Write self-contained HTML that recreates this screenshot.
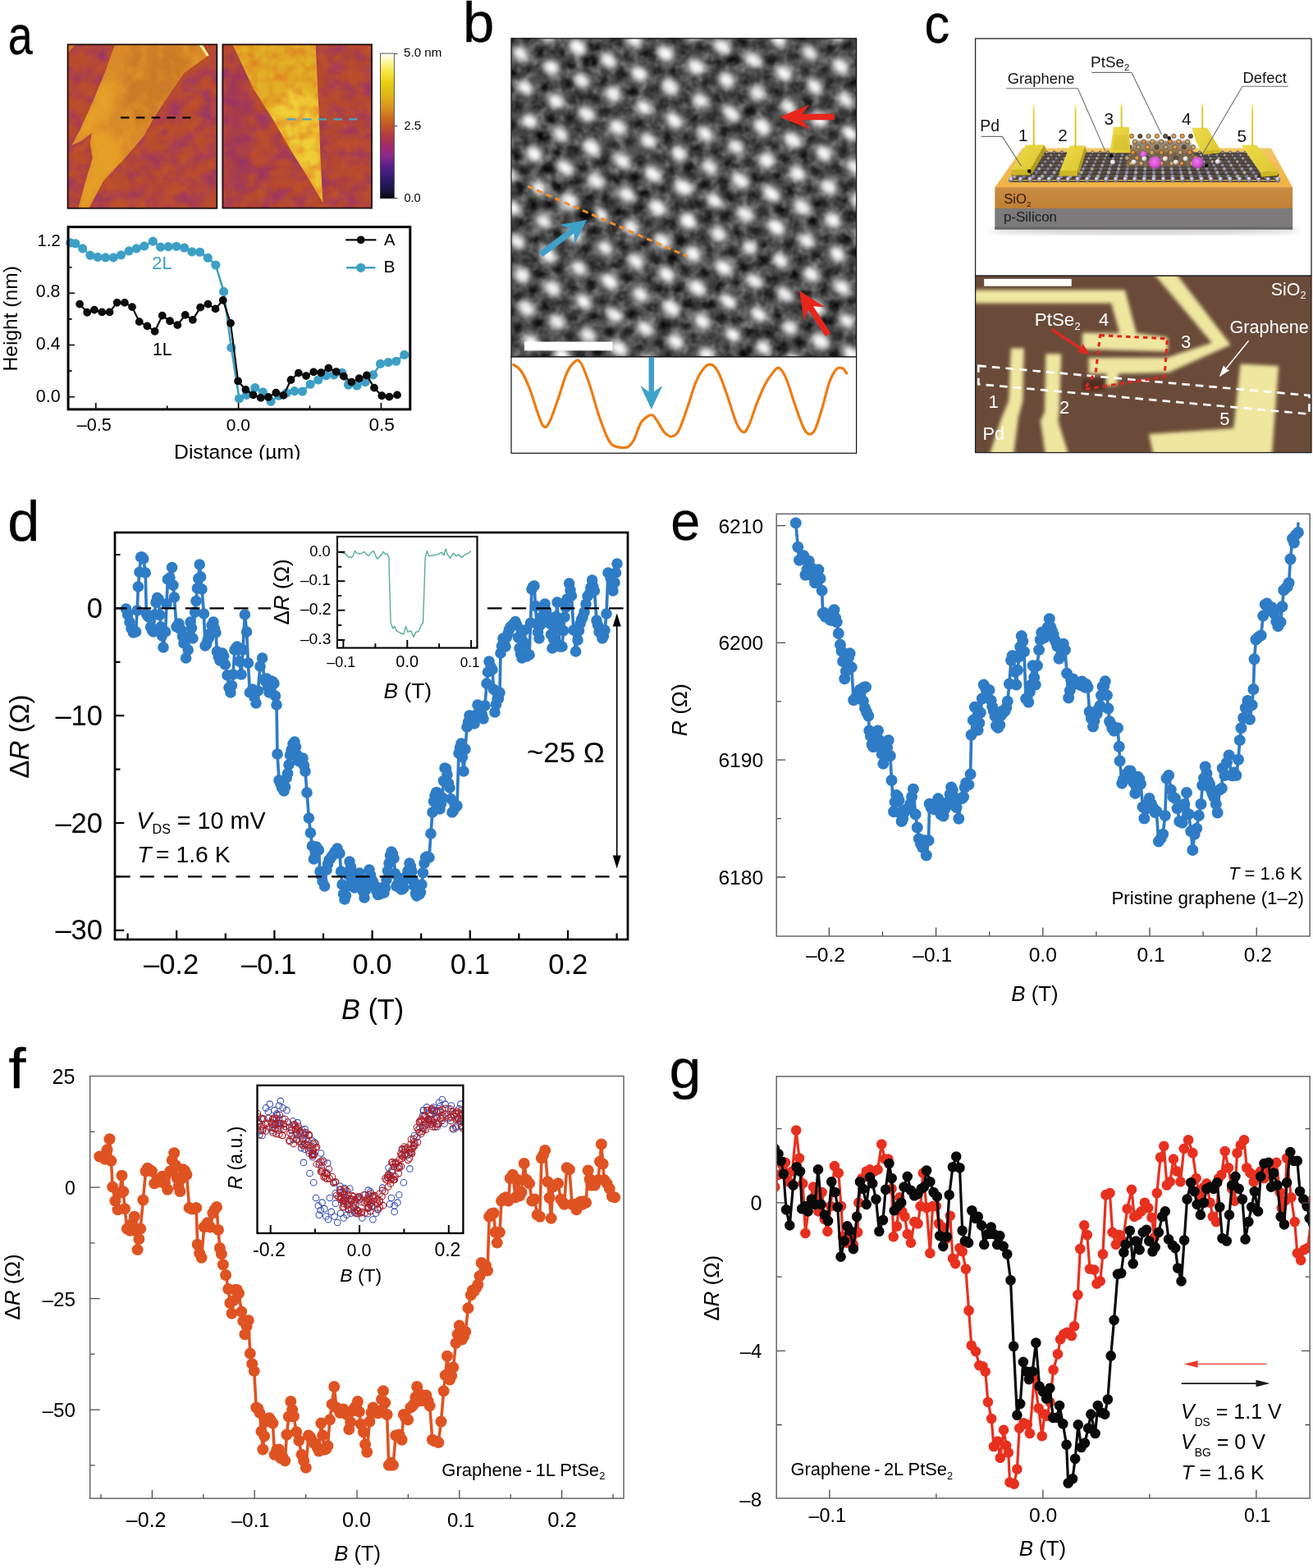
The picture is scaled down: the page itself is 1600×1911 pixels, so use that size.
<!DOCTYPE html>
<html lang="en"><head><meta charset="utf-8"><title>Figure</title>
<style>
html,body{margin:0;padding:0;background:#fff;}
body{width:1600px;height:1911px;overflow:hidden;}
svg{display:block;font-family:'Liberation Sans', Arial, Helvetica, sans-serif;}
</style></head><body>
<svg width="1600" height="1911" viewBox="0 0 1600 1911">
<defs>
<linearGradient id="cbar" x1="0" y1="0" x2="0" y2="1">
<stop offset="0" stop-color="#ffffff"/><stop offset="0.05" stop-color="#fff8b0"/>
<stop offset="0.12" stop-color="#f8e848"/><stop offset="0.20" stop-color="#e8d010"/>
<stop offset="0.28" stop-color="#e0b818"/><stop offset="0.38" stop-color="#d89020"/>
<stop offset="0.44" stop-color="#cc6e20"/><stop offset="0.51" stop-color="#c0502c"/>
<stop offset="0.575" stop-color="#b03848"/><stop offset="0.64" stop-color="#a02c6c"/>
<stop offset="0.705" stop-color="#8c2a8c"/><stop offset="0.77" stop-color="#5c2088"/>
<stop offset="0.835" stop-color="#3c1c7c"/><stop offset="0.90" stop-color="#241860"/>
<stop offset="0.966" stop-color="#181030"/><stop offset="1" stop-color="#050505"/>
</linearGradient>
<filter id="afmP" x="0" y="0" width="100%" height="100%" color-interpolation-filters="sRGB">
<feTurbulence type="fractalNoise" baseFrequency="0.045 0.06" numOctaves="3" seed="7" result="n"/>
<feColorMatrix in="n" type="matrix" values="0 0 0 0 0.60  0 0 0 0 0.20  0 0 0 0 0.42  2.2 0 0 0 -0.85"/>
<feComposite operator="in" in2="SourceGraphic"/>
</filter>
<filter id="afmY" x="0" y="0" width="100%" height="100%" color-interpolation-filters="sRGB">
<feTurbulence type="fractalNoise" baseFrequency="0.06 0.05" numOctaves="3" seed="21" result="n"/>
<feColorMatrix in="n" type="matrix" values="0 0 0 0 0.93  0 0 0 0 0.68  0 0 0 0 0.16  0 2.0 0 0 -0.85"/>
<feComposite operator="in" in2="SourceGraphic"/>
</filter>
<filter id="afmO" x="0" y="0" width="100%" height="100%" color-interpolation-filters="sRGB">
<feTurbulence type="fractalNoise" baseFrequency="0.07 0.07" numOctaves="2" seed="33" result="n"/>
<feColorMatrix in="n" type="matrix" values="0 0 0 0 0.86  0 0 0 0 0.40  0 0 0 0 0.12  0 0 2.4 0 -0.95"/>
<feComposite operator="in" in2="SourceGraphic"/>
</filter>
<filter id="b07"><feGaussianBlur stdDeviation="0.7"/></filter>
<clipPath id="afm1c"><rect x="82.6" y="54.3" width="181.7" height="199.5"/></clipPath>
<clipPath id="afm2c"><rect x="271.4" y="54.3" width="181.6" height="199.3"/></clipPath>
<filter id="b3"><feGaussianBlur stdDeviation="6"/></filter><filter id="b4" x="-30%" y="-30%" width="160%" height="160%"><feGaussianBlur stdDeviation="5"/></filter>

<filter id="stmB" x="-5%" y="-5%" width="110%" height="110%"><feGaussianBlur stdDeviation="3.6"/></filter>
<filter id="stmB2" x="-5%" y="-5%" width="110%" height="110%"><feGaussianBlur stdDeviation="3"/></filter>
<filter id="stmN" x="0" y="0" width="100%" height="100%" color-interpolation-filters="sRGB">
<feTurbulence type="fractalNoise" baseFrequency="0.09" numOctaves="2" seed="4"/>
<feColorMatrix type="matrix" values="0 0 0 0 1  0 0 0 0 1  0 0 0 0 1  3 0 0 0 -1.2"/>
<feComposite operator="in" in2="SourceGraphic"/>
</filter>
<filter id="stmN2" x="0" y="0" width="100%" height="100%" color-interpolation-filters="sRGB">
<feTurbulence type="fractalNoise" baseFrequency="0.09" numOctaves="2" seed="9"/>
<feColorMatrix type="matrix" values="0 0 0 0 0  0 0 0 0 0  0 0 0 0 0  0 3 0 0 -1.2"/>
<feComposite operator="in" in2="SourceGraphic"/>
</filter>
<clipPath id="stmc"><rect x="623" y="46.8" width="420.6" height="388.2"/></clipPath>


<linearGradient id="ctop" x1="0" y1="0" x2="0" y2="1"><stop offset="0" stop-color="#f3c766"/><stop offset="1" stop-color="#efb146"/></linearGradient>
<linearGradient id="csio" x1="0" y1="0" x2="0" y2="1"><stop offset="0" stop-color="#c98c44"/><stop offset="1" stop-color="#c08036"/></linearGradient>
<linearGradient id="cgold" x1="0" y1="0" x2="1" y2="1"><stop offset="0" stop-color="#efdc48"/><stop offset="1" stop-color="#dcc632"/></linearGradient>
<linearGradient id="cwire" x1="0" y1="0" x2="0" y2="1" gradientUnits="objectBoundingBox"><stop offset="0" stop-color="#e8d23c" stop-opacity="0"/><stop offset="0.2" stop-color="#e3cc30"/><stop offset="1" stop-color="#d6be22"/></linearGradient>
<radialGradient id="csph" cx="0.4" cy="0.35" r="0.7"><stop offset="0" stop-color="#ffffff"/><stop offset="0.6" stop-color="#d8d6d4"/><stop offset="1" stop-color="#8a8684"/></radialGradient>
<radialGradient id="csph2" cx="0.4" cy="0.35" r="0.7"><stop offset="0" stop-color="#f0f0f4"/><stop offset="0.55" stop-color="#a8a8b4"/><stop offset="1" stop-color="#5a5a68"/></radialGradient>
<radialGradient id="cpur" cx="0.45" cy="0.4" r="0.6"><stop offset="0" stop-color="#f07af0"/><stop offset="0.7" stop-color="#d24fd0"/><stop offset="1" stop-color="#b63cb6" stop-opacity="0.7"/></radialGradient>
<filter id="b07c"><feGaussianBlur stdDeviation="1.2"/></filter>
<filter id="cblur3"><feGaussianBlur stdDeviation="3"/></filter>
<filter id="phblur" x="-5%" y="-5%" width="110%" height="110%"><feGaussianBlur stdDeviation="2.2"/></filter>
<clipPath id="phc"><rect x="1188.6" y="336.2" width="409.4" height="215.4"/></clipPath>
</defs>
<rect width="1600" height="1911" fill="#fff"/>
<g id="pa"><text font-size="66" textLength="30.02" lengthAdjust="spacingAndGlyphs" x="9.84" y="65.6" stroke="#000" stroke-width="0.3" stroke-linejoin="round">a</text>
<rect x="82.6" y="54.3" width="181.7" height="199.5" fill="#b84a2e" />
<rect x="82.6" y="54.3" width="181.7" height="199.5" fill="#000" filter="url(#afmP)"/>
<rect x="82.6" y="54.3" width="181.7" height="199.5" fill="#000" filter="url(#afmO)" opacity="0.25"/>
<clipPath id="fl1c"><polygon points="140.01,54.6 129.51,84 113.76,122.51 98,157.51 87.5,177.11 98,172.38 112.01,161.88 109.91,175.01 112.88,192.51 105.01,218.76 95.38,253.41 108.51,253.41 126.01,220.51 152.26,192.51 175.01,166.26 185.51,147.01 201.26,122.51 224.01,89.25 253.76,67.38 244.14,54.6" fill="#000" /></clipPath><clipPath id="fl2c"><polygon points="283.63,54.6 384.61,54.6 388.63,140.01 390.38,192.51 393.36,247.11 373.76,213.51 358,189.01 333.5,147.01 309,108.51" fill="#000" /></clipPath>
<g clip-path="url(#afm1c)">
<polygon points="140.01,54.6 129.51,84 113.76,122.51 98,157.51 87.5,177.11 98,172.38 112.01,161.88 109.91,175.01 112.88,192.51 105.01,218.76 95.38,253.41 108.51,253.41 126.01,220.51 152.26,192.51 175.01,166.26 185.51,147.01 201.26,122.51 224.01,89.25 253.76,67.38 244.14,54.6" fill="#d98a2a" filter="url(#b07)"/>
<g clip-path="url(#fl1c)"><polygon points="112.01,161.88 133.01,157.51 152.26,192.51 126.01,220.51 108.51,253.41 95.38,253.41 105.01,218.76 112.88,192.51 109.91,175.01" fill="#e8a428" filter="url(#b4)" opacity="0.8"/><polygon points="87.5,177.11 98,157.51 113.76,122.51 133.01,87.5 140.01,133.01 112.01,161.88" fill="#e9a62a" filter="url(#b4)" opacity="0.7"/></g>
<g clip-path="url(#fl1c)"><polygon points="157.51,54.6 241.51,54.6 227.51,84 201.26,122.51 185.51,147.01 168.01,157.51 150.51,133.01 154.01,91" fill="#c67426" filter="url(#b4)" opacity="0.75"/></g>
<polygon points="82.6,54.6 91.88,54.6 82.6,64.75" fill="#dd8a22" opacity="0.8"/>
<polygon points="242.39,54.6 246.76,54.6 254.64,67.38 252.01,68.6" fill="#fff3a0" filter="url(#b07)"/>
</g>
<g clip-path="url(#afm1c)"><g filter="url(#afmY)" opacity="0.55"><polygon points="140.01,54.6 129.51,84 113.76,122.51 98,157.51 87.5,177.11 98,172.38 112.01,161.88 109.91,175.01 112.88,192.51 105.01,218.76 95.38,253.41 108.51,253.41 126.01,220.51 152.26,192.51 175.01,166.26 185.51,147.01 201.26,122.51 224.01,89.25 253.76,67.38 244.14,54.6" fill="#000" /></g></g>
<rect x="82.6" y="54.3" width="181.7" height="199.5" fill="none" stroke="#1c0c0a" stroke-width="1.8" />
<line x1="147" y1="143.4" x2="232.5" y2="143.4" stroke="#0a0a0a" stroke-width="2.2" stroke-dasharray="10.6 8.2"/>
<rect x="271.4" y="54.3" width="181.6" height="199.3" fill="#b6482f" />
<rect x="271.4" y="54.3" width="181.6" height="199.3" fill="#000" filter="url(#afmP)"/>
<rect x="271.4" y="54.3" width="181.6" height="199.3" fill="#000" filter="url(#afmO)" opacity="0.25"/>
<rect x="271.4" y="84.3" width="30" height="149.3" fill="#8e2c78" opacity="0.35" filter="url(#b3)"/>
<g clip-path="url(#afm2c)">
<polygon points="283.63,54.6 384.61,54.6 388.63,140.01 390.38,192.51 393.36,247.11 373.76,213.51 358,189.01 333.5,147.01 309,108.51" fill="#e2ae28" filter="url(#b07)"/>
<g clip-path="url(#fl2c)"><polygon points="326.5,136.51 358,189.01 373.76,213.51 393.36,247.11 390.38,192.51 388.63,122.51 358,105.01" fill="#f2d238" filter="url(#b4)" opacity="0.9"/></g>
</g>
<g clip-path="url(#afm2c)"><g filter="url(#afmO)" opacity="0.55"><polygon points="283.63,54.6 384.61,54.6 388.63,140.01 390.38,192.51 393.36,247.11 373.76,213.51 358,189.01 333.5,147.01 309,108.51" fill="#000" /></g></g>
<rect x="271.4" y="54.3" width="181.6" height="199.3" fill="none" stroke="#1c0c0a" stroke-width="1.8" />
<line x1="350" y1="145.3" x2="435" y2="145.3" stroke="#45a5c9" stroke-width="2.2" stroke-dasharray="10.6 8.2"/>
<rect x="463.4" y="65.1" width="16.9" height="176.7" fill="url(#cbar)" stroke="#333" stroke-width="0.8" />
<path d="M480.8 65.6h3.5M480.8 153.7h3.5M480.8 241.5h3.5" stroke="#222" stroke-width="0.9" fill="none"/>
<text font-size="15.09" x="492.1" y="69" >5.0 nm</text>
<text font-size="15.08" x="492.25" y="158.2" >2.5</text>
<text font-size="14.6" x="492.42" y="245.8" >0.0</text>
<path d="M83.1 483.7h8M83.1 420.5h8M83.1 357.3h8M83.1 294.1h8" stroke="#000" stroke-width="1.6" fill="none"/>
<path d="M83.1 452.1h4.5M83.1 388.9h4.5M83.1 325.7h4.5" stroke="#000" stroke-width="1.6" fill="none"/>
<path d="M116.8 498.9v-8M290.6 498.9v-8M464.4 498.9v-8" stroke="#000" stroke-width="1.6" fill="none"/>
<path d="M203.7 498.9v-4.5M377.5 498.9v-4.5" stroke="#000" stroke-width="1.6" fill="none"/>
<clipPath id="pac"><rect x="83.1" y="276.6" width="416.7" height="222.3"/></clipPath>
<g ><polyline points="85.75,295.88 91.88,296.75 100.63,302.88 109.91,311.1 119.01,313.38 128.63,313.9 138.26,313.9 147.53,310.75 157.16,305.85 166.26,302.88 175.88,299.9 186.38,294.13 195.66,301.13 205.11,300.6 214.91,300.25 224.54,302 233.99,306.9 243.61,307.25 253.24,314.25 262.86,323 272.6,355.38 281.88,423.63 291.5,485.76 300.6,481.39 310.75,472.64 320.38,477.89 330,489.26 339.63,482.26 349.25,478.76 358.88,476.66 368.51,477.01 378.13,468.26 387.76,463.01 397.38,457.76 407.01,456.88 416.63,454.26 424.51,469.14 435.01,470.01 445.16,465.64 454.61,456.88 463.54,443.41 473.16,441.66 482.79,440.26 492.76,432.38" fill="none" stroke="#3d9fc6" stroke-width="2.6" stroke-linejoin="round" /><path d="M80.15 295.88a5.6 5.6 0 1 0 11.2 0a5.6 5.6 0 1 0 -11.2 0zM86.28 296.75a5.6 5.6 0 1 0 11.2 0a5.6 5.6 0 1 0 -11.2 0zM95.03 302.88a5.6 5.6 0 1 0 11.2 0a5.6 5.6 0 1 0 -11.2 0zM104.31 311.1a5.6 5.6 0 1 0 11.2 0a5.6 5.6 0 1 0 -11.2 0zM113.41 313.38a5.6 5.6 0 1 0 11.2 0a5.6 5.6 0 1 0 -11.2 0zM123.03 313.9a5.6 5.6 0 1 0 11.2 0a5.6 5.6 0 1 0 -11.2 0zM132.66 313.9a5.6 5.6 0 1 0 11.2 0a5.6 5.6 0 1 0 -11.2 0zM141.93 310.75a5.6 5.6 0 1 0 11.2 0a5.6 5.6 0 1 0 -11.2 0zM151.56 305.85a5.6 5.6 0 1 0 11.2 0a5.6 5.6 0 1 0 -11.2 0zM160.66 302.88a5.6 5.6 0 1 0 11.2 0a5.6 5.6 0 1 0 -11.2 0zM170.28 299.9a5.6 5.6 0 1 0 11.2 0a5.6 5.6 0 1 0 -11.2 0zM180.78 294.13a5.6 5.6 0 1 0 11.2 0a5.6 5.6 0 1 0 -11.2 0zM190.06 301.13a5.6 5.6 0 1 0 11.2 0a5.6 5.6 0 1 0 -11.2 0zM199.51 300.6a5.6 5.6 0 1 0 11.2 0a5.6 5.6 0 1 0 -11.2 0zM209.31 300.25a5.6 5.6 0 1 0 11.2 0a5.6 5.6 0 1 0 -11.2 0zM218.94 302a5.6 5.6 0 1 0 11.2 0a5.6 5.6 0 1 0 -11.2 0zM228.39 306.9a5.6 5.6 0 1 0 11.2 0a5.6 5.6 0 1 0 -11.2 0zM238.01 307.25a5.6 5.6 0 1 0 11.2 0a5.6 5.6 0 1 0 -11.2 0zM247.64 314.25a5.6 5.6 0 1 0 11.2 0a5.6 5.6 0 1 0 -11.2 0zM257.26 323a5.6 5.6 0 1 0 11.2 0a5.6 5.6 0 1 0 -11.2 0zM267 355.38a5.6 5.6 0 1 0 11.2 0a5.6 5.6 0 1 0 -11.2 0zM276.28 423.63a5.6 5.6 0 1 0 11.2 0a5.6 5.6 0 1 0 -11.2 0zM285.9 485.76a5.6 5.6 0 1 0 11.2 0a5.6 5.6 0 1 0 -11.2 0zM295 481.39a5.6 5.6 0 1 0 11.2 0a5.6 5.6 0 1 0 -11.2 0zM305.15 472.64a5.6 5.6 0 1 0 11.2 0a5.6 5.6 0 1 0 -11.2 0zM314.78 477.89a5.6 5.6 0 1 0 11.2 0a5.6 5.6 0 1 0 -11.2 0zM324.4 489.26a5.6 5.6 0 1 0 11.2 0a5.6 5.6 0 1 0 -11.2 0zM334.03 482.26a5.6 5.6 0 1 0 11.2 0a5.6 5.6 0 1 0 -11.2 0zM343.65 478.76a5.6 5.6 0 1 0 11.2 0a5.6 5.6 0 1 0 -11.2 0zM353.28 476.66a5.6 5.6 0 1 0 11.2 0a5.6 5.6 0 1 0 -11.2 0zM362.91 477.01a5.6 5.6 0 1 0 11.2 0a5.6 5.6 0 1 0 -11.2 0zM372.53 468.26a5.6 5.6 0 1 0 11.2 0a5.6 5.6 0 1 0 -11.2 0zM382.16 463.01a5.6 5.6 0 1 0 11.2 0a5.6 5.6 0 1 0 -11.2 0zM391.78 457.76a5.6 5.6 0 1 0 11.2 0a5.6 5.6 0 1 0 -11.2 0zM401.41 456.88a5.6 5.6 0 1 0 11.2 0a5.6 5.6 0 1 0 -11.2 0zM411.03 454.26a5.6 5.6 0 1 0 11.2 0a5.6 5.6 0 1 0 -11.2 0zM418.91 469.14a5.6 5.6 0 1 0 11.2 0a5.6 5.6 0 1 0 -11.2 0zM429.41 470.01a5.6 5.6 0 1 0 11.2 0a5.6 5.6 0 1 0 -11.2 0zM439.56 465.64a5.6 5.6 0 1 0 11.2 0a5.6 5.6 0 1 0 -11.2 0zM449.01 456.88a5.6 5.6 0 1 0 11.2 0a5.6 5.6 0 1 0 -11.2 0zM457.94 443.41a5.6 5.6 0 1 0 11.2 0a5.6 5.6 0 1 0 -11.2 0zM467.56 441.66a5.6 5.6 0 1 0 11.2 0a5.6 5.6 0 1 0 -11.2 0zM477.19 440.26a5.6 5.6 0 1 0 11.2 0a5.6 5.6 0 1 0 -11.2 0zM487.16 432.38a5.6 5.6 0 1 0 11.2 0a5.6 5.6 0 1 0 -11.2 0z" fill="#3d9fc6" /></g>
<g ><polyline points="97.13,370.61 106.23,380.76 114.98,377.61 124.26,380.41 133.53,380.41 142.63,368.86 151.91,368.86 161.01,374.11 169.76,392.13 179.38,397.38 188.66,403.86 197.76,384.61 207.04,391.26 216.31,396.16 225.76,383.91 234.86,389.86 244.14,374.63 253.41,370.61 262.51,376.38 271.79,365.88 281,393.88 290.1,464.41 299.38,474.91 308.65,481.39 317.75,484.89 327.03,484.01 336.3,478.76 345.4,481.91 354.5,463.01 363.78,454.61 373.06,458.11 382.16,453.38 391.26,454.26 400.36,448.66 409.81,453.03 418.91,458.63 428.36,465.64 437.63,461.26 446.91,457.41 456.01,472.64 465.29,482.26 474.39,483.66 484.01,481.39" fill="none" stroke="#0c0c0c" stroke-width="2.2" stroke-linejoin="round" /><path d="M92.23 370.61a4.9 4.9 0 1 0 9.8 0a4.9 4.9 0 1 0 -9.8 0zM101.33 380.76a4.9 4.9 0 1 0 9.8 0a4.9 4.9 0 1 0 -9.8 0zM110.08 377.61a4.9 4.9 0 1 0 9.8 0a4.9 4.9 0 1 0 -9.8 0zM119.36 380.41a4.9 4.9 0 1 0 9.8 0a4.9 4.9 0 1 0 -9.8 0zM128.63 380.41a4.9 4.9 0 1 0 9.8 0a4.9 4.9 0 1 0 -9.8 0zM137.73 368.86a4.9 4.9 0 1 0 9.8 0a4.9 4.9 0 1 0 -9.8 0zM147.01 368.86a4.9 4.9 0 1 0 9.8 0a4.9 4.9 0 1 0 -9.8 0zM156.11 374.11a4.9 4.9 0 1 0 9.8 0a4.9 4.9 0 1 0 -9.8 0zM164.86 392.13a4.9 4.9 0 1 0 9.8 0a4.9 4.9 0 1 0 -9.8 0zM174.48 397.38a4.9 4.9 0 1 0 9.8 0a4.9 4.9 0 1 0 -9.8 0zM183.76 403.86a4.9 4.9 0 1 0 9.8 0a4.9 4.9 0 1 0 -9.8 0zM192.86 384.61a4.9 4.9 0 1 0 9.8 0a4.9 4.9 0 1 0 -9.8 0zM202.14 391.26a4.9 4.9 0 1 0 9.8 0a4.9 4.9 0 1 0 -9.8 0zM211.41 396.16a4.9 4.9 0 1 0 9.8 0a4.9 4.9 0 1 0 -9.8 0zM220.86 383.91a4.9 4.9 0 1 0 9.8 0a4.9 4.9 0 1 0 -9.8 0zM229.96 389.86a4.9 4.9 0 1 0 9.8 0a4.9 4.9 0 1 0 -9.8 0zM239.24 374.63a4.9 4.9 0 1 0 9.8 0a4.9 4.9 0 1 0 -9.8 0zM248.51 370.61a4.9 4.9 0 1 0 9.8 0a4.9 4.9 0 1 0 -9.8 0zM257.61 376.38a4.9 4.9 0 1 0 9.8 0a4.9 4.9 0 1 0 -9.8 0zM266.89 365.88a4.9 4.9 0 1 0 9.8 0a4.9 4.9 0 1 0 -9.8 0zM276.1 393.88a4.9 4.9 0 1 0 9.8 0a4.9 4.9 0 1 0 -9.8 0zM285.2 464.41a4.9 4.9 0 1 0 9.8 0a4.9 4.9 0 1 0 -9.8 0zM294.48 474.91a4.9 4.9 0 1 0 9.8 0a4.9 4.9 0 1 0 -9.8 0zM303.75 481.39a4.9 4.9 0 1 0 9.8 0a4.9 4.9 0 1 0 -9.8 0zM312.85 484.89a4.9 4.9 0 1 0 9.8 0a4.9 4.9 0 1 0 -9.8 0zM322.13 484.01a4.9 4.9 0 1 0 9.8 0a4.9 4.9 0 1 0 -9.8 0zM331.4 478.76a4.9 4.9 0 1 0 9.8 0a4.9 4.9 0 1 0 -9.8 0zM340.5 481.91a4.9 4.9 0 1 0 9.8 0a4.9 4.9 0 1 0 -9.8 0zM349.6 463.01a4.9 4.9 0 1 0 9.8 0a4.9 4.9 0 1 0 -9.8 0zM358.88 454.61a4.9 4.9 0 1 0 9.8 0a4.9 4.9 0 1 0 -9.8 0zM368.16 458.11a4.9 4.9 0 1 0 9.8 0a4.9 4.9 0 1 0 -9.8 0zM377.26 453.38a4.9 4.9 0 1 0 9.8 0a4.9 4.9 0 1 0 -9.8 0zM386.36 454.26a4.9 4.9 0 1 0 9.8 0a4.9 4.9 0 1 0 -9.8 0zM395.46 448.66a4.9 4.9 0 1 0 9.8 0a4.9 4.9 0 1 0 -9.8 0zM404.91 453.03a4.9 4.9 0 1 0 9.8 0a4.9 4.9 0 1 0 -9.8 0zM414.01 458.63a4.9 4.9 0 1 0 9.8 0a4.9 4.9 0 1 0 -9.8 0zM423.46 465.64a4.9 4.9 0 1 0 9.8 0a4.9 4.9 0 1 0 -9.8 0zM432.73 461.26a4.9 4.9 0 1 0 9.8 0a4.9 4.9 0 1 0 -9.8 0zM442.01 457.41a4.9 4.9 0 1 0 9.8 0a4.9 4.9 0 1 0 -9.8 0zM451.11 472.64a4.9 4.9 0 1 0 9.8 0a4.9 4.9 0 1 0 -9.8 0zM460.39 482.26a4.9 4.9 0 1 0 9.8 0a4.9 4.9 0 1 0 -9.8 0zM469.49 483.66a4.9 4.9 0 1 0 9.8 0a4.9 4.9 0 1 0 -9.8 0zM479.11 481.39a4.9 4.9 0 1 0 9.8 0a4.9 4.9 0 1 0 -9.8 0z" fill="#0c0c0c" /></g>
<rect x="83.1" y="276.6" width="416.7" height="222.3" fill="none" stroke="#000" stroke-width="3" />
<path d="M434.8 292.3a4.9 4.9 0 1 0 9.8 0a4.9 4.9 0 1 0 -9.8 0z" fill="#0c0c0c" />
<line x1="421.2" y1="292.3" x2="458.4" y2="292.3" stroke="#0c0c0c" stroke-width="2.2" />
<line x1="422.2" y1="326.3" x2="457.3" y2="326.3" stroke="#3d9fc6" stroke-width="2.6" />
<path d="M434.1 326.3a5.6 5.6 0 1 0 11.2 0a5.6 5.6 0 1 0 -11.2 0z" fill="#3d9fc6" />
<text font-size="20.15" x="467.9" y="298.5" >A</text>
<text font-size="21.12" x="467.51" y="331.8" >B</text>
<text font-size="21.84" fill="#3d9fc6" x="185.31" y="327.6" >2L</text>
<text font-size="21.19" x="186.01" y="432.8" >1L</text>
<text font-size="20.16" x="45.59" y="299.5" >1.2</text>
<text font-size="21.3" x="43.85" y="362.2" >0.8</text>
<text font-size="21.44" x="43.84" y="425.7" >0.4</text>
<text font-size="21.52" x="43.84" y="490" >0.0</text>
<text font-size="21.68" x="93.7" y="525.2" >–0.5</text>
<text font-size="20.99" x="275.86" y="524.6" >0.0</text>
<text font-size="22.67" x="449.39" y="524.6" >0.5</text>
<text font-size="24.57" transform="translate(20.6 450.5) rotate(-90)" x="-1.97" y="0" >Height (nm)</text>
<clipPath id="pacl"><rect x="0" y="500" width="600" height="60.3"/></clipPath>
<g clip-path="url(#pacl)"><text font-size="24.74" x="212.02" y="558.8" >Distance (µm)</text></g></g>
<g id="pb"><text font-size="69" x="564.02" y="51" stroke="#000" stroke-width="0.3" stroke-linejoin="round">b</text>
<g clip-path="url(#stmc)">
<rect x="623" y="46.8" width="420.6" height="388.2" fill="#555555" />
<g filter="url(#stmB2)"><ellipse cx="599.34" cy="487.31" rx="8.3" ry="6.14" fill="#000" opacity="0.9"/><ellipse cx="609.88" cy="503.93" rx="8.65" ry="6.4" fill="#000" opacity="0.97"/><ellipse cx="603.77" cy="254.57" rx="9.26" ry="6.84" fill="#000" opacity="0.86"/><ellipse cx="616.35" cy="275.87" rx="7.84" ry="5.8" fill="#000" opacity="0.7"/><ellipse cx="606.26" cy="299.38" rx="6.48" ry="4.79" fill="#000" opacity="0.69"/><ellipse cx="623.22" cy="314.49" rx="8.73" ry="6.45" fill="#000" opacity="0.66"/><ellipse cx="610.48" cy="339.96" rx="8.29" ry="6.12" fill="#000" opacity="0.65"/><ellipse cx="629.75" cy="358.96" rx="7.07" ry="5.22" fill="#000" opacity="0.69"/><ellipse cx="618.76" cy="379.79" rx="7.31" ry="5.4" fill="#000" opacity="0.98"/><ellipse cx="633.89" cy="400.23" rx="7.05" ry="5.21" fill="#000" opacity="0.98"/><ellipse cx="623.47" cy="418.03" rx="9.11" ry="6.74" fill="#000" opacity="0.72"/><ellipse cx="637.54" cy="439.22" rx="6.88" ry="5.08" fill="#000" opacity="0.63"/><ellipse cx="628.96" cy="459.55" rx="6.45" ry="4.77" fill="#000" opacity="0.87"/><ellipse cx="643.21" cy="479.41" rx="8.89" ry="6.57" fill="#000" opacity="0.79"/><ellipse cx="608.04" cy="25.51" rx="8.55" ry="6.32" fill="#000" opacity="0.62"/><ellipse cx="617.62" cy="48.34" rx="8.68" ry="6.42" fill="#000" opacity="0.94"/><ellipse cx="608.81" cy="66.43" rx="7.53" ry="5.57" fill="#000" opacity="0.83"/><ellipse cx="624.12" cy="88.98" rx="6.98" ry="5.16" fill="#000" opacity="0.98"/><ellipse cx="616.09" cy="108.77" rx="9.22" ry="6.81" fill="#000" opacity="0.98"/><ellipse cx="629.27" cy="129.74" rx="8.01" ry="5.92" fill="#000" opacity="0.91"/><ellipse cx="620.15" cy="152.53" rx="8.82" ry="6.52" fill="#000" opacity="0.94"/><ellipse cx="637.39" cy="171.39" rx="6.71" ry="4.96" fill="#000" opacity="0.74"/><ellipse cx="628.29" cy="190.16" rx="7.46" ry="5.51" fill="#000" opacity="0.97"/><ellipse cx="640.32" cy="208.34" rx="7.39" ry="5.46" fill="#000" opacity="0.67"/><ellipse cx="631.97" cy="229.64" rx="8.5" ry="6.28" fill="#000" opacity="1"/><ellipse cx="647.56" cy="249.59" rx="9.39" ry="6.94" fill="#000" opacity="0.81"/><ellipse cx="639.04" cy="272.31" rx="8.22" ry="6.07" fill="#000" opacity="0.93"/><ellipse cx="651.3" cy="291.67" rx="6.61" ry="4.88" fill="#000" opacity="0.97"/><ellipse cx="646.02" cy="315.75" rx="8.95" ry="6.61" fill="#000" opacity="0.65"/><ellipse cx="657.27" cy="332.17" rx="8.32" ry="6.15" fill="#000" opacity="0.92"/><ellipse cx="649.44" cy="354.07" rx="6.89" ry="5.09" fill="#000" opacity="0.94"/><ellipse cx="667.21" cy="373.07" rx="9.43" ry="6.97" fill="#000" opacity="0.94"/><ellipse cx="655.96" cy="394.06" rx="7.9" ry="5.84" fill="#000" opacity="0.89"/><ellipse cx="669.82" cy="416.54" rx="7.65" ry="5.65" fill="#000" opacity="0.66"/><ellipse cx="661.66" cy="435.09" rx="9.31" ry="6.88" fill="#000" opacity="0.85"/><ellipse cx="677.44" cy="456.74" rx="6.71" ry="4.96" fill="#000" opacity="0.71"/><ellipse cx="668.64" cy="477.67" rx="7.52" ry="5.56" fill="#000" opacity="0.91"/><ellipse cx="680.95" cy="496.72" rx="8.43" ry="6.23" fill="#000" opacity="0.9"/><ellipse cx="644.52" cy="45.05" rx="7.28" ry="5.38" fill="#000" opacity="0.79"/><ellipse cx="658.28" cy="63.5" rx="7.32" ry="5.41" fill="#000" opacity="0.98"/><ellipse cx="647.52" cy="85.76" rx="6.47" ry="4.79" fill="#000" opacity="0.82"/><ellipse cx="663.87" cy="105.39" rx="7.82" ry="5.78" fill="#000" opacity="0.93"/><ellipse cx="655.56" cy="127.34" rx="7.48" ry="5.53" fill="#000" opacity="0.86"/><ellipse cx="670.58" cy="145.64" rx="7.49" ry="5.53" fill="#000" opacity="0.94"/><ellipse cx="660.06" cy="166.65" rx="9.36" ry="6.92" fill="#000" opacity="0.98"/><ellipse cx="676.52" cy="185.39" rx="6.94" ry="5.13" fill="#000" opacity="0.93"/><ellipse cx="666.72" cy="205.66" rx="8.51" ry="6.29" fill="#000" opacity="0.89"/><ellipse cx="680.76" cy="225.9" rx="8.77" ry="6.48" fill="#000" opacity="0.83"/><ellipse cx="671.85" cy="249.2" rx="8.3" ry="6.14" fill="#000" opacity="0.91"/><ellipse cx="685.24" cy="267.85" rx="6.52" ry="4.82" fill="#000" opacity="0.66"/><ellipse cx="677.42" cy="286.61" rx="7.09" ry="5.24" fill="#000" opacity="0.87"/><ellipse cx="688.9" cy="306.07" rx="7.85" ry="5.8" fill="#000" opacity="0.69"/><ellipse cx="680.83" cy="327.38" rx="7.39" ry="5.46" fill="#000" opacity="0.67"/><ellipse cx="697.29" cy="349.15" rx="7.83" ry="5.79" fill="#000" opacity="0.75"/><ellipse cx="685.47" cy="370.03" rx="7.15" ry="5.29" fill="#000" opacity="0.96"/><ellipse cx="700.41" cy="391.16" rx="7.27" ry="5.38" fill="#000" opacity="0.76"/><ellipse cx="694.13" cy="409.27" rx="7.56" ry="5.59" fill="#000" opacity="0.61"/><ellipse cx="708.34" cy="432.59" rx="8.07" ry="5.96" fill="#000" opacity="0.74"/><ellipse cx="700.73" cy="452.81" rx="8.89" ry="6.57" fill="#000" opacity="0.77"/><ellipse cx="714.01" cy="471.42" rx="7.54" ry="5.58" fill="#000" opacity="0.66"/><ellipse cx="705.31" cy="492.16" rx="9.3" ry="6.88" fill="#000" opacity="0.99"/><ellipse cx="717.17" cy="512.23" rx="9.11" ry="6.73" fill="#000" opacity="0.6"/><ellipse cx="681.31" cy="62.26" rx="8.28" ry="6.12" fill="#000" opacity="0.66"/><ellipse cx="693.67" cy="78.26" rx="7.56" ry="5.59" fill="#000" opacity="0.77"/><ellipse cx="688.57" cy="103.17" rx="9.35" ry="6.91" fill="#000" opacity="0.75"/><ellipse cx="703.04" cy="120.08" rx="8.22" ry="6.08" fill="#000" opacity="0.7"/><ellipse cx="694.29" cy="141.86" rx="7.68" ry="5.68" fill="#000" opacity="0.73"/><ellipse cx="704.34" cy="161.51" rx="7.3" ry="5.39" fill="#000" opacity="0.79"/><ellipse cx="698.88" cy="184.33" rx="7.77" ry="5.74" fill="#000" opacity="0.72"/><ellipse cx="710.7" cy="203.88" rx="6.48" ry="4.79" fill="#000" opacity="0.81"/><ellipse cx="701.91" cy="221.77" rx="8.78" ry="6.49" fill="#000" opacity="0.7"/><ellipse cx="717.97" cy="242.37" rx="9.4" ry="6.95" fill="#000" opacity="0.72"/><ellipse cx="709.88" cy="262.39" rx="8.37" ry="6.19" fill="#000" opacity="0.84"/><ellipse cx="723.2" cy="282.48" rx="8.71" ry="6.44" fill="#000" opacity="0.72"/><ellipse cx="714.09" cy="304.41" rx="7.33" ry="5.42" fill="#000" opacity="0.81"/><ellipse cx="726.32" cy="322.86" rx="8.67" ry="6.41" fill="#000" opacity="0.84"/><ellipse cx="721.81" cy="346.13" rx="7.8" ry="5.77" fill="#000" opacity="0.97"/><ellipse cx="733.87" cy="365.28" rx="6.48" ry="4.79" fill="#000" opacity="0.91"/><ellipse cx="725.38" cy="388.76" rx="8.56" ry="6.33" fill="#000" opacity="0.85"/><ellipse cx="741.59" cy="404.18" rx="7.59" ry="5.61" fill="#000" opacity="0.76"/><ellipse cx="728.9" cy="429.18" rx="7.33" ry="5.42" fill="#000" opacity="0.93"/><ellipse cx="744.37" cy="447.9" rx="8.52" ry="6.3" fill="#000" opacity="0.77"/><ellipse cx="736.56" cy="468.55" rx="9.16" ry="6.77" fill="#000" opacity="0.66"/><ellipse cx="749.3" cy="487.73" rx="7.93" ry="5.86" fill="#000" opacity="0.73"/><ellipse cx="711.22" cy="37.3" rx="8.87" ry="6.55" fill="#000" opacity="0.63"/><ellipse cx="724.56" cy="55.81" rx="8.81" ry="6.51" fill="#000" opacity="0.87"/><ellipse cx="719.17" cy="74.24" rx="9.37" ry="6.92" fill="#000" opacity="1"/><ellipse cx="733.26" cy="97.76" rx="8.96" ry="6.62" fill="#000" opacity="0.69"/><ellipse cx="722.73" cy="119.39" rx="8.57" ry="6.33" fill="#000" opacity="0.65"/><ellipse cx="737.7" cy="134.61" rx="6.89" ry="5.09" fill="#000" opacity="0.84"/><ellipse cx="727.41" cy="157.5" rx="8.3" ry="6.14" fill="#000" opacity="0.62"/><ellipse cx="744.11" cy="178.31" rx="6.66" ry="4.92" fill="#000" opacity="0.62"/><ellipse cx="734.63" cy="197.97" rx="9.07" ry="6.7" fill="#000" opacity="0.65"/><ellipse cx="751.53" cy="217.27" rx="8.23" ry="6.09" fill="#000" opacity="0.8"/><ellipse cx="738.82" cy="240.36" rx="6.61" ry="4.88" fill="#000" opacity="0.88"/><ellipse cx="755.21" cy="259.3" rx="7.95" ry="5.88" fill="#000" opacity="0.96"/><ellipse cx="744.94" cy="281.75" rx="7.23" ry="5.34" fill="#000" opacity="0.82"/><ellipse cx="759.21" cy="298.86" rx="7.99" ry="5.9" fill="#000" opacity="0.65"/><ellipse cx="752.83" cy="322.08" rx="8.64" ry="6.39" fill="#000" opacity="0.67"/><ellipse cx="764.09" cy="338.42" rx="6.69" ry="4.95" fill="#000" opacity="0.87"/><ellipse cx="759.25" cy="362" rx="8.22" ry="6.07" fill="#000" opacity="0.7"/><ellipse cx="769.38" cy="382.23" rx="7.41" ry="5.47" fill="#000" opacity="0.92"/><ellipse cx="765.23" cy="403.81" rx="6.6" ry="4.88" fill="#000" opacity="0.66"/><ellipse cx="779.7" cy="422.73" rx="7.11" ry="5.25" fill="#000" opacity="0.65"/><ellipse cx="769.19" cy="442.97" rx="8.89" ry="6.57" fill="#000" opacity="0.66"/><ellipse cx="783.5" cy="461.94" rx="7.14" ry="5.28" fill="#000" opacity="0.73"/><ellipse cx="775.82" cy="485.24" rx="7.59" ry="5.61" fill="#000" opacity="0.65"/><ellipse cx="790.29" cy="503.59" rx="8.85" ry="6.54" fill="#000" opacity="0.77"/><ellipse cx="751.27" cy="51.38" rx="8.21" ry="6.07" fill="#000" opacity="0.83"/><ellipse cx="762.95" cy="68.6" rx="6.73" ry="4.97" fill="#000" opacity="0.61"/><ellipse cx="756.97" cy="90.2" rx="9.1" ry="6.73" fill="#000" opacity="0.79"/><ellipse cx="770.63" cy="111.34" rx="7.85" ry="5.8" fill="#000" opacity="0.96"/><ellipse cx="759.54" cy="131.8" rx="7.83" ry="5.79" fill="#000" opacity="0.64"/><ellipse cx="777.54" cy="150.76" rx="7.56" ry="5.59" fill="#000" opacity="0.75"/><ellipse cx="765.17" cy="173.24" rx="7.2" ry="5.32" fill="#000" opacity="0.71"/><ellipse cx="778.89" cy="195.42" rx="7.14" ry="5.28" fill="#000" opacity="0.79"/><ellipse cx="773.41" cy="215.97" rx="7.54" ry="5.58" fill="#000" opacity="0.98"/><ellipse cx="784.92" cy="234.94" rx="7.85" ry="5.8" fill="#000" opacity="0.98"/><ellipse cx="779.21" cy="254.22" rx="7.31" ry="5.4" fill="#000" opacity="0.87"/><ellipse cx="791.09" cy="272.79" rx="7.04" ry="5.2" fill="#000" opacity="0.61"/><ellipse cx="782.99" cy="295.76" rx="7.64" ry="5.65" fill="#000" opacity="0.99"/><ellipse cx="799.2" cy="316.79" rx="7.84" ry="5.79" fill="#000" opacity="0.71"/><ellipse cx="790.13" cy="339.7" rx="6.93" ry="5.12" fill="#000" opacity="0.7"/><ellipse cx="806.01" cy="354.03" rx="8.37" ry="6.19" fill="#000" opacity="0.77"/><ellipse cx="794.42" cy="376.02" rx="6.62" ry="4.89" fill="#000" opacity="0.91"/><ellipse cx="809.33" cy="396.55" rx="8.08" ry="5.97" fill="#000" opacity="1"/><ellipse cx="802.46" cy="419.06" rx="6.72" ry="4.97" fill="#000" opacity="0.63"/><ellipse cx="813.55" cy="435.85" rx="9.24" ry="6.83" fill="#000" opacity="0.62"/><ellipse cx="804.84" cy="459.44" rx="7.63" ry="5.64" fill="#000" opacity="0.62"/><ellipse cx="818.12" cy="481.26" rx="7.35" ry="5.44" fill="#000" opacity="0.62"/><ellipse cx="781.48" cy="27.46" rx="6.98" ry="5.16" fill="#000" opacity="0.8"/><ellipse cx="794.37" cy="46.51" rx="6.69" ry="4.95" fill="#000" opacity="0.73"/><ellipse cx="789.35" cy="66.67" rx="9.19" ry="6.8" fill="#000" opacity="0.84"/><ellipse cx="801.87" cy="87.46" rx="6.49" ry="4.8" fill="#000" opacity="0.82"/><ellipse cx="794.29" cy="110.96" rx="7.57" ry="5.59" fill="#000" opacity="0.85"/><ellipse cx="809.17" cy="126.52" rx="7.36" ry="5.44" fill="#000" opacity="0.78"/><ellipse cx="796.7" cy="151.06" rx="6.79" ry="5.02" fill="#000" opacity="0.72"/><ellipse cx="811.28" cy="166.61" rx="8.89" ry="6.57" fill="#000" opacity="0.73"/><ellipse cx="804.01" cy="190.88" rx="7.17" ry="5.3" fill="#000" opacity="0.63"/><ellipse cx="819.74" cy="207.24" rx="7.17" ry="5.3" fill="#000" opacity="0.62"/><ellipse cx="809.34" cy="229.29" rx="7.04" ry="5.2" fill="#000" opacity="0.71"/><ellipse cx="825.59" cy="250.58" rx="7.7" ry="5.69" fill="#000" opacity="0.73"/><ellipse cx="816.87" cy="272.47" rx="9.12" ry="6.74" fill="#000" opacity="0.86"/><ellipse cx="830.71" cy="293.37" rx="7.76" ry="5.74" fill="#000" opacity="0.93"/><ellipse cx="820.01" cy="314.46" rx="8.62" ry="6.37" fill="#000" opacity="0.88"/><ellipse cx="833.36" cy="330.25" rx="7.58" ry="5.61" fill="#000" opacity="0.65"/><ellipse cx="825.69" cy="351.52" rx="7.23" ry="5.34" fill="#000" opacity="0.87"/><ellipse cx="838.77" cy="370.45" rx="8.72" ry="6.45" fill="#000" opacity="0.82"/><ellipse cx="834.17" cy="396.75" rx="6.83" ry="5.05" fill="#000" opacity="0.74"/><ellipse cx="846.38" cy="412.81" rx="8.27" ry="6.11" fill="#000" opacity="0.69"/><ellipse cx="838.39" cy="436.93" rx="7.43" ry="5.49" fill="#000" opacity="0.6"/><ellipse cx="852.48" cy="452.66" rx="8.61" ry="6.37" fill="#000" opacity="0.64"/><ellipse cx="845.76" cy="477.57" rx="8.56" ry="6.33" fill="#000" opacity="0.78"/><ellipse cx="860.01" cy="494.9" rx="6.79" ry="5.02" fill="#000" opacity="0.73"/><ellipse cx="820.8" cy="45.68" rx="7.74" ry="5.72" fill="#000" opacity="0.78"/><ellipse cx="834.31" cy="60.52" rx="8.03" ry="5.94" fill="#000" opacity="0.99"/><ellipse cx="822.83" cy="86.69" rx="8.87" ry="6.56" fill="#000" opacity="0.77"/><ellipse cx="839.34" cy="105.21" rx="6.54" ry="4.83" fill="#000" opacity="0.83"/><ellipse cx="829.55" cy="123.61" rx="7.61" ry="5.63" fill="#000" opacity="0.69"/><ellipse cx="846.29" cy="142.81" rx="8.12" ry="6" fill="#000" opacity="0.74"/><ellipse cx="838.68" cy="167.6" rx="7.49" ry="5.54" fill="#000" opacity="0.7"/><ellipse cx="850.14" cy="183.12" rx="8.98" ry="6.64" fill="#000" opacity="0.85"/><ellipse cx="839.56" cy="205.05" rx="8.93" ry="6.6" fill="#000" opacity="0.8"/><ellipse cx="858.23" cy="224.2" rx="6.74" ry="4.98" fill="#000" opacity="0.89"/><ellipse cx="848.38" cy="249.32" rx="8.82" ry="6.52" fill="#000" opacity="0.73"/><ellipse cx="861.22" cy="264.05" rx="8.3" ry="6.14" fill="#000" opacity="0.92"/><ellipse cx="851.49" cy="287.75" rx="7.97" ry="5.89" fill="#000" opacity="0.83"/><ellipse cx="866.49" cy="306.71" rx="7.39" ry="5.46" fill="#000" opacity="0.61"/><ellipse cx="858.16" cy="331.51" rx="7.86" ry="5.81" fill="#000" opacity="0.88"/><ellipse cx="874" cy="348.95" rx="8.88" ry="6.56" fill="#000" opacity="0.97"/><ellipse cx="863.58" cy="370.37" rx="8.04" ry="5.95" fill="#000" opacity="0.92"/><ellipse cx="877.55" cy="386.79" rx="8.47" ry="6.26" fill="#000" opacity="0.81"/><ellipse cx="870.27" cy="412" rx="6.7" ry="4.95" fill="#000" opacity="0.74"/><ellipse cx="886.38" cy="428.57" rx="8.58" ry="6.34" fill="#000" opacity="0.72"/><ellipse cx="876.73" cy="452.35" rx="8.58" ry="6.34" fill="#000" opacity="0.63"/><ellipse cx="890.77" cy="472.19" rx="9.3" ry="6.87" fill="#000" opacity="0.96"/><ellipse cx="879.61" cy="492.38" rx="8.65" ry="6.39" fill="#000" opacity="0.84"/><ellipse cx="897.81" cy="511.52" rx="9.12" ry="6.74" fill="#000" opacity="0.7"/><ellipse cx="856.42" cy="58.09" rx="7.62" ry="5.63" fill="#000" opacity="0.6"/><ellipse cx="873.38" cy="79.27" rx="8.39" ry="6.2" fill="#000" opacity="0.96"/><ellipse cx="863.51" cy="100.77" rx="7.6" ry="5.61" fill="#000" opacity="0.64"/><ellipse cx="878.87" cy="118.06" rx="8.58" ry="6.34" fill="#000" opacity="0.75"/><ellipse cx="868.78" cy="143.29" rx="7.35" ry="5.44" fill="#000" opacity="0.71"/><ellipse cx="883.87" cy="158.92" rx="6.94" ry="5.13" fill="#000" opacity="0.85"/><ellipse cx="875.42" cy="183.99" rx="6.63" ry="4.9" fill="#000" opacity="0.83"/><ellipse cx="887.76" cy="201.24" rx="8.62" ry="6.37" fill="#000" opacity="0.77"/><ellipse cx="878.27" cy="223.43" rx="9.15" ry="6.76" fill="#000" opacity="0.72"/><ellipse cx="891.39" cy="239.98" rx="9.33" ry="6.9" fill="#000" opacity="0.67"/><ellipse cx="883.39" cy="262.15" rx="8.12" ry="6" fill="#000" opacity="0.84"/><ellipse cx="900.28" cy="283.84" rx="8.22" ry="6.07" fill="#000" opacity="0.86"/><ellipse cx="892.24" cy="306.79" rx="6.62" ry="4.9" fill="#000" opacity="0.79"/><ellipse cx="905.66" cy="325.63" rx="7.39" ry="5.46" fill="#000" opacity="0.94"/><ellipse cx="897.87" cy="345.18" rx="7.12" ry="5.27" fill="#000" opacity="0.88"/><ellipse cx="908.82" cy="362.26" rx="6.74" ry="4.98" fill="#000" opacity="0.68"/><ellipse cx="899.79" cy="387.39" rx="6.89" ry="5.1" fill="#000" opacity="0.85"/><ellipse cx="917.65" cy="406.17" rx="8.64" ry="6.39" fill="#000" opacity="0.93"/><ellipse cx="907.99" cy="429.23" rx="9.2" ry="6.8" fill="#000" opacity="0.98"/><ellipse cx="919.56" cy="444.43" rx="6.75" ry="4.99" fill="#000" opacity="0.64"/><ellipse cx="913.87" cy="468.91" rx="7.56" ry="5.59" fill="#000" opacity="0.78"/><ellipse cx="927.55" cy="486.08" rx="6.69" ry="4.95" fill="#000" opacity="0.76"/><ellipse cx="888.24" cy="36.02" rx="6.79" ry="5.02" fill="#000" opacity="0.84"/><ellipse cx="905.46" cy="51.96" rx="7.92" ry="5.86" fill="#000" opacity="0.99"/><ellipse cx="893.45" cy="73.98" rx="8.71" ry="6.44" fill="#000" opacity="0.89"/><ellipse cx="910.02" cy="96.99" rx="7.87" ry="5.82" fill="#000" opacity="0.74"/><ellipse cx="900.06" cy="117.68" rx="7.58" ry="5.6" fill="#000" opacity="0.72"/><ellipse cx="913.41" cy="134.88" rx="8.8" ry="6.5" fill="#000" opacity="0.83"/><ellipse cx="903.42" cy="157.1" rx="8.98" ry="6.63" fill="#000" opacity="0.81"/><ellipse cx="917.9" cy="175.36" rx="7.15" ry="5.29" fill="#000" opacity="0.87"/><ellipse cx="913.69" cy="198.51" rx="6.73" ry="4.97" fill="#000" opacity="0.79"/><ellipse cx="923.59" cy="216.58" rx="7.59" ry="5.61" fill="#000" opacity="0.97"/><ellipse cx="918.2" cy="238.41" rx="8.86" ry="6.55" fill="#000" opacity="0.6"/><ellipse cx="931.02" cy="257.51" rx="6.49" ry="4.8" fill="#000" opacity="0.7"/><ellipse cx="921.06" cy="282.27" rx="7.99" ry="5.9" fill="#000" opacity="0.62"/><ellipse cx="934.76" cy="297.8" rx="7.76" ry="5.74" fill="#000" opacity="0.79"/><ellipse cx="928.11" cy="318.46" rx="9.29" ry="6.87" fill="#000" opacity="0.87"/><ellipse cx="942.11" cy="340.17" rx="7.61" ry="5.63" fill="#000" opacity="0.91"/><ellipse cx="934.35" cy="359.18" rx="9.14" ry="6.75" fill="#000" opacity="0.86"/><ellipse cx="947.6" cy="382.37" rx="6.51" ry="4.81" fill="#000" opacity="0.91"/><ellipse cx="938.66" cy="404.8" rx="8.91" ry="6.58" fill="#000" opacity="0.97"/><ellipse cx="951.87" cy="422.7" rx="8.7" ry="6.43" fill="#000" opacity="0.96"/><ellipse cx="947.34" cy="441.68" rx="7.7" ry="5.69" fill="#000" opacity="0.99"/><ellipse cx="959.08" cy="461.03" rx="7.7" ry="5.69" fill="#000" opacity="0.71"/><ellipse cx="948.81" cy="483.69" rx="8.43" ry="6.23" fill="#000" opacity="0.65"/><ellipse cx="966.82" cy="504.83" rx="6.66" ry="4.92" fill="#000" opacity="0.75"/><ellipse cx="928.01" cy="53.6" rx="7.03" ry="5.19" fill="#000" opacity="0.61"/><ellipse cx="939.42" cy="72.4" rx="8.23" ry="6.08" fill="#000" opacity="0.65"/><ellipse cx="930.39" cy="91.75" rx="9.24" ry="6.83" fill="#000" opacity="0.61"/><ellipse cx="945.7" cy="112.48" rx="7.24" ry="5.35" fill="#000" opacity="0.9"/><ellipse cx="939.94" cy="133.91" rx="6.89" ry="5.1" fill="#000" opacity="0.81"/><ellipse cx="952.65" cy="151.27" rx="6.71" ry="4.96" fill="#000" opacity="0.64"/><ellipse cx="943.58" cy="176.03" rx="7.54" ry="5.57" fill="#000" opacity="0.79"/><ellipse cx="956.35" cy="192.93" rx="7.16" ry="5.29" fill="#000" opacity="0.83"/><ellipse cx="948.67" cy="215.53" rx="8.63" ry="6.38" fill="#000" opacity="0.65"/><ellipse cx="962.73" cy="233.52" rx="6.46" ry="4.78" fill="#000" opacity="0.91"/><ellipse cx="952.15" cy="255.3" rx="8.27" ry="6.11" fill="#000" opacity="0.92"/><ellipse cx="967.96" cy="271.91" rx="6.55" ry="4.84" fill="#000" opacity="0.75"/><ellipse cx="960.74" cy="298.22" rx="7.33" ry="5.42" fill="#000" opacity="0.78"/><ellipse cx="975.4" cy="317.29" rx="7.55" ry="5.58" fill="#000" opacity="0.81"/><ellipse cx="964.58" cy="335.23" rx="9.28" ry="6.86" fill="#000" opacity="1"/><ellipse cx="979.68" cy="357.08" rx="9.23" ry="6.82" fill="#000" opacity="0.63"/><ellipse cx="973.29" cy="376.7" rx="8.02" ry="5.93" fill="#000" opacity="0.76"/><ellipse cx="983.72" cy="395.95" rx="8.09" ry="5.98" fill="#000" opacity="0.93"/><ellipse cx="975.3" cy="418.27" rx="7.92" ry="5.85" fill="#000" opacity="0.83"/><ellipse cx="990.34" cy="435.72" rx="6.62" ry="4.89" fill="#000" opacity="0.64"/><ellipse cx="981.25" cy="460.72" rx="9.33" ry="6.9" fill="#000" opacity="0.71"/><ellipse cx="998.38" cy="478.93" rx="8.66" ry="6.4" fill="#000" opacity="0.7"/><ellipse cx="957" cy="25.52" rx="7.6" ry="5.62" fill="#000" opacity="0.85"/><ellipse cx="974.62" cy="44.08" rx="9.06" ry="6.7" fill="#000" opacity="0.78"/><ellipse cx="965.07" cy="67.81" rx="6.85" ry="5.06" fill="#000" opacity="0.62"/><ellipse cx="979.85" cy="86.47" rx="6.47" ry="4.78" fill="#000" opacity="0.62"/><ellipse cx="969.91" cy="106.39" rx="9.05" ry="6.69" fill="#000" opacity="0.62"/><ellipse cx="984.39" cy="125.91" rx="8.6" ry="6.35" fill="#000" opacity="0.84"/><ellipse cx="972.89" cy="150.02" rx="9.28" ry="6.86" fill="#000" opacity="0.64"/><ellipse cx="989.23" cy="168.84" rx="6.72" ry="4.97" fill="#000" opacity="0.63"/><ellipse cx="978.51" cy="190.62" rx="9.11" ry="6.73" fill="#000" opacity="0.89"/><ellipse cx="996.31" cy="207.69" rx="8.96" ry="6.62" fill="#000" opacity="0.65"/><ellipse cx="987.56" cy="230.78" rx="7.33" ry="5.42" fill="#000" opacity="0.6"/><ellipse cx="998.91" cy="248.28" rx="9.14" ry="6.75" fill="#000" opacity="0.79"/><ellipse cx="990.39" cy="269.44" rx="7.23" ry="5.34" fill="#000" opacity="0.98"/><ellipse cx="1005.86" cy="291.11" rx="7.49" ry="5.54" fill="#000" opacity="0.63"/><ellipse cx="995.66" cy="312.26" rx="8.39" ry="6.2" fill="#000" opacity="0.67"/><ellipse cx="1012.2" cy="333.36" rx="8.49" ry="6.28" fill="#000" opacity="0.78"/><ellipse cx="1003.04" cy="353.28" rx="6.87" ry="5.08" fill="#000" opacity="0.71"/><ellipse cx="1018.25" cy="371.7" rx="9.13" ry="6.75" fill="#000" opacity="0.82"/><ellipse cx="1007.63" cy="391.94" rx="8.78" ry="6.49" fill="#000" opacity="0.93"/><ellipse cx="1024.98" cy="411.72" rx="7.22" ry="5.33" fill="#000" opacity="0.74"/><ellipse cx="1016.55" cy="432.78" rx="8.32" ry="6.15" fill="#000" opacity="0.86"/><ellipse cx="1026.65" cy="454.36" rx="8.74" ry="6.46" fill="#000" opacity="0.73"/><ellipse cx="1017.62" cy="477.86" rx="8.96" ry="6.63" fill="#000" opacity="0.83"/><ellipse cx="1035.35" cy="493.3" rx="7.59" ry="5.61" fill="#000" opacity="0.85"/><ellipse cx="993.75" cy="40.72" rx="7.66" ry="5.66" fill="#000" opacity="0.73"/><ellipse cx="1011.98" cy="59.71" rx="8.58" ry="6.34" fill="#000" opacity="0.76"/><ellipse cx="1003.58" cy="85.15" rx="7.34" ry="5.43" fill="#000" opacity="0.67"/><ellipse cx="1013.75" cy="102.28" rx="9.12" ry="6.74" fill="#000" opacity="0.8"/><ellipse cx="1007.29" cy="123.45" rx="7.12" ry="5.26" fill="#000" opacity="0.61"/><ellipse cx="1023.5" cy="145.73" rx="6.76" ry="5" fill="#000" opacity="0.8"/><ellipse cx="1013.91" cy="163.37" rx="7.83" ry="5.79" fill="#000" opacity="0.64"/><ellipse cx="1029.37" cy="184.51" rx="8.05" ry="5.95" fill="#000" opacity="0.63"/><ellipse cx="1018.42" cy="208.46" rx="7.75" ry="5.73" fill="#000" opacity="0.71"/><ellipse cx="1032.61" cy="227.19" rx="7.72" ry="5.71" fill="#000" opacity="0.68"/><ellipse cx="1025.86" cy="246.03" rx="7.58" ry="5.6" fill="#000" opacity="0.85"/><ellipse cx="1036.33" cy="263.67" rx="8.86" ry="6.55" fill="#000" opacity="0.81"/><ellipse cx="1029.08" cy="289.79" rx="9.25" ry="6.84" fill="#000" opacity="0.79"/><ellipse cx="1042.65" cy="307.92" rx="8.16" ry="6.03" fill="#000" opacity="0.8"/><ellipse cx="1036.26" cy="329.02" rx="7.21" ry="5.33" fill="#000" opacity="0.79"/><ellipse cx="1050.31" cy="348.65" rx="6.84" ry="5.06" fill="#000" opacity="0.68"/><ellipse cx="1038.73" cy="367.64" rx="6.75" ry="4.99" fill="#000" opacity="1"/><ellipse cx="1055.53" cy="390.09" rx="6.71" ry="4.96" fill="#000" opacity="0.78"/><ellipse cx="1044.19" cy="410.5" rx="6.93" ry="5.12" fill="#000" opacity="0.88"/><ellipse cx="1058.3" cy="430.2" rx="7.19" ry="5.32" fill="#000" opacity="0.74"/><ellipse cx="1050.95" cy="451.36" rx="6.81" ry="5.03" fill="#000" opacity="0.91"/><ellipse cx="1068" cy="472" rx="8.35" ry="6.17" fill="#000" opacity="0.8"/><ellipse cx="1059.25" cy="489.86" rx="7.28" ry="5.38" fill="#000" opacity="0.73"/><ellipse cx="1074.12" cy="508.84" rx="7.7" ry="5.69" fill="#000" opacity="0.77"/><ellipse cx="1034.41" cy="56.61" rx="8.4" ry="6.21" fill="#000" opacity="0.9"/><ellipse cx="1049.4" cy="78.91" rx="9.26" ry="6.85" fill="#000" opacity="0.72"/><ellipse cx="1039.75" cy="99.1" rx="7.7" ry="5.69" fill="#000" opacity="0.94"/><ellipse cx="1054.29" cy="119.47" rx="8.63" ry="6.38" fill="#000" opacity="0.8"/><ellipse cx="1044.44" cy="138.21" rx="8.82" ry="6.52" fill="#000" opacity="0.66"/><ellipse cx="1060.52" cy="157.42" rx="8.8" ry="6.51" fill="#000" opacity="0.91"/><ellipse cx="1048.16" cy="180.01" rx="8.04" ry="5.94" fill="#000" opacity="0.79"/><ellipse cx="1063.12" cy="202.15" rx="9.35" ry="6.91" fill="#000" opacity="0.94"/><ellipse cx="1056.39" cy="220.95" rx="8.39" ry="6.2" fill="#000" opacity="0.75"/><ellipse cx="1070.82" cy="241.71" rx="7.26" ry="5.37" fill="#000" opacity="0.6"/><ellipse cx="1060.94" cy="262.13" rx="8.66" ry="6.4" fill="#000" opacity="0.8"/><ellipse cx="1076.12" cy="283.39" rx="8.64" ry="6.39" fill="#000" opacity="0.75"/><ellipse cx="1064.67" cy="302.7" rx="7.77" ry="5.74" fill="#000" opacity="0.87"/><ellipse cx="1079.02" cy="320.47" rx="8.95" ry="6.62" fill="#000" opacity="0.66"/><ellipse cx="1072.26" cy="344.39" rx="8.73" ry="6.45" fill="#000" opacity="0.64"/><ellipse cx="1086.94" cy="361.32" rx="8.84" ry="6.53" fill="#000" opacity="0.79"/><ellipse cx="1078.68" cy="387.17" rx="8.82" ry="6.52" fill="#000" opacity="0.91"/><ellipse cx="1094.19" cy="405.09" rx="8.28" ry="6.12" fill="#000" opacity="0.89"/><ellipse cx="1086.11" cy="424.81" rx="6.5" ry="4.8" fill="#000" opacity="0.95"/><ellipse cx="1096.03" cy="444.65" rx="6.64" ry="4.91" fill="#000" opacity="0.74"/><ellipse cx="1086.78" cy="466.74" rx="6.71" ry="4.96" fill="#000" opacity="0.69"/><ellipse cx="1103.08" cy="484.43" rx="7.34" ry="5.42" fill="#000" opacity="0.89"/><ellipse cx="1066.11" cy="33.09" rx="9.29" ry="6.87" fill="#000" opacity="0.96"/><ellipse cx="1079.08" cy="51.13" rx="7.64" ry="5.65" fill="#000" opacity="0.78"/><ellipse cx="1071.73" cy="77.1" rx="7.8" ry="5.77" fill="#000" opacity="0.91"/><ellipse cx="1086.99" cy="96.39" rx="8.48" ry="6.27" fill="#000" opacity="0.91"/><ellipse cx="1077.17" cy="116.89" rx="8.81" ry="6.51" fill="#000" opacity="0.77"/><ellipse cx="1090.45" cy="133.55" rx="9.08" ry="6.71" fill="#000" opacity="0.89"/><ellipse cx="1082.88" cy="158.25" rx="7.42" ry="5.48" fill="#000" opacity="0.7"/><ellipse cx="1098.03" cy="175.23" rx="7.01" ry="5.18" fill="#000" opacity="0.81"/><ellipse cx="1086.88" cy="195.92" rx="6.72" ry="4.97" fill="#000" opacity="0.84"/><ellipse cx="1100.18" cy="216.33" rx="7.3" ry="5.4" fill="#000" opacity="0.6"/><ellipse cx="1093.42" cy="240.79" rx="6.75" ry="4.99" fill="#000" opacity="0.6"/><ellipse cx="1109.66" cy="255.4" rx="8.93" ry="6.6" fill="#000" opacity="0.73"/></g>
<rect x="623" y="46.8" width="420.6" height="388.2" fill="#fff" filter="url(#stmN)" opacity="0.22"/>
<rect x="623" y="46.8" width="420.6" height="388.2" fill="#000" filter="url(#stmN2)" opacity="0.3"/>
<g filter="url(#stmB)"><ellipse cx="583.5" cy="466.1" rx="9.93" ry="7.01" fill="#fff" opacity="0.92" transform="rotate(39.63 583.5 466.1)"/><ellipse cx="587.4" cy="237.5" rx="11.27" ry="7.76" fill="#fff" opacity="0.98" transform="rotate(37.22 587.4 237.5)"/><ellipse cx="593" cy="278.3" rx="11.62" ry="7.97" fill="#fff" opacity="0.96" transform="rotate(32.73 593 278.3)"/><ellipse cx="598.6" cy="319.1" rx="10.54" ry="7.7" fill="#fff" opacity="0.99" transform="rotate(33.67 598.6 319.1)"/><ellipse cx="604.2" cy="359.9" rx="10.25" ry="8.31" fill="#fff" opacity="0.93" transform="rotate(38.59 604.2 359.9)"/><ellipse cx="609.8" cy="400.7" rx="10.08" ry="8.06" fill="#fff" opacity="0.97" transform="rotate(31.51 609.8 400.7)"/><ellipse cx="615.4" cy="441.5" rx="11.21" ry="7.65" fill="#fff" opacity="0.95" transform="rotate(43.7 615.4 441.5)"/><ellipse cx="591.3" cy="8.9" rx="11.31" ry="7.5" fill="#fff" opacity="0.97" transform="rotate(31.98 591.3 8.9)"/><ellipse cx="596.9" cy="49.7" rx="10.74" ry="7.13" fill="#fff" opacity="0.97" transform="rotate(44.66 596.9 49.7)"/><ellipse cx="602.5" cy="90.5" rx="11" ry="7.07" fill="#fff" opacity="0.96" transform="rotate(37.51 602.5 90.5)"/><ellipse cx="608.1" cy="131.3" rx="10.57" ry="7.24" fill="#fff" opacity="0.94" transform="rotate(37.19 608.1 131.3)"/><ellipse cx="613.7" cy="172.1" rx="9.76" ry="8.08" fill="#fff" opacity="0.94" transform="rotate(34.64 613.7 172.1)"/><ellipse cx="619.3" cy="212.9" rx="9.8" ry="7.48" fill="#fff" opacity="0.99" transform="rotate(34.67 619.3 212.9)"/><ellipse cx="624.9" cy="253.7" rx="9.81" ry="7.55" fill="#fff" opacity="1" transform="rotate(31.41 624.9 253.7)"/><ellipse cx="630.5" cy="294.5" rx="10.35" ry="7.33" fill="#fff" opacity="0.97" transform="rotate(37.39 630.5 294.5)"/><ellipse cx="636.1" cy="335.3" rx="9.82" ry="8.38" fill="#fff" opacity="0.95" transform="rotate(40.98 636.1 335.3)"/><ellipse cx="641.7" cy="376.1" rx="10.6" ry="8.39" fill="#fff" opacity="0.92" transform="rotate(33.65 641.7 376.1)"/><ellipse cx="647.3" cy="416.9" rx="10.23" ry="7.42" fill="#fff" opacity="0.99" transform="rotate(38.04 647.3 416.9)"/><ellipse cx="652.9" cy="457.7" rx="10.36" ry="7.81" fill="#fff" opacity="0.99" transform="rotate(39.12 652.9 457.7)"/><ellipse cx="628.8" cy="25.1" rx="10.59" ry="8.05" fill="#fff" opacity="0.97" transform="rotate(36.49 628.8 25.1)"/><ellipse cx="634.4" cy="65.9" rx="10.54" ry="7.21" fill="#fff" opacity="0.96" transform="rotate(44.06 634.4 65.9)"/><ellipse cx="640" cy="106.7" rx="10.27" ry="7.58" fill="#fff" opacity="0.97" transform="rotate(39.45 640 106.7)"/><ellipse cx="645.6" cy="147.5" rx="9.99" ry="7.71" fill="#fff" opacity="0.98" transform="rotate(30.66 645.6 147.5)"/><ellipse cx="651.2" cy="188.3" rx="9.84" ry="8.21" fill="#fff" opacity="0.99" transform="rotate(31.08 651.2 188.3)"/><ellipse cx="656.8" cy="229.1" rx="9.78" ry="8" fill="#fff" opacity="0.94" transform="rotate(40.5 656.8 229.1)"/><ellipse cx="662.4" cy="269.9" rx="9.68" ry="7.73" fill="#fff" opacity="0.93" transform="rotate(35.31 662.4 269.9)"/><ellipse cx="668" cy="310.7" rx="11.13" ry="7.82" fill="#fff" opacity="0.99" transform="rotate(43.47 668 310.7)"/><ellipse cx="673.6" cy="351.5" rx="10.96" ry="8.36" fill="#fff" opacity="0.93" transform="rotate(37.59 673.6 351.5)"/><ellipse cx="679.2" cy="392.3" rx="10.3" ry="8" fill="#fff" opacity="0.93" transform="rotate(44.16 679.2 392.3)"/><ellipse cx="684.8" cy="433.1" rx="10.42" ry="8.25" fill="#fff" opacity="1" transform="rotate(45.04 684.8 433.1)"/><ellipse cx="690.4" cy="473.9" rx="10.46" ry="8.37" fill="#fff" opacity="1" transform="rotate(32.08 690.4 473.9)"/><ellipse cx="666.3" cy="41.3" rx="11.24" ry="8.16" fill="#fff" opacity="0.96" transform="rotate(34.45 666.3 41.3)"/><ellipse cx="671.9" cy="82.1" rx="9.98" ry="7.66" fill="#fff" opacity="0.99" transform="rotate(36.43 671.9 82.1)"/><ellipse cx="677.5" cy="122.9" rx="10.16" ry="7.99" fill="#fff" opacity="0.95" transform="rotate(39.82 677.5 122.9)"/><ellipse cx="683.1" cy="163.7" rx="10.6" ry="7.46" fill="#fff" opacity="0.92" transform="rotate(43.09 683.1 163.7)"/><ellipse cx="688.7" cy="204.5" rx="11.05" ry="7.39" fill="#fff" opacity="0.96" transform="rotate(39.29 688.7 204.5)"/><ellipse cx="694.3" cy="245.3" rx="10.71" ry="8.44" fill="#fff" opacity="0.98" transform="rotate(34.9 694.3 245.3)"/><ellipse cx="699.9" cy="286.1" rx="10.35" ry="7.98" fill="#fff" opacity="0.93" transform="rotate(44.95 699.9 286.1)"/><ellipse cx="705.5" cy="326.9" rx="9.7" ry="7.8" fill="#fff" opacity="0.94" transform="rotate(38.42 705.5 326.9)"/><ellipse cx="711.1" cy="367.7" rx="9.7" ry="7.36" fill="#fff" opacity="1" transform="rotate(42.61 711.1 367.7)"/><ellipse cx="716.7" cy="408.5" rx="10.09" ry="7.73" fill="#fff" opacity="0.92" transform="rotate(31.95 716.7 408.5)"/><ellipse cx="722.3" cy="449.3" rx="10.02" ry="8.57" fill="#fff" opacity="0.94" transform="rotate(33.96 722.3 449.3)"/><ellipse cx="698.2" cy="16.7" rx="9.74" ry="7.18" fill="#fff" opacity="1" transform="rotate(41.84 698.2 16.7)"/><ellipse cx="703.8" cy="57.5" rx="11.62" ry="8.34" fill="#fff" opacity="0.98" transform="rotate(34.08 703.8 57.5)"/><ellipse cx="709.4" cy="98.3" rx="9.97" ry="7.43" fill="#fff" opacity="0.93" transform="rotate(32.81 709.4 98.3)"/><ellipse cx="715" cy="139.1" rx="11.18" ry="7.79" fill="#fff" opacity="0.92" transform="rotate(34.88 715 139.1)"/><ellipse cx="720.6" cy="179.9" rx="11.47" ry="8.36" fill="#fff" opacity="0.98" transform="rotate(41.7 720.6 179.9)"/><ellipse cx="726.2" cy="220.7" rx="11.61" ry="7.89" fill="#fff" opacity="0.95" transform="rotate(39.17 726.2 220.7)"/><ellipse cx="731.8" cy="261.5" rx="10.22" ry="7.06" fill="#fff" opacity="0.94" transform="rotate(37.32 731.8 261.5)"/><ellipse cx="737.4" cy="302.3" rx="9.86" ry="7.13" fill="#fff" opacity="0.94" transform="rotate(35.89 737.4 302.3)"/><ellipse cx="743" cy="343.1" rx="11.71" ry="7.78" fill="#fff" opacity="0.99" transform="rotate(41.91 743 343.1)"/><ellipse cx="748.6" cy="383.9" rx="10.9" ry="7.52" fill="#fff" opacity="0.95" transform="rotate(35.07 748.6 383.9)"/><ellipse cx="754.2" cy="424.7" rx="11" ry="8.37" fill="#fff" opacity="0.98" transform="rotate(34.72 754.2 424.7)"/><ellipse cx="759.8" cy="465.5" rx="9.93" ry="7.01" fill="#fff" opacity="0.97" transform="rotate(33.65 759.8 465.5)"/><ellipse cx="735.7" cy="32.9" rx="9.61" ry="7.48" fill="#fff" opacity="0.94" transform="rotate(33.28 735.7 32.9)"/><ellipse cx="741.3" cy="73.7" rx="11.06" ry="7.93" fill="#fff" opacity="0.94" transform="rotate(41.69 741.3 73.7)"/><ellipse cx="746.9" cy="114.5" rx="10.05" ry="8.47" fill="#fff" opacity="0.93" transform="rotate(39.47 746.9 114.5)"/><ellipse cx="752.5" cy="155.3" rx="11.15" ry="8.17" fill="#fff" opacity="0.96" transform="rotate(43.94 752.5 155.3)"/><ellipse cx="758.1" cy="196.1" rx="10.98" ry="8.11" fill="#fff" opacity="0.93" transform="rotate(32.99 758.1 196.1)"/><ellipse cx="763.7" cy="236.9" rx="10.62" ry="7.87" fill="#fff" opacity="0.93" transform="rotate(41.87 763.7 236.9)"/><ellipse cx="769.3" cy="277.7" rx="10.36" ry="7.76" fill="#fff" opacity="0.96" transform="rotate(43.42 769.3 277.7)"/><ellipse cx="774.9" cy="318.5" rx="10.26" ry="7.9" fill="#fff" opacity="0.97" transform="rotate(40.49 774.9 318.5)"/><ellipse cx="780.5" cy="359.3" rx="10.29" ry="7.45" fill="#fff" opacity="0.96" transform="rotate(39.62 780.5 359.3)"/><ellipse cx="786.1" cy="400.1" rx="11.02" ry="7.21" fill="#fff" opacity="0.96" transform="rotate(38.96 786.1 400.1)"/><ellipse cx="791.7" cy="440.9" rx="10.03" ry="7.16" fill="#fff" opacity="0.99" transform="rotate(30.33 791.7 440.9)"/><ellipse cx="767.6" cy="8.3" rx="10.7" ry="7.47" fill="#fff" opacity="0.92" transform="rotate(34.32 767.6 8.3)"/><ellipse cx="773.2" cy="49.1" rx="9.96" ry="7.64" fill="#fff" opacity="0.99" transform="rotate(31.27 773.2 49.1)"/><ellipse cx="778.8" cy="89.9" rx="10.37" ry="8.11" fill="#fff" opacity="0.97" transform="rotate(30.33 778.8 89.9)"/><ellipse cx="784.4" cy="130.7" rx="10.1" ry="7.45" fill="#fff" opacity="0.99" transform="rotate(37.07 784.4 130.7)"/><ellipse cx="790" cy="171.5" rx="10.17" ry="7.77" fill="#fff" opacity="0.96" transform="rotate(32.39 790 171.5)"/><ellipse cx="795.6" cy="212.3" rx="11.07" ry="8.15" fill="#fff" opacity="0.96" transform="rotate(38.6 795.6 212.3)"/><ellipse cx="801.2" cy="253.1" rx="11.3" ry="8.53" fill="#fff" opacity="0.97" transform="rotate(30.71 801.2 253.1)"/><ellipse cx="806.8" cy="293.9" rx="10.71" ry="8.06" fill="#fff" opacity="0.95" transform="rotate(40.95 806.8 293.9)"/><ellipse cx="812.4" cy="334.7" rx="10.41" ry="7.99" fill="#fff" opacity="0.97" transform="rotate(40.72 812.4 334.7)"/><ellipse cx="818" cy="375.5" rx="11.64" ry="8.13" fill="#fff" opacity="0.98" transform="rotate(41.27 818 375.5)"/><ellipse cx="823.6" cy="416.3" rx="10.11" ry="7.98" fill="#fff" opacity="0.97" transform="rotate(30.98 823.6 416.3)"/><ellipse cx="829.2" cy="457.1" rx="11.26" ry="7.36" fill="#fff" opacity="0.96" transform="rotate(38.38 829.2 457.1)"/><ellipse cx="805.1" cy="24.5" rx="11.19" ry="8.22" fill="#fff" opacity="0.96" transform="rotate(45.03 805.1 24.5)"/><ellipse cx="810.7" cy="65.3" rx="10.57" ry="7.91" fill="#fff" opacity="1" transform="rotate(35.18 810.7 65.3)"/><ellipse cx="816.3" cy="106.1" rx="11.17" ry="8.53" fill="#fff" opacity="0.93" transform="rotate(42.43 816.3 106.1)"/><ellipse cx="821.9" cy="146.9" rx="11.03" ry="7.86" fill="#fff" opacity="0.98" transform="rotate(43.76 821.9 146.9)"/><ellipse cx="827.5" cy="187.7" rx="9.92" ry="7.78" fill="#fff" opacity="0.97" transform="rotate(41.18 827.5 187.7)"/><ellipse cx="833.1" cy="228.5" rx="11.71" ry="8.28" fill="#fff" opacity="0.99" transform="rotate(31.03 833.1 228.5)"/><ellipse cx="838.7" cy="269.3" rx="10.54" ry="8.46" fill="#fff" opacity="1" transform="rotate(42.1 838.7 269.3)"/><ellipse cx="844.3" cy="310.1" rx="10.33" ry="8.23" fill="#fff" opacity="0.96" transform="rotate(40.68 844.3 310.1)"/><ellipse cx="849.9" cy="350.9" rx="11" ry="8.38" fill="#fff" opacity="0.98" transform="rotate(45.53 849.9 350.9)"/><ellipse cx="855.5" cy="391.7" rx="10.69" ry="7.79" fill="#fff" opacity="0.97" transform="rotate(38.99 855.5 391.7)"/><ellipse cx="861.1" cy="432.5" rx="9.71" ry="8.53" fill="#fff" opacity="0.95" transform="rotate(37.99 861.1 432.5)"/><ellipse cx="866.7" cy="473.3" rx="9.69" ry="7.3" fill="#fff" opacity="0.99" transform="rotate(34.44 866.7 473.3)"/><ellipse cx="842.6" cy="40.7" rx="10.26" ry="8.3" fill="#fff" opacity="0.94" transform="rotate(40.68 842.6 40.7)"/><ellipse cx="848.2" cy="81.5" rx="10.85" ry="8.43" fill="#fff" opacity="0.96" transform="rotate(35.26 848.2 81.5)"/><ellipse cx="853.8" cy="122.3" rx="10.17" ry="7.58" fill="#fff" opacity="0.92" transform="rotate(31.91 853.8 122.3)"/><ellipse cx="859.4" cy="163.1" rx="9.93" ry="7.5" fill="#fff" opacity="0.98" transform="rotate(45.07 859.4 163.1)"/><ellipse cx="865" cy="203.9" rx="10.38" ry="7.4" fill="#fff" opacity="0.94" transform="rotate(40.06 865 203.9)"/><ellipse cx="870.6" cy="244.7" rx="10.65" ry="7.19" fill="#fff" opacity="0.96" transform="rotate(34.3 870.6 244.7)"/><ellipse cx="876.2" cy="285.5" rx="9.92" ry="8.26" fill="#fff" opacity="0.93" transform="rotate(37.03 876.2 285.5)"/><ellipse cx="881.8" cy="326.3" rx="11.29" ry="7.87" fill="#fff" opacity="0.99" transform="rotate(35.08 881.8 326.3)"/><ellipse cx="887.4" cy="367.1" rx="11.68" ry="7.07" fill="#fff" opacity="0.99" transform="rotate(36.79 887.4 367.1)"/><ellipse cx="893" cy="407.9" rx="9.61" ry="7.42" fill="#fff" opacity="1" transform="rotate(41.46 893 407.9)"/><ellipse cx="898.6" cy="448.7" rx="11.22" ry="8.3" fill="#fff" opacity="0.92" transform="rotate(34.91 898.6 448.7)"/><ellipse cx="874.5" cy="16.1" rx="10.62" ry="8.45" fill="#fff" opacity="0.99" transform="rotate(32.39 874.5 16.1)"/><ellipse cx="880.1" cy="56.9" rx="11.77" ry="7.89" fill="#fff" opacity="0.94" transform="rotate(31.32 880.1 56.9)"/><ellipse cx="885.7" cy="97.7" rx="10.54" ry="7.83" fill="#fff" opacity="0.96" transform="rotate(34.97 885.7 97.7)"/><ellipse cx="891.3" cy="138.5" rx="11.69" ry="7.76" fill="#fff" opacity="0.94" transform="rotate(42.44 891.3 138.5)"/><ellipse cx="896.9" cy="179.3" rx="10.14" ry="7.68" fill="#fff" opacity="0.93" transform="rotate(33.81 896.9 179.3)"/><ellipse cx="902.5" cy="220.1" rx="11.79" ry="7.99" fill="#fff" opacity="0.96" transform="rotate(40.77 902.5 220.1)"/><ellipse cx="908.1" cy="260.9" rx="11.08" ry="7.83" fill="#fff" opacity="0.95" transform="rotate(32.36 908.1 260.9)"/><ellipse cx="913.7" cy="301.7" rx="9.66" ry="7.19" fill="#fff" opacity="0.95" transform="rotate(30.16 913.7 301.7)"/><ellipse cx="919.3" cy="342.5" rx="11.08" ry="7.54" fill="#fff" opacity="0.94" transform="rotate(35.02 919.3 342.5)"/><ellipse cx="924.9" cy="383.3" rx="10.68" ry="7.34" fill="#fff" opacity="0.99" transform="rotate(37.73 924.9 383.3)"/><ellipse cx="930.5" cy="424.1" rx="9.75" ry="7.14" fill="#fff" opacity="0.99" transform="rotate(39.25 930.5 424.1)"/><ellipse cx="936.1" cy="464.9" rx="10.24" ry="8.14" fill="#fff" opacity="0.92" transform="rotate(44.22 936.1 464.9)"/><ellipse cx="912" cy="32.3" rx="11.66" ry="8.06" fill="#fff" opacity="0.92" transform="rotate(36.81 912 32.3)"/><ellipse cx="917.6" cy="73.1" rx="11.44" ry="7.95" fill="#fff" opacity="0.94" transform="rotate(33.75 917.6 73.1)"/><ellipse cx="923.2" cy="113.9" rx="9.74" ry="7.83" fill="#fff" opacity="0.93" transform="rotate(37.13 923.2 113.9)"/><ellipse cx="928.8" cy="154.7" rx="11.57" ry="8.44" fill="#fff" opacity="0.96" transform="rotate(42.54 928.8 154.7)"/><ellipse cx="934.4" cy="195.5" rx="9.89" ry="8.52" fill="#fff" opacity="0.99" transform="rotate(37.72 934.4 195.5)"/><ellipse cx="940" cy="236.3" rx="11.55" ry="7.48" fill="#fff" opacity="1" transform="rotate(35.17 940 236.3)"/><ellipse cx="945.6" cy="277.1" rx="11.63" ry="8.34" fill="#fff" opacity="0.99" transform="rotate(41.63 945.6 277.1)"/><ellipse cx="951.2" cy="317.9" rx="9.76" ry="7.45" fill="#fff" opacity="0.97" transform="rotate(44.54 951.2 317.9)"/><ellipse cx="956.8" cy="358.7" rx="11.1" ry="7.06" fill="#fff" opacity="0.95" transform="rotate(35.52 956.8 358.7)"/><ellipse cx="962.4" cy="399.5" rx="9.98" ry="7.36" fill="#fff" opacity="0.96" transform="rotate(35.96 962.4 399.5)"/><ellipse cx="968" cy="440.3" rx="10.19" ry="7.66" fill="#fff" opacity="1" transform="rotate(39.55 968 440.3)"/><ellipse cx="943.9" cy="7.7" rx="11.25" ry="8.49" fill="#fff" opacity="0.92" transform="rotate(44.09 943.9 7.7)"/><ellipse cx="949.5" cy="48.5" rx="9.81" ry="7.31" fill="#fff" opacity="0.98" transform="rotate(42.05 949.5 48.5)"/><ellipse cx="955.1" cy="89.3" rx="10.95" ry="7.76" fill="#fff" opacity="0.98" transform="rotate(36.85 955.1 89.3)"/><ellipse cx="960.7" cy="130.1" rx="10.03" ry="7.35" fill="#fff" opacity="0.93" transform="rotate(30.59 960.7 130.1)"/><ellipse cx="966.3" cy="170.9" rx="11.69" ry="8.52" fill="#fff" opacity="0.95" transform="rotate(36.6 966.3 170.9)"/><ellipse cx="971.9" cy="211.7" rx="10.21" ry="8.25" fill="#fff" opacity="0.96" transform="rotate(32.73 971.9 211.7)"/><ellipse cx="977.5" cy="252.5" rx="11.55" ry="8.49" fill="#fff" opacity="0.92" transform="rotate(37.35 977.5 252.5)"/><ellipse cx="983.1" cy="293.3" rx="10.09" ry="8.02" fill="#fff" opacity="0.95" transform="rotate(34.77 983.1 293.3)"/><ellipse cx="988.7" cy="334.1" rx="10.27" ry="7.97" fill="#fff" opacity="0.96" transform="rotate(37.8 988.7 334.1)"/><ellipse cx="994.3" cy="374.9" rx="11.1" ry="7.76" fill="#fff" opacity="1" transform="rotate(37.02 994.3 374.9)"/><ellipse cx="999.9" cy="415.7" rx="11.34" ry="8.49" fill="#fff" opacity="0.97" transform="rotate(39.43 999.9 415.7)"/><ellipse cx="1005.5" cy="456.5" rx="11.34" ry="8.14" fill="#fff" opacity="0.94" transform="rotate(36.67 1005.5 456.5)"/><ellipse cx="981.4" cy="23.9" rx="9.95" ry="7.03" fill="#fff" opacity="0.97" transform="rotate(35.26 981.4 23.9)"/><ellipse cx="987" cy="64.7" rx="10.16" ry="7.04" fill="#fff" opacity="0.92" transform="rotate(40.75 987 64.7)"/><ellipse cx="992.6" cy="105.5" rx="10.39" ry="7.7" fill="#fff" opacity="0.97" transform="rotate(44.52 992.6 105.5)"/><ellipse cx="998.2" cy="146.3" rx="11.14" ry="7.35" fill="#fff" opacity="1" transform="rotate(32.94 998.2 146.3)"/><ellipse cx="1003.8" cy="187.1" rx="10.88" ry="8.03" fill="#fff" opacity="0.94" transform="rotate(44.22 1003.8 187.1)"/><ellipse cx="1009.4" cy="227.9" rx="10.94" ry="8.14" fill="#fff" opacity="0.93" transform="rotate(43.32 1009.4 227.9)"/><ellipse cx="1015" cy="268.7" rx="10.23" ry="7.99" fill="#fff" opacity="0.98" transform="rotate(35.16 1015 268.7)"/><ellipse cx="1020.6" cy="309.5" rx="10.18" ry="7.53" fill="#fff" opacity="1" transform="rotate(40.52 1020.6 309.5)"/><ellipse cx="1026.2" cy="350.3" rx="10.64" ry="7.9" fill="#fff" opacity="0.97" transform="rotate(34.19 1026.2 350.3)"/><ellipse cx="1031.8" cy="391.1" rx="9.77" ry="7.17" fill="#fff" opacity="0.97" transform="rotate(39.58 1031.8 391.1)"/><ellipse cx="1037.4" cy="431.9" rx="11.75" ry="7.99" fill="#fff" opacity="0.99" transform="rotate(45.79 1037.4 431.9)"/><ellipse cx="1043" cy="472.7" rx="10.69" ry="7.67" fill="#fff" opacity="0.96" transform="rotate(35.95 1043 472.7)"/><ellipse cx="1018.9" cy="40.1" rx="11.27" ry="7.92" fill="#fff" opacity="0.93" transform="rotate(45.29 1018.9 40.1)"/><ellipse cx="1024.5" cy="80.9" rx="10.76" ry="8.2" fill="#fff" opacity="0.96" transform="rotate(39.42 1024.5 80.9)"/><ellipse cx="1030.1" cy="121.7" rx="10.87" ry="7.18" fill="#fff" opacity="0.93" transform="rotate(41.69 1030.1 121.7)"/><ellipse cx="1035.7" cy="162.5" rx="10.37" ry="7.21" fill="#fff" opacity="0.99" transform="rotate(41.97 1035.7 162.5)"/><ellipse cx="1041.3" cy="203.3" rx="11.28" ry="7.62" fill="#fff" opacity="0.93" transform="rotate(42.15 1041.3 203.3)"/><ellipse cx="1046.9" cy="244.1" rx="10.07" ry="8.07" fill="#fff" opacity="0.98" transform="rotate(34.37 1046.9 244.1)"/><ellipse cx="1052.5" cy="284.9" rx="9.6" ry="7.94" fill="#fff" opacity="0.98" transform="rotate(39.41 1052.5 284.9)"/><ellipse cx="1058.1" cy="325.7" rx="11.77" ry="7.37" fill="#fff" opacity="0.98" transform="rotate(36.97 1058.1 325.7)"/><ellipse cx="1063.7" cy="366.5" rx="10.88" ry="7.48" fill="#fff" opacity="0.94" transform="rotate(38.77 1063.7 366.5)"/><ellipse cx="1069.3" cy="407.3" rx="10.94" ry="8.46" fill="#fff" opacity="0.97" transform="rotate(38 1069.3 407.3)"/><ellipse cx="1074.9" cy="448.1" rx="11.03" ry="8" fill="#fff" opacity="0.95" transform="rotate(34.27 1074.9 448.1)"/><ellipse cx="1050.8" cy="15.5" rx="11.1" ry="7.62" fill="#fff" opacity="0.92" transform="rotate(32.72 1050.8 15.5)"/><ellipse cx="1056.4" cy="56.3" rx="10.39" ry="8.1" fill="#fff" opacity="0.97" transform="rotate(37.84 1056.4 56.3)"/><ellipse cx="1062" cy="97.1" rx="11.4" ry="7.52" fill="#fff" opacity="0.95" transform="rotate(42.02 1062 97.1)"/><ellipse cx="1067.6" cy="137.9" rx="11.09" ry="7.68" fill="#fff" opacity="0.99" transform="rotate(30.42 1067.6 137.9)"/><ellipse cx="1073.2" cy="178.7" rx="10.78" ry="8.37" fill="#fff" opacity="0.99" transform="rotate(33.09 1073.2 178.7)"/><ellipse cx="1078.8" cy="219.5" rx="11.38" ry="7.85" fill="#fff" opacity="0.99" transform="rotate(35.25 1078.8 219.5)"/></g>
<g filter="url(#stmB)"><ellipse cx="716" cy="262" rx="10" ry="8" fill="#000" opacity="0.85"/><ellipse cx="745" cy="250" rx="9" ry="6" fill="#222" opacity="0.6"/><ellipse cx="688" cy="250" rx="13" ry="7" fill="#ddd" opacity="0.55" transform="rotate(24 688 250)"/></g>
</g>
<rect x="623" y="46.8" width="420.6" height="388.2" fill="none" stroke="#111" stroke-width="1.2" />
<rect x="623" y="435" width="420.6" height="117.3" fill="#fff" stroke="#111" stroke-width="1.2" />
<rect x="639" y="416.5" width="107.5" height="10.8" fill="#fff" />
<line x1="643" y1="227" x2="837.5" y2="312.5" stroke="#f28c28" stroke-width="3" stroke-dasharray="7.2 5"/>
<polygon points="661.25,313 699.25,284.5 700,298 715,268 682,274 694.75,278.5 656.75,307" fill="#3fa0c8" />
<polygon points="1016.5,138.75 977.5,138.75 986.5,127.5 950.5,142.5 986.5,157.5 977.5,146.25 1016.5,146.25" fill="#e8261c" />
<polygon points="1012.15,405.96 991.02,373.36 1005.08,374.37 974,354 979.91,390.69 984.72,377.44 1005.85,410.04" fill="#e8261c" />
<polygon points="790.55,436 790.55,477.25 780.3,470 793.8,499 807.3,470 797.05,477.25 797.05,436" fill="#3fa0c8" />
<path d="M625.75 444.52C627.21 445.69 631.3 446.86 634.5 451.52C637.71 456.19 641.51 463.77 645.01 472.52C648.51 481.27 652.59 496.15 655.51 504.03C658.42 511.9 660.17 518.03 662.51 519.78C664.84 521.53 666.59 520.07 669.51 514.53C672.42 508.98 676.51 496.44 680.01 486.52C683.51 476.61 687.01 462.72 690.51 455.02C694.01 447.32 698.09 442.36 701.01 440.32C703.92 438.28 705.09 437.99 708.01 442.77C710.93 447.56 715.01 458.81 718.51 469.02C722.01 479.23 725.51 493.52 729.01 504.03C732.51 514.53 736.59 525.61 739.51 532.03C742.43 538.44 743.59 540.31 746.51 542.53C749.43 544.74 753.8 545.04 757.01 545.33C760.22 545.62 763.14 545.91 765.76 544.28C768.39 542.64 770.14 540.49 772.76 535.53C775.39 530.57 778.01 519.48 781.51 514.53C785.01 509.57 790.55 506.07 793.76 505.78C796.97 505.48 798.14 509.28 800.76 512.78C803.39 516.28 806.6 523.57 809.51 526.78C812.43 529.98 815.35 532.32 818.26 532.03C821.18 531.73 823.81 530.86 827.01 525.03C830.22 519.19 834.01 506.94 837.51 497.02C841.02 487.11 844.52 473.69 848.02 465.52C851.52 457.36 855.31 451.52 858.52 448.02C861.72 444.52 864.35 443.36 867.27 444.52C870.18 445.69 872.81 448.61 876.02 455.02C879.23 461.44 883.02 473.11 886.52 483.02C890.02 492.94 893.81 507.23 897.02 514.53C900.23 521.82 903.14 526.19 905.77 526.78C908.39 527.36 910.14 523.57 912.77 518.03C915.39 512.48 918.31 501.69 921.52 493.52C924.73 485.36 928.52 475.73 932.02 469.02C935.52 462.31 939.6 456.66 942.52 453.27C945.44 449.89 946.9 447.26 949.52 448.72C952.15 450.18 955.06 454.56 958.27 462.02C961.48 469.49 965.27 483.61 968.77 493.52C972.27 503.44 976.36 515.58 979.27 521.53C982.19 527.48 983.94 528.93 986.27 529.23C988.61 529.52 990.65 528.64 993.27 523.28C995.9 517.91 999.11 506.65 1002.02 497.02C1004.94 487.4 1007.86 473.4 1010.77 465.52C1013.69 457.65 1016.9 452.57 1019.52 449.77C1022.15 446.97 1024.48 447.85 1026.52 448.72C1028.57 449.6 1030.9 453.97 1031.77 455.02" fill="none" stroke="#ee7b12" stroke-width="3.2" stroke-linecap="round" stroke-linejoin="round"/></g>
<g id="pc"><text font-size="66" textLength="30.69" lengthAdjust="spacingAndGlyphs" x="1126.44" y="51.5" stroke="#000" stroke-width="0.3" stroke-linejoin="round">c</text>
<rect x="1188.6" y="47" width="409.4" height="289.2" fill="#fff" stroke="#222" stroke-width="1.3" />
<ellipse cx="1394" cy="281" rx="190" ry="5" fill="#000" opacity="0.18" filter="url(#cblur3)"/>
<polygon points="1212.3,228.6 1575.2,228.6 1549,180.6 1246,180.6" fill="url(#ctop)" />
<rect x="1212.3" y="228.2" width="362.9" height="26" fill="url(#csio)" />
<rect x="1212.3" y="254" width="362.9" height="25.6" fill="#7c7a7b" />
<rect x="1212.3" y="276.5" width="362.9" height="3.2" fill="#6a6869" />
<polygon points="1232,219.5 1557,219.5 1527,185.5 1266,185.5" fill="#5d5148" />
<line x1="1268" y1="187.4" x2="1525" y2="187.4" stroke="#362d28" stroke-width="0.8"/><line x1="1263.75" y1="190.85" x2="1528.75" y2="190.85" stroke="#362d28" stroke-width="0.86"/><line x1="1259.5" y1="194.8" x2="1532.5" y2="194.8" stroke="#362d28" stroke-width="0.93"/><line x1="1255.25" y1="198.96" x2="1536.25" y2="198.96" stroke="#362d28" stroke-width="0.99"/><line x1="1251" y1="203.26" x2="1540" y2="203.26" stroke="#362d28" stroke-width="1.05"/><line x1="1246.75" y1="207.67" x2="1543.75" y2="207.67" stroke="#362d28" stroke-width="1.11"/><line x1="1242.5" y1="212.18" x2="1547.5" y2="212.18" stroke="#362d28" stroke-width="1.18"/><line x1="1238.25" y1="216.76" x2="1551.25" y2="216.76" stroke="#362d28" stroke-width="1.24"/><line x1="1234" y1="221.4" x2="1555" y2="221.4" stroke="#362d28" stroke-width="1.3"/>
<g stroke="#3f3631" stroke-width="0.5"><circle cx="1266" cy="185.5" r="1.7" fill="#8d93aa"/><circle cx="1261.75" cy="188.95" r="1.82" fill="#a9a6a6"/><circle cx="1257.5" cy="192.9" r="1.95" fill="#7d8298"/><circle cx="1253.25" cy="197.06" r="2.08" fill="#8d93aa"/><circle cx="1249" cy="201.36" r="2.2" fill="#a9a6a6"/><circle cx="1244.75" cy="205.77" r="2.33" fill="#7d8298"/><circle cx="1240.5" cy="210.28" r="2.45" fill="#8d93aa"/><circle cx="1236.25" cy="214.86" r="2.58" fill="#a9a6a6"/><circle cx="1232" cy="219.5" r="2.7" fill="#7d8298"/><circle cx="1275.32" cy="185.5" r="1.7" fill="#a9a6a6"/><circle cx="1271.36" cy="188.95" r="1.82" fill="#7d8298"/><circle cx="1267.39" cy="192.9" r="1.95" fill="#8d93aa"/><circle cx="1263.43" cy="197.06" r="2.08" fill="#a9a6a6"/><circle cx="1259.46" cy="201.36" r="2.2" fill="#7d8298"/><circle cx="1255.5" cy="205.77" r="2.33" fill="#8d93aa"/><circle cx="1251.54" cy="210.28" r="2.45" fill="#a9a6a6"/><circle cx="1247.57" cy="214.86" r="2.58" fill="#7d8298"/><circle cx="1243.61" cy="219.5" r="2.7" fill="#8d93aa"/><circle cx="1284.64" cy="185.5" r="1.7" fill="#7d8298"/><circle cx="1280.96" cy="188.95" r="1.82" fill="#8d93aa"/><circle cx="1277.29" cy="192.9" r="1.95" fill="#a9a6a6"/><circle cx="1273.61" cy="197.06" r="2.08" fill="#7d8298"/><circle cx="1269.93" cy="201.36" r="2.2" fill="#8d93aa"/><circle cx="1266.25" cy="205.77" r="2.33" fill="#a9a6a6"/><circle cx="1262.57" cy="210.28" r="2.45" fill="#7d8298"/><circle cx="1258.89" cy="214.86" r="2.58" fill="#8d93aa"/><circle cx="1255.21" cy="219.5" r="2.7" fill="#a9a6a6"/><circle cx="1293.96" cy="185.5" r="1.7" fill="#8d93aa"/><circle cx="1290.57" cy="188.95" r="1.82" fill="#a9a6a6"/><circle cx="1287.18" cy="192.9" r="1.95" fill="#7d8298"/><circle cx="1283.79" cy="197.06" r="2.08" fill="#8d93aa"/><circle cx="1280.39" cy="201.36" r="2.2" fill="#a9a6a6"/><circle cx="1277" cy="205.77" r="2.33" fill="#7d8298"/><circle cx="1273.61" cy="210.28" r="2.45" fill="#8d93aa"/><circle cx="1270.21" cy="214.86" r="2.58" fill="#a9a6a6"/><circle cx="1266.82" cy="219.5" r="2.7" fill="#7d8298"/><circle cx="1303.29" cy="185.5" r="1.7" fill="#a9a6a6"/><circle cx="1300.18" cy="188.95" r="1.82" fill="#7d8298"/><circle cx="1297.07" cy="192.9" r="1.95" fill="#8d93aa"/><circle cx="1293.96" cy="197.06" r="2.08" fill="#a9a6a6"/><circle cx="1290.86" cy="201.36" r="2.2" fill="#7d8298"/><circle cx="1287.75" cy="205.77" r="2.33" fill="#8d93aa"/><circle cx="1284.64" cy="210.28" r="2.45" fill="#a9a6a6"/><circle cx="1281.54" cy="214.86" r="2.58" fill="#7d8298"/><circle cx="1278.43" cy="219.5" r="2.7" fill="#8d93aa"/><circle cx="1312.61" cy="185.5" r="1.7" fill="#7d8298"/><circle cx="1309.79" cy="188.95" r="1.82" fill="#8d93aa"/><circle cx="1306.96" cy="192.9" r="1.95" fill="#a9a6a6"/><circle cx="1304.14" cy="197.06" r="2.08" fill="#7d8298"/><circle cx="1301.32" cy="201.36" r="2.2" fill="#8d93aa"/><circle cx="1298.5" cy="205.77" r="2.33" fill="#a9a6a6"/><circle cx="1295.68" cy="210.28" r="2.45" fill="#7d8298"/><circle cx="1292.86" cy="214.86" r="2.58" fill="#8d93aa"/><circle cx="1290.04" cy="219.5" r="2.7" fill="#a9a6a6"/><circle cx="1321.93" cy="185.5" r="1.7" fill="#8d93aa"/><circle cx="1319.39" cy="188.95" r="1.82" fill="#a9a6a6"/><circle cx="1316.86" cy="192.9" r="1.95" fill="#7d8298"/><circle cx="1314.32" cy="197.06" r="2.08" fill="#8d93aa"/><circle cx="1311.79" cy="201.36" r="2.2" fill="#a9a6a6"/><circle cx="1309.25" cy="205.77" r="2.33" fill="#7d8298"/><circle cx="1306.71" cy="210.28" r="2.45" fill="#8d93aa"/><circle cx="1304.18" cy="214.86" r="2.58" fill="#a9a6a6"/><circle cx="1301.64" cy="219.5" r="2.7" fill="#7d8298"/><circle cx="1331.25" cy="185.5" r="1.7" fill="#a9a6a6"/><circle cx="1329" cy="188.95" r="1.82" fill="#7d8298"/><circle cx="1326.75" cy="192.9" r="1.95" fill="#8d93aa"/><circle cx="1324.5" cy="197.06" r="2.08" fill="#a9a6a6"/><circle cx="1322.25" cy="201.36" r="2.2" fill="#7d8298"/><circle cx="1320" cy="205.77" r="2.33" fill="#8d93aa"/><circle cx="1317.75" cy="210.28" r="2.45" fill="#a9a6a6"/><circle cx="1315.5" cy="214.86" r="2.58" fill="#7d8298"/><circle cx="1313.25" cy="219.5" r="2.7" fill="#8d93aa"/><circle cx="1340.57" cy="185.5" r="1.7" fill="#7d8298"/><circle cx="1338.61" cy="188.95" r="1.82" fill="#8d93aa"/><circle cx="1336.64" cy="192.9" r="1.95" fill="#a9a6a6"/><circle cx="1334.68" cy="197.06" r="2.08" fill="#7d8298"/><circle cx="1332.71" cy="201.36" r="2.2" fill="#8d93aa"/><circle cx="1330.75" cy="205.77" r="2.33" fill="#a9a6a6"/><circle cx="1328.79" cy="210.28" r="2.45" fill="#7d8298"/><circle cx="1326.82" cy="214.86" r="2.58" fill="#8d93aa"/><circle cx="1324.86" cy="219.5" r="2.7" fill="#a9a6a6"/><circle cx="1349.89" cy="185.5" r="1.7" fill="#8d93aa"/><circle cx="1348.21" cy="188.95" r="1.82" fill="#a9a6a6"/><circle cx="1346.54" cy="192.9" r="1.95" fill="#7d8298"/><circle cx="1344.86" cy="197.06" r="2.08" fill="#8d93aa"/><circle cx="1343.18" cy="201.36" r="2.2" fill="#a9a6a6"/><circle cx="1341.5" cy="205.77" r="2.33" fill="#7d8298"/><circle cx="1339.82" cy="210.28" r="2.45" fill="#8d93aa"/><circle cx="1338.14" cy="214.86" r="2.58" fill="#a9a6a6"/><circle cx="1336.46" cy="219.5" r="2.7" fill="#7d8298"/><circle cx="1359.21" cy="185.5" r="1.7" fill="#a9a6a6"/><circle cx="1357.82" cy="188.95" r="1.82" fill="#7d8298"/><circle cx="1356.43" cy="192.9" r="1.95" fill="#8d93aa"/><circle cx="1355.04" cy="197.06" r="2.08" fill="#a9a6a6"/><circle cx="1353.64" cy="201.36" r="2.2" fill="#7d8298"/><circle cx="1352.25" cy="205.77" r="2.33" fill="#8d93aa"/><circle cx="1350.86" cy="210.28" r="2.45" fill="#a9a6a6"/><circle cx="1349.46" cy="214.86" r="2.58" fill="#7d8298"/><circle cx="1348.07" cy="219.5" r="2.7" fill="#8d93aa"/><circle cx="1368.54" cy="185.5" r="1.7" fill="#7d8298"/><circle cx="1367.43" cy="188.95" r="1.82" fill="#8d93aa"/><circle cx="1366.32" cy="192.9" r="1.95" fill="#a9a6a6"/><circle cx="1365.21" cy="197.06" r="2.08" fill="#7d8298"/><circle cx="1364.11" cy="201.36" r="2.2" fill="#8d93aa"/><circle cx="1363" cy="205.77" r="2.33" fill="#a9a6a6"/><circle cx="1361.89" cy="210.28" r="2.45" fill="#7d8298"/><circle cx="1360.79" cy="214.86" r="2.58" fill="#8d93aa"/><circle cx="1359.68" cy="219.5" r="2.7" fill="#a9a6a6"/><circle cx="1377.86" cy="185.5" r="1.7" fill="#8d93aa"/><circle cx="1377.04" cy="188.95" r="1.82" fill="#a9a6a6"/><circle cx="1376.21" cy="192.9" r="1.95" fill="#7d8298"/><circle cx="1375.39" cy="197.06" r="2.08" fill="#8d93aa"/><circle cx="1374.57" cy="201.36" r="2.2" fill="#a9a6a6"/><circle cx="1373.75" cy="205.77" r="2.33" fill="#7d8298"/><circle cx="1372.93" cy="210.28" r="2.45" fill="#8d93aa"/><circle cx="1372.11" cy="214.86" r="2.58" fill="#a9a6a6"/><circle cx="1371.29" cy="219.5" r="2.7" fill="#7d8298"/><circle cx="1387.18" cy="185.5" r="1.7" fill="#a9a6a6"/><circle cx="1386.64" cy="188.95" r="1.82" fill="#7d8298"/><circle cx="1386.11" cy="192.9" r="1.95" fill="#8d93aa"/><circle cx="1385.57" cy="197.06" r="2.08" fill="#a9a6a6"/><circle cx="1385.04" cy="201.36" r="2.2" fill="#7d8298"/><circle cx="1384.5" cy="205.77" r="2.33" fill="#8d93aa"/><circle cx="1383.96" cy="210.28" r="2.45" fill="#a9a6a6"/><circle cx="1383.43" cy="214.86" r="2.58" fill="#7d8298"/><circle cx="1382.89" cy="219.5" r="2.7" fill="#8d93aa"/><circle cx="1396.5" cy="185.5" r="1.7" fill="#7d8298"/><circle cx="1396.25" cy="188.95" r="1.82" fill="#8d93aa"/><circle cx="1396" cy="192.9" r="1.95" fill="#a9a6a6"/><circle cx="1395.75" cy="197.06" r="2.08" fill="#7d8298"/><circle cx="1395.5" cy="201.36" r="2.2" fill="#8d93aa"/><circle cx="1395.25" cy="205.77" r="2.33" fill="#a9a6a6"/><circle cx="1395" cy="210.28" r="2.45" fill="#7d8298"/><circle cx="1394.75" cy="214.86" r="2.58" fill="#8d93aa"/><circle cx="1394.5" cy="219.5" r="2.7" fill="#a9a6a6"/><circle cx="1405.82" cy="185.5" r="1.7" fill="#8d93aa"/><circle cx="1405.86" cy="188.95" r="1.82" fill="#a9a6a6"/><circle cx="1405.89" cy="192.9" r="1.95" fill="#7d8298"/><circle cx="1405.93" cy="197.06" r="2.08" fill="#8d93aa"/><circle cx="1405.96" cy="201.36" r="2.2" fill="#a9a6a6"/><circle cx="1406" cy="205.77" r="2.33" fill="#7d8298"/><circle cx="1406.04" cy="210.28" r="2.45" fill="#8d93aa"/><circle cx="1406.07" cy="214.86" r="2.58" fill="#a9a6a6"/><circle cx="1406.11" cy="219.5" r="2.7" fill="#7d8298"/><circle cx="1415.14" cy="185.5" r="1.7" fill="#a9a6a6"/><circle cx="1415.46" cy="188.95" r="1.82" fill="#7d8298"/><circle cx="1415.79" cy="192.9" r="1.95" fill="#8d93aa"/><circle cx="1416.11" cy="197.06" r="2.08" fill="#a9a6a6"/><circle cx="1416.43" cy="201.36" r="2.2" fill="#7d8298"/><circle cx="1416.75" cy="205.77" r="2.33" fill="#8d93aa"/><circle cx="1417.07" cy="210.28" r="2.45" fill="#a9a6a6"/><circle cx="1417.39" cy="214.86" r="2.58" fill="#7d8298"/><circle cx="1417.71" cy="219.5" r="2.7" fill="#8d93aa"/><circle cx="1424.46" cy="185.5" r="1.7" fill="#7d8298"/><circle cx="1425.07" cy="188.95" r="1.82" fill="#8d93aa"/><circle cx="1425.68" cy="192.9" r="1.95" fill="#a9a6a6"/><circle cx="1426.29" cy="197.06" r="2.08" fill="#7d8298"/><circle cx="1426.89" cy="201.36" r="2.2" fill="#8d93aa"/><circle cx="1427.5" cy="205.77" r="2.33" fill="#a9a6a6"/><circle cx="1428.11" cy="210.28" r="2.45" fill="#7d8298"/><circle cx="1428.71" cy="214.86" r="2.58" fill="#8d93aa"/><circle cx="1429.32" cy="219.5" r="2.7" fill="#a9a6a6"/><circle cx="1433.79" cy="185.5" r="1.7" fill="#8d93aa"/><circle cx="1434.68" cy="188.95" r="1.82" fill="#a9a6a6"/><circle cx="1435.57" cy="192.9" r="1.95" fill="#7d8298"/><circle cx="1436.46" cy="197.06" r="2.08" fill="#8d93aa"/><circle cx="1437.36" cy="201.36" r="2.2" fill="#a9a6a6"/><circle cx="1438.25" cy="205.77" r="2.33" fill="#7d8298"/><circle cx="1439.14" cy="210.28" r="2.45" fill="#8d93aa"/><circle cx="1440.04" cy="214.86" r="2.58" fill="#a9a6a6"/><circle cx="1440.93" cy="219.5" r="2.7" fill="#7d8298"/><circle cx="1443.11" cy="185.5" r="1.7" fill="#a9a6a6"/><circle cx="1444.29" cy="188.95" r="1.82" fill="#7d8298"/><circle cx="1445.46" cy="192.9" r="1.95" fill="#8d93aa"/><circle cx="1446.64" cy="197.06" r="2.08" fill="#a9a6a6"/><circle cx="1447.82" cy="201.36" r="2.2" fill="#7d8298"/><circle cx="1449" cy="205.77" r="2.33" fill="#8d93aa"/><circle cx="1450.18" cy="210.28" r="2.45" fill="#a9a6a6"/><circle cx="1451.36" cy="214.86" r="2.58" fill="#7d8298"/><circle cx="1452.54" cy="219.5" r="2.7" fill="#8d93aa"/><circle cx="1452.43" cy="185.5" r="1.7" fill="#7d8298"/><circle cx="1453.89" cy="188.95" r="1.82" fill="#8d93aa"/><circle cx="1455.36" cy="192.9" r="1.95" fill="#a9a6a6"/><circle cx="1456.82" cy="197.06" r="2.08" fill="#7d8298"/><circle cx="1458.29" cy="201.36" r="2.2" fill="#8d93aa"/><circle cx="1459.75" cy="205.77" r="2.33" fill="#a9a6a6"/><circle cx="1461.21" cy="210.28" r="2.45" fill="#7d8298"/><circle cx="1462.68" cy="214.86" r="2.58" fill="#8d93aa"/><circle cx="1464.14" cy="219.5" r="2.7" fill="#a9a6a6"/><circle cx="1461.75" cy="185.5" r="1.7" fill="#8d93aa"/><circle cx="1463.5" cy="188.95" r="1.82" fill="#a9a6a6"/><circle cx="1465.25" cy="192.9" r="1.95" fill="#7d8298"/><circle cx="1467" cy="197.06" r="2.08" fill="#8d93aa"/><circle cx="1468.75" cy="201.36" r="2.2" fill="#a9a6a6"/><circle cx="1470.5" cy="205.77" r="2.33" fill="#7d8298"/><circle cx="1472.25" cy="210.28" r="2.45" fill="#8d93aa"/><circle cx="1474" cy="214.86" r="2.58" fill="#a9a6a6"/><circle cx="1475.75" cy="219.5" r="2.7" fill="#7d8298"/><circle cx="1471.07" cy="185.5" r="1.7" fill="#a9a6a6"/><circle cx="1473.11" cy="188.95" r="1.82" fill="#7d8298"/><circle cx="1475.14" cy="192.9" r="1.95" fill="#8d93aa"/><circle cx="1477.18" cy="197.06" r="2.08" fill="#a9a6a6"/><circle cx="1479.21" cy="201.36" r="2.2" fill="#7d8298"/><circle cx="1481.25" cy="205.77" r="2.33" fill="#8d93aa"/><circle cx="1483.29" cy="210.28" r="2.45" fill="#a9a6a6"/><circle cx="1485.32" cy="214.86" r="2.58" fill="#7d8298"/><circle cx="1487.36" cy="219.5" r="2.7" fill="#8d93aa"/><circle cx="1480.39" cy="185.5" r="1.7" fill="#7d8298"/><circle cx="1482.71" cy="188.95" r="1.82" fill="#8d93aa"/><circle cx="1485.04" cy="192.9" r="1.95" fill="#a9a6a6"/><circle cx="1487.36" cy="197.06" r="2.08" fill="#7d8298"/><circle cx="1489.68" cy="201.36" r="2.2" fill="#8d93aa"/><circle cx="1492" cy="205.77" r="2.33" fill="#a9a6a6"/><circle cx="1494.32" cy="210.28" r="2.45" fill="#7d8298"/><circle cx="1496.64" cy="214.86" r="2.58" fill="#8d93aa"/><circle cx="1498.96" cy="219.5" r="2.7" fill="#a9a6a6"/><circle cx="1489.71" cy="185.5" r="1.7" fill="#8d93aa"/><circle cx="1492.32" cy="188.95" r="1.82" fill="#a9a6a6"/><circle cx="1494.93" cy="192.9" r="1.95" fill="#7d8298"/><circle cx="1497.54" cy="197.06" r="2.08" fill="#8d93aa"/><circle cx="1500.14" cy="201.36" r="2.2" fill="#a9a6a6"/><circle cx="1502.75" cy="205.77" r="2.33" fill="#7d8298"/><circle cx="1505.36" cy="210.28" r="2.45" fill="#8d93aa"/><circle cx="1507.96" cy="214.86" r="2.58" fill="#a9a6a6"/><circle cx="1510.57" cy="219.5" r="2.7" fill="#7d8298"/><circle cx="1499.04" cy="185.5" r="1.7" fill="#a9a6a6"/><circle cx="1501.93" cy="188.95" r="1.82" fill="#7d8298"/><circle cx="1504.82" cy="192.9" r="1.95" fill="#8d93aa"/><circle cx="1507.71" cy="197.06" r="2.08" fill="#a9a6a6"/><circle cx="1510.61" cy="201.36" r="2.2" fill="#7d8298"/><circle cx="1513.5" cy="205.77" r="2.33" fill="#8d93aa"/><circle cx="1516.39" cy="210.28" r="2.45" fill="#a9a6a6"/><circle cx="1519.29" cy="214.86" r="2.58" fill="#7d8298"/><circle cx="1522.18" cy="219.5" r="2.7" fill="#8d93aa"/><circle cx="1508.36" cy="185.5" r="1.7" fill="#7d8298"/><circle cx="1511.54" cy="188.95" r="1.82" fill="#8d93aa"/><circle cx="1514.71" cy="192.9" r="1.95" fill="#a9a6a6"/><circle cx="1517.89" cy="197.06" r="2.08" fill="#7d8298"/><circle cx="1521.07" cy="201.36" r="2.2" fill="#8d93aa"/><circle cx="1524.25" cy="205.77" r="2.33" fill="#a9a6a6"/><circle cx="1527.43" cy="210.28" r="2.45" fill="#7d8298"/><circle cx="1530.61" cy="214.86" r="2.58" fill="#8d93aa"/><circle cx="1533.79" cy="219.5" r="2.7" fill="#a9a6a6"/><circle cx="1517.68" cy="185.5" r="1.7" fill="#8d93aa"/><circle cx="1521.14" cy="188.95" r="1.82" fill="#a9a6a6"/><circle cx="1524.61" cy="192.9" r="1.95" fill="#7d8298"/><circle cx="1528.07" cy="197.06" r="2.08" fill="#8d93aa"/><circle cx="1531.54" cy="201.36" r="2.2" fill="#a9a6a6"/><circle cx="1535" cy="205.77" r="2.33" fill="#7d8298"/><circle cx="1538.46" cy="210.28" r="2.45" fill="#8d93aa"/><circle cx="1541.93" cy="214.86" r="2.58" fill="#a9a6a6"/><circle cx="1545.39" cy="219.5" r="2.7" fill="#7d8298"/><circle cx="1527" cy="185.5" r="1.7" fill="#a9a6a6"/><circle cx="1530.75" cy="188.95" r="1.82" fill="#7d8298"/><circle cx="1534.5" cy="192.9" r="1.95" fill="#8d93aa"/><circle cx="1538.25" cy="197.06" r="2.08" fill="#a9a6a6"/><circle cx="1542" cy="201.36" r="2.2" fill="#7d8298"/><circle cx="1545.75" cy="205.77" r="2.33" fill="#8d93aa"/><circle cx="1549.5" cy="210.28" r="2.45" fill="#a9a6a6"/><circle cx="1553.25" cy="214.86" r="2.58" fill="#7d8298"/><circle cx="1557" cy="219.5" r="2.7" fill="#8d93aa"/></g>
<circle cx="1232" cy="218.3" r="2.7" fill="url(#csph2)"/><circle cx="1243.61" cy="218.3" r="2.7" fill="url(#csph2)"/><circle cx="1255.21" cy="218.3" r="2.7" fill="url(#csph2)"/><circle cx="1266.82" cy="218.3" r="2.7" fill="url(#csph2)"/><circle cx="1278.43" cy="218.3" r="2.7" fill="url(#csph2)"/><circle cx="1290.04" cy="218.3" r="2.7" fill="url(#csph2)"/><circle cx="1301.64" cy="218.3" r="2.7" fill="url(#csph2)"/><circle cx="1313.25" cy="218.3" r="2.7" fill="url(#csph2)"/><circle cx="1324.86" cy="218.3" r="2.7" fill="url(#csph2)"/><circle cx="1336.46" cy="218.3" r="2.7" fill="url(#csph2)"/><circle cx="1348.07" cy="218.3" r="2.7" fill="url(#csph2)"/><circle cx="1359.68" cy="218.3" r="2.7" fill="url(#csph2)"/><circle cx="1371.29" cy="218.3" r="2.7" fill="url(#csph2)"/><circle cx="1382.89" cy="218.3" r="2.7" fill="url(#csph2)"/><circle cx="1394.5" cy="218.3" r="2.7" fill="url(#csph2)"/><circle cx="1406.11" cy="218.3" r="2.7" fill="url(#csph2)"/><circle cx="1417.71" cy="218.3" r="2.7" fill="url(#csph2)"/><circle cx="1429.32" cy="218.3" r="2.7" fill="url(#csph2)"/><circle cx="1440.93" cy="218.3" r="2.7" fill="url(#csph2)"/><circle cx="1452.54" cy="218.3" r="2.7" fill="url(#csph2)"/><circle cx="1464.14" cy="218.3" r="2.7" fill="url(#csph2)"/><circle cx="1475.75" cy="218.3" r="2.7" fill="url(#csph2)"/><circle cx="1487.36" cy="218.3" r="2.7" fill="url(#csph2)"/><circle cx="1498.96" cy="218.3" r="2.7" fill="url(#csph2)"/><circle cx="1510.57" cy="218.3" r="2.7" fill="url(#csph2)"/><circle cx="1522.18" cy="218.3" r="2.7" fill="url(#csph2)"/><circle cx="1533.79" cy="218.3" r="2.7" fill="url(#csph2)"/><circle cx="1545.39" cy="218.3" r="2.7" fill="url(#csph2)"/><circle cx="1557" cy="218.3" r="2.7" fill="url(#csph2)"/>
<polygon points="1381,171.5 1450,171.5 1459,203 1371,203" fill="#7f6c55" opacity="0.8" filter="url(#b07c)"/>
<g stroke="#3a3028" stroke-width="0.6"><circle cx="1379" cy="166" r="2.7" fill="#e8963c"/><circle cx="1389.29" cy="166" r="2.7" fill="#5e5140"/><circle cx="1399.57" cy="166" r="2.7" fill="#bfa070"/><circle cx="1409.86" cy="166" r="2.7" fill="#e8963c"/><circle cx="1420.14" cy="166" r="2.7" fill="#5e5140"/><circle cx="1430.43" cy="166" r="2.7" fill="#bfa070"/><circle cx="1440.71" cy="166" r="2.7" fill="#e8963c"/><circle cx="1451" cy="166" r="2.7" fill="#5e5140"/><circle cx="1382.95" cy="172.6" r="2.7" fill="#c9a66a"/><circle cx="1393.65" cy="172.6" r="2.7" fill="#e08a38"/><circle cx="1404.35" cy="172.6" r="2.7" fill="#d9a050"/><circle cx="1415.05" cy="172.6" r="2.7" fill="#c9a66a"/><circle cx="1425.75" cy="172.6" r="2.7" fill="#e08a38"/><circle cx="1436.45" cy="172.6" r="2.7" fill="#d9a050"/><circle cx="1447.15" cy="172.6" r="2.7" fill="#c9a66a"/><circle cx="1376.2" cy="179.2" r="2.7" fill="#5e5140"/><circle cx="1387.31" cy="179.2" r="2.7" fill="#bfa070"/><circle cx="1398.43" cy="179.2" r="2.7" fill="#e8963c"/><circle cx="1409.54" cy="179.2" r="2.7" fill="#5e5140"/><circle cx="1420.66" cy="179.2" r="2.7" fill="#bfa070"/><circle cx="1431.77" cy="179.2" r="2.7" fill="#e8963c"/><circle cx="1442.89" cy="179.2" r="2.7" fill="#5e5140"/><circle cx="1454" cy="179.2" r="2.7" fill="#bfa070"/><circle cx="1380.56" cy="185.8" r="2.7" fill="#e08a38"/><circle cx="1392.09" cy="185.8" r="2.7" fill="#d9a050"/><circle cx="1403.62" cy="185.8" r="2.7" fill="#c9a66a"/><circle cx="1415.15" cy="185.8" r="2.7" fill="#e08a38"/><circle cx="1426.68" cy="185.8" r="2.7" fill="#d9a050"/><circle cx="1438.21" cy="185.8" r="2.7" fill="#c9a66a"/><circle cx="1449.74" cy="185.8" r="2.7" fill="#e08a38"/><circle cx="1373.4" cy="192.4" r="2.7" fill="#bfa070"/><circle cx="1385.34" cy="192.4" r="2.7" fill="#e8963c"/><circle cx="1397.29" cy="192.4" r="2.7" fill="#5e5140"/><circle cx="1409.23" cy="192.4" r="2.7" fill="#bfa070"/><circle cx="1421.17" cy="192.4" r="2.7" fill="#e8963c"/><circle cx="1433.11" cy="192.4" r="2.7" fill="#5e5140"/><circle cx="1445.06" cy="192.4" r="2.7" fill="#bfa070"/><circle cx="1457" cy="192.4" r="2.7" fill="#e8963c"/><circle cx="1378.18" cy="199" r="2.7" fill="#d9a050"/><circle cx="1390.54" cy="199" r="2.7" fill="#c9a66a"/><circle cx="1402.89" cy="199" r="2.7" fill="#e08a38"/><circle cx="1415.25" cy="199" r="2.7" fill="#d9a050"/><circle cx="1427.61" cy="199" r="2.7" fill="#c9a66a"/><circle cx="1439.96" cy="199" r="2.7" fill="#e08a38"/><circle cx="1452.32" cy="199" r="2.7" fill="#d9a050"/></g>
<circle cx="1407.5" cy="198.3" r="7.6" fill="url(#cpur)"/>
<circle cx="1459.2" cy="198.3" r="7.2" fill="url(#cpur)"/>
<circle cx="1393.2" cy="188.2" r="4.2" fill="url(#cpur)"/>
<circle cx="1356" cy="197.6" r="3" fill="url(#csph)"/>
<circle cx="1381.6" cy="197.6" r="3" fill="url(#csph)"/>
<circle cx="1394.4" cy="193.5" r="3" fill="url(#csph)"/>
<circle cx="1419.9" cy="193.5" r="3" fill="url(#csph)"/>
<circle cx="1432.9" cy="197.6" r="3" fill="url(#csph)"/>
<circle cx="1444.6" cy="193.5" r="3" fill="url(#csph)"/>
<circle cx="1483.8" cy="196.9" r="3" fill="url(#csph)"/>
<polygon points="1232.25,214.12 1257,214.12 1262.5,210 1232.94,210.68" fill="#3c342c" />
<polygon points="1272.4,176.45 1274.87,182.22 1257.27,213.02 1255.35,206.97" fill="#b29c1c" /><polygon points="1232.52,206.97 1255.35,206.97 1255.62,213.57 1232.52,213.85" fill="#cdb626" /><polygon points="1250.12,176.45 1272.4,176.45 1255.35,206.97 1232.52,206.97" fill="url(#cgold)" />
<polygon points="1322.31,177.41 1323.96,183.6 1314.47,213.57 1313.1,208.07" fill="#b29c1c" /><polygon points="1291.65,208.07 1313.1,208.07 1313.1,214.4 1290,214.4" fill="#cdb626" /><polygon points="1303.75,177.41 1322.31,177.41 1313.1,208.07 1291.65,208.07" fill="url(#cgold)" />
<polygon points="1356.96,154.72 1375.93,154.72 1377.44,186.35 1352.56,186.35" fill="url(#cgold)" />
<polygon points="1358.74,164.62 1373.87,164.62 1374.97,182.5 1355.99,182.5" fill="#d3bd2a" opacity="0.55"/>
<polygon points="1452.6,155.82 1471.02,155.82 1487.25,182.5 1486.15,186.35 1466.35,188.27 1457,171.5" fill="url(#cgold)" />
<polygon points="1466.35,188.27 1486.15,186.35 1487.25,182.5 1468,183.87" fill="#cdb626" />
<polygon points="1531.24,216.87 1557.37,215.5 1558.74,212.06 1533.99,212.06" fill="#3c342c" />
<polygon points="1535.64,210.27 1557.64,208.62 1557.09,214.12 1537.02,215.77" fill="#cdb626" /><polygon points="1512.68,176.72 1530.83,176.72 1557.64,208.62 1535.64,210.27" fill="url(#cgold)" />
<line x1="1259.7" y1="124.5" x2="1259.71" y2="178" stroke="url(#cwire)" stroke-width="1.9"/>
<line x1="1310.6" y1="124.5" x2="1310.61" y2="180" stroke="url(#cwire)" stroke-width="1.9"/>
<line x1="1366.6" y1="124.5" x2="1366.61" y2="156" stroke="url(#cwire)" stroke-width="1.9"/>
<line x1="1465.2" y1="124.5" x2="1465.21" y2="157" stroke="url(#cwire)" stroke-width="1.9"/>
<line x1="1526.2" y1="124.5" x2="1526.21" y2="178" stroke="url(#cwire)" stroke-width="1.9"/>
<polyline points="1195.8,166.4 1221.2,166.4 1244.6,202.4" fill="none" stroke="#6e6e6e" stroke-width="1.1" stroke-linejoin="round" />
<polyline points="1226,107.8 1313.4,107.8 1346.9,184.4" fill="none" stroke="#6e6e6e" stroke-width="1.1" stroke-linejoin="round" />
<polyline points="1330.3,88.4 1379,88.4 1415.6,164" fill="none" stroke="#6e6e6e" stroke-width="1.1" stroke-linejoin="round" />
<polyline points="1569.7,105.3 1514,105.3 1465.6,187.5" fill="none" stroke="#6e6e6e" stroke-width="1.1" stroke-linejoin="round" />
<circle cx="1254.2" cy="208.6" r="2.3" fill="#0a0a0a"/>
<circle cx="1354.3" cy="190" r="2.3" fill="#0a0a0a"/>
<circle cx="1424.7" cy="168.3" r="2.3" fill="#0a0a0a"/>
<circle cx="1470" cy="201.7" r="2.3" fill="#0a0a0a"/>
<text font-size="19.35" fill="#141414" x="1194.25" y="160.4" >Pd</text>
<text font-size="18.39" fill="#141414" x="1227.68" y="101.9" >Graphene</text>
<text font-size="18.9" textLength="47.29" lengthAdjust="spacingAndGlyphs" fill="#141414" x="1329.09" y="82" >PtSe<tspan font-size="11.34" dy="3.78">2</tspan></text>
<text font-size="18.43" fill="#141414" x="1514.53" y="101" >Defect</text>
<text font-size="20.8" fill="#141414" x="1241.04" y="172.3" >1</text>
<text font-size="20.8" fill="#141414" x="1289.36" y="172.3" >2</text>
<text font-size="20.8" fill="#141414" x="1345.57" y="151.6" >3</text>
<text font-size="20.8" fill="#141414" x="1439.88" y="151.6" >4</text>
<text font-size="20.8" fill="#141414" x="1507.57" y="172.6" >5</text>
<text font-size="16.62" textLength="33.26" lengthAdjust="spacingAndGlyphs" fill="#2e1a08" x="1223.25" y="248" >SiO<tspan font-size="9.97" dy="3.66">2</tspan></text>
<text font-size="17" fill="#1c1c1c" x="1222.89" y="269.5" >p-Silicon</text>
<g clip-path="url(#phc)">
<rect x="1188.6" y="336.2" width="409.4" height="215.4" fill="#6a4b39" />
<g filter="url(#phblur)" stroke="#efe6a0" stroke-width="1.0" stroke-linejoin="round"><polygon points="1180,354 1370.5,354 1384.5,406.5 1422.5,411.5 1422.5,428 1319.5,425 1319.5,406 1365,406.5 1354.5,369 1180,369" fill="#efe6a0" /><polygon points="1327,436.5 1421.3,436.5 1477.5,418 1403.5,330 1430,330 1499,420 1424,453.5 1362.5,455 1360,469.5 1348,469.5 1349,455 1327,455" fill="#efe6a0" /><polygon points="1232.25,424.87 1247.37,424.87 1246,488.12 1240.5,508.74 1234.31,556.87 1205.44,556.87 1221.25,508.74 1229.77,488.12" fill="#efe6a0" /><polygon points="1274.87,431.75 1292.75,431.75 1290.27,501.87 1288.9,512.87 1302.37,556.87 1274.87,556.87 1268.27,512.87 1273.5,501.87" fill="#efe6a0" /><polygon points="1512,444.1 1557.6,446.5 1549,560 1407,560 1400.6,529.4 1503.7,522.5" fill="#efe6a0" /></g>
<polygon points="1318.87,462.68 1344.99,461.31 1344.99,475.74 1318.87,476.43" fill="#48291f" filter="url(#phblur)" opacity="0.85"/>
</g>
<rect x="1188.6" y="336.2" width="409.4" height="215.4" fill="none" stroke="#222" stroke-width="1.3" />
<rect x="1199.2" y="339.9" width="106.6" height="8.8" fill="#fff" />
<polygon points="1192.3,445.8 1595.5,482.0 1595.5,504.6 1192.3,468.2" fill="none" stroke="#fff" stroke-width="2.7" stroke-dasharray="9.6 7"/>
<polygon points="1340.5,408.6 1422.5,412.8 1419.0,459.4 1321.6,474.4 1335.5,452" fill="none" stroke="#e3241c" stroke-width="3.1" stroke-dasharray="5.5 5" stroke-linejoin="round"/>
<polygon points="1280.81,402.92 1316.05,426.24 1312.54,429.37 1328.49,432.43 1319.43,418.94 1317.92,423.4 1282.68,400.08" fill="#e0281e" />
<polygon points="1521.02,414.73 1493.43,448.73 1491.03,445.34 1485.9,459.2 1498.41,451.32 1494.6,449.67 1522.18,415.67" fill="#fff" />
<text font-size="21.4" textLength="42.82" lengthAdjust="spacingAndGlyphs" fill="#fff" x="1548.84" y="359.6" >SiO<tspan font-size="12.84" dy="4.71">2</tspan></text>
<text font-size="22.42" textLength="56.08" lengthAdjust="spacingAndGlyphs" fill="#fff" x="1260.71" y="396.7" >PtSe<tspan font-size="13.45" dy="4.93">2</tspan></text>
<text font-size="21.66" fill="#fff" x="1498.52" y="406.3" >Graphene</text>
<text font-size="22" fill="#fff" x="1339.06" y="396.7" >4</text>
<text font-size="22" fill="#fff" x="1438.92" y="424.2" >3</text>
<text font-size="22" fill="#fff" x="1204.45" y="497" >1</text>
<text font-size="22" fill="#fff" x="1290.9" y="503.9" >2</text>
<text font-size="22" fill="#fff" x="1486.32" y="517.7" >5</text>
<text font-size="21.77" fill="#fff" x="1197.46" y="536.2" >Pd</text></g>
<g id="pd"><text font-size="68" textLength="39.18" lengthAdjust="spacingAndGlyphs" x="9.18" y="658.6" stroke="#000" stroke-width="0.3" stroke-linejoin="round">d</text>
<g ><polyline points="153.6,742 155.6,749 158,758 160,766 162.4,771 164,768.67 165.6,770 167.2,744 168.4,715 170,697.31 171.6,679 173.2,679.09 174.8,681 177.2,698 178.4,748 179.8,750.73 181.2,752 183.6,764 185.3,767.88 187,770 188.5,748.96 190,734 191.6,728.59 193.2,730 194.6,749.36 196,764 197.5,774.82 199,789 201.6,770 203,736.14 204.4,706 207,704 209.6,691.6 211,713.27 212.4,728 215,764 216.5,761.79 218,760 219.5,766.36 221,768 222.5,775.83 224,784 226.6,802 229.2,792 230.6,775.97 232,758 233.5,765.55 235,778 237.6,746 239,732.44 240.4,717 241.8,705.08 243.2,688 244.6,703.16 246,718 248.4,748 250,787 251.5,785.19 253,780 254.5,777.2 256,772 258,761.95 260,758 261.5,766.31 263,771 264.4,794 266.2,800.14 268,805 269.5,799.11 271,796 272.7,799.72 274.4,810 277,823 279,838 281,844 282.5,835.56 284,822 286,792 287.5,789.81 289,788 291.6,806 294,822 296,792 298.4,749 300.6,770 302.4,808 304.4,844 306,843.53 307.6,840 310,850 312,857 314.4,842 317,812 319.6,802 322,828 323.5,830.15 325,827 326.5,837 328,844 329.5,839.95 331,830 332.5,830.76 334,833 335.5,848.11 337,859 338,919 340,951 341.8,955.11 343.6,960 346,964 347.6,959.05 349.2,948 350.6,942.65 352,932 353.5,920.18 355,914 357,906.45 359,904 360.5,910.02 362,920 363.5,927.26 365,928 367,925.55 369,924 370.5,932.89 372,940 374,966 376.4,997 378.4,1015 380.4,1031 382.4,1047 384,1038.11 385.6,1032 387,1034.05 388.4,1036 390,1062 391.5,1067.2 393,1074 395.6,1080 398,1060 399.5,1052.96 401,1048 402.5,1046.6 404,1044 406,1041.59 408,1038 409.5,1038.83 411,1034 412.5,1038.27 414,1040 415.5,1062 417,1078 418.5,1089.49 420,1096 421.5,1091.44 423,1080 424.5,1066.2 426,1050 427.5,1056.64 429,1068 430.5,1077.52 432,1082 433.5,1080.25 435,1072 436.5,1070.83 438,1064 439.5,1070.48 441,1076 442.5,1086.5 444,1094 445.5,1084.98 447,1080 448.5,1072.32 450,1060 451.5,1066.51 453,1072 454.5,1074.49 456,1080 457.5,1079.94 459,1086 460.5,1090.48 462,1090 463.5,1089.43 465,1082 466.5,1082.12 468,1088 469.5,1082.1 471,1072 472.5,1061.37 474,1052 475.5,1042.56 477,1038 478.5,1040.56 480,1046 481.5,1064.88 483,1080 484.5,1077.61 486,1070 487.5,1073.81 489,1084 490.5,1083.8 492,1082 493.5,1071.81 495,1068 497,1061.53 499,1052 500.5,1055.82 502,1062 503.5,1073.67 505,1080 506.5,1089.36 508,1092 509.5,1091.04 511,1090 512.5,1087.49 514,1078 515.5,1063.67 517,1052 518.5,1045.04 520,1044 521.5,1045.2 523,1045 525,1016 527,990 528.5,976.72 530,970 531.5,965.88 533,966 534.5,975.36 536,986 537.5,979.77 539,972 540.5,951.59 542,936 543.5,936.8 545,944 546.5,954.57 548,960 549.5,973.7 551,990 552.5,988.21 554,980 555.5,983.78 557,982 559,918 560.5,911.14 562,906 563.5,922.72 565,940 567,913.14 569,886 570.5,880.01 572,872 573.5,876.67 575,880 576.5,881.41 578,882 580,871.34 582,859 584,865.58 586,866 587.5,871.05 589,876 591,860 593,833 594.5,819.02 596,806 598,812.54 600,816 601.5,840.16 603,868 604.5,858.61 606,852 607.5,851.34 609,844 610,796 611.5,787.15 613,778 614.5,783.34 616,788 617.5,776.58 619,772 620.5,767.41 622,764 624,762.56 626,760 628,757.64 630,762 631.5,776.81 633,790 634.5,796.93 636,802 637.5,781.92 639,768 640.5,784.89 642,800 643.5,798.76 645,798 646.5,759.25 648,718 649.5,714.97 651,714 652.5,738.45 654,760 655.5,770.67 657,778 658.5,761.66 660,752 662,740.92 664,736 665.5,744.23 667,750 668.5,758.24 670,760 671.5,773.26 673,790 674.5,778.69 676,768 677.5,751.65 679,734 680.5,759.74 682,788 683.5,787.05 685,788 686.5,768.69 688,752 689.5,740.08 691,730 693.6,711 695,719.17 696.4,726 699,768 701.6,794 704,780 705.5,768.6 707,760 708.5,755.14 710,752 712,745.91 714,736 716,726.69 718,724 719.8,715.98 721.6,707 723,715.15 724.4,720 727,756 728.5,761.67 730,770 732,772.06 734,778 735.5,775.13 737,768 739,748 741,698 742.5,699.17 744,704 745.5,709.81 747,720 749,710 750.5,698.05 752,687" fill="none" stroke="#2f7cc6" stroke-width="3.7" stroke-linejoin="round" /><path d="M146.8 742a6.8 6.8 0 1 0 13.6 0a6.8 6.8 0 1 0 -13.6 0zM148.8 749a6.8 6.8 0 1 0 13.6 0a6.8 6.8 0 1 0 -13.6 0zM151.2 758a6.8 6.8 0 1 0 13.6 0a6.8 6.8 0 1 0 -13.6 0zM153.2 766a6.8 6.8 0 1 0 13.6 0a6.8 6.8 0 1 0 -13.6 0zM155.6 771a6.8 6.8 0 1 0 13.6 0a6.8 6.8 0 1 0 -13.6 0zM157.2 768.67a6.8 6.8 0 1 0 13.6 0a6.8 6.8 0 1 0 -13.6 0zM158.8 770a6.8 6.8 0 1 0 13.6 0a6.8 6.8 0 1 0 -13.6 0zM160.4 744a6.8 6.8 0 1 0 13.6 0a6.8 6.8 0 1 0 -13.6 0zM161.6 715a6.8 6.8 0 1 0 13.6 0a6.8 6.8 0 1 0 -13.6 0zM163.2 697.31a6.8 6.8 0 1 0 13.6 0a6.8 6.8 0 1 0 -13.6 0zM164.8 679a6.8 6.8 0 1 0 13.6 0a6.8 6.8 0 1 0 -13.6 0zM166.4 679.09a6.8 6.8 0 1 0 13.6 0a6.8 6.8 0 1 0 -13.6 0zM168 681a6.8 6.8 0 1 0 13.6 0a6.8 6.8 0 1 0 -13.6 0zM170.4 698a6.8 6.8 0 1 0 13.6 0a6.8 6.8 0 1 0 -13.6 0zM171.6 748a6.8 6.8 0 1 0 13.6 0a6.8 6.8 0 1 0 -13.6 0zM173 750.73a6.8 6.8 0 1 0 13.6 0a6.8 6.8 0 1 0 -13.6 0zM174.4 752a6.8 6.8 0 1 0 13.6 0a6.8 6.8 0 1 0 -13.6 0zM176.8 764a6.8 6.8 0 1 0 13.6 0a6.8 6.8 0 1 0 -13.6 0zM178.5 767.88a6.8 6.8 0 1 0 13.6 0a6.8 6.8 0 1 0 -13.6 0zM180.2 770a6.8 6.8 0 1 0 13.6 0a6.8 6.8 0 1 0 -13.6 0zM181.7 748.96a6.8 6.8 0 1 0 13.6 0a6.8 6.8 0 1 0 -13.6 0zM183.2 734a6.8 6.8 0 1 0 13.6 0a6.8 6.8 0 1 0 -13.6 0zM184.8 728.59a6.8 6.8 0 1 0 13.6 0a6.8 6.8 0 1 0 -13.6 0zM186.4 730a6.8 6.8 0 1 0 13.6 0a6.8 6.8 0 1 0 -13.6 0zM187.8 749.36a6.8 6.8 0 1 0 13.6 0a6.8 6.8 0 1 0 -13.6 0zM189.2 764a6.8 6.8 0 1 0 13.6 0a6.8 6.8 0 1 0 -13.6 0zM190.7 774.82a6.8 6.8 0 1 0 13.6 0a6.8 6.8 0 1 0 -13.6 0zM192.2 789a6.8 6.8 0 1 0 13.6 0a6.8 6.8 0 1 0 -13.6 0zM194.8 770a6.8 6.8 0 1 0 13.6 0a6.8 6.8 0 1 0 -13.6 0zM196.2 736.14a6.8 6.8 0 1 0 13.6 0a6.8 6.8 0 1 0 -13.6 0zM197.6 706a6.8 6.8 0 1 0 13.6 0a6.8 6.8 0 1 0 -13.6 0zM200.2 704a6.8 6.8 0 1 0 13.6 0a6.8 6.8 0 1 0 -13.6 0zM202.8 691.6a6.8 6.8 0 1 0 13.6 0a6.8 6.8 0 1 0 -13.6 0zM204.2 713.27a6.8 6.8 0 1 0 13.6 0a6.8 6.8 0 1 0 -13.6 0zM205.6 728a6.8 6.8 0 1 0 13.6 0a6.8 6.8 0 1 0 -13.6 0zM208.2 764a6.8 6.8 0 1 0 13.6 0a6.8 6.8 0 1 0 -13.6 0zM209.7 761.79a6.8 6.8 0 1 0 13.6 0a6.8 6.8 0 1 0 -13.6 0zM211.2 760a6.8 6.8 0 1 0 13.6 0a6.8 6.8 0 1 0 -13.6 0zM212.7 766.36a6.8 6.8 0 1 0 13.6 0a6.8 6.8 0 1 0 -13.6 0zM214.2 768a6.8 6.8 0 1 0 13.6 0a6.8 6.8 0 1 0 -13.6 0zM215.7 775.83a6.8 6.8 0 1 0 13.6 0a6.8 6.8 0 1 0 -13.6 0zM217.2 784a6.8 6.8 0 1 0 13.6 0a6.8 6.8 0 1 0 -13.6 0zM219.8 802a6.8 6.8 0 1 0 13.6 0a6.8 6.8 0 1 0 -13.6 0zM222.4 792a6.8 6.8 0 1 0 13.6 0a6.8 6.8 0 1 0 -13.6 0zM223.8 775.97a6.8 6.8 0 1 0 13.6 0a6.8 6.8 0 1 0 -13.6 0zM225.2 758a6.8 6.8 0 1 0 13.6 0a6.8 6.8 0 1 0 -13.6 0zM226.7 765.55a6.8 6.8 0 1 0 13.6 0a6.8 6.8 0 1 0 -13.6 0zM228.2 778a6.8 6.8 0 1 0 13.6 0a6.8 6.8 0 1 0 -13.6 0zM230.8 746a6.8 6.8 0 1 0 13.6 0a6.8 6.8 0 1 0 -13.6 0zM232.2 732.44a6.8 6.8 0 1 0 13.6 0a6.8 6.8 0 1 0 -13.6 0zM233.6 717a6.8 6.8 0 1 0 13.6 0a6.8 6.8 0 1 0 -13.6 0zM235 705.08a6.8 6.8 0 1 0 13.6 0a6.8 6.8 0 1 0 -13.6 0zM236.4 688a6.8 6.8 0 1 0 13.6 0a6.8 6.8 0 1 0 -13.6 0zM237.8 703.16a6.8 6.8 0 1 0 13.6 0a6.8 6.8 0 1 0 -13.6 0zM239.2 718a6.8 6.8 0 1 0 13.6 0a6.8 6.8 0 1 0 -13.6 0zM241.6 748a6.8 6.8 0 1 0 13.6 0a6.8 6.8 0 1 0 -13.6 0zM243.2 787a6.8 6.8 0 1 0 13.6 0a6.8 6.8 0 1 0 -13.6 0zM244.7 785.19a6.8 6.8 0 1 0 13.6 0a6.8 6.8 0 1 0 -13.6 0zM246.2 780a6.8 6.8 0 1 0 13.6 0a6.8 6.8 0 1 0 -13.6 0zM247.7 777.2a6.8 6.8 0 1 0 13.6 0a6.8 6.8 0 1 0 -13.6 0zM249.2 772a6.8 6.8 0 1 0 13.6 0a6.8 6.8 0 1 0 -13.6 0zM251.2 761.95a6.8 6.8 0 1 0 13.6 0a6.8 6.8 0 1 0 -13.6 0zM253.2 758a6.8 6.8 0 1 0 13.6 0a6.8 6.8 0 1 0 -13.6 0zM254.7 766.31a6.8 6.8 0 1 0 13.6 0a6.8 6.8 0 1 0 -13.6 0zM256.2 771a6.8 6.8 0 1 0 13.6 0a6.8 6.8 0 1 0 -13.6 0zM257.6 794a6.8 6.8 0 1 0 13.6 0a6.8 6.8 0 1 0 -13.6 0zM259.4 800.14a6.8 6.8 0 1 0 13.6 0a6.8 6.8 0 1 0 -13.6 0zM261.2 805a6.8 6.8 0 1 0 13.6 0a6.8 6.8 0 1 0 -13.6 0zM262.7 799.11a6.8 6.8 0 1 0 13.6 0a6.8 6.8 0 1 0 -13.6 0zM264.2 796a6.8 6.8 0 1 0 13.6 0a6.8 6.8 0 1 0 -13.6 0zM265.9 799.72a6.8 6.8 0 1 0 13.6 0a6.8 6.8 0 1 0 -13.6 0zM267.6 810a6.8 6.8 0 1 0 13.6 0a6.8 6.8 0 1 0 -13.6 0zM270.2 823a6.8 6.8 0 1 0 13.6 0a6.8 6.8 0 1 0 -13.6 0zM272.2 838a6.8 6.8 0 1 0 13.6 0a6.8 6.8 0 1 0 -13.6 0zM274.2 844a6.8 6.8 0 1 0 13.6 0a6.8 6.8 0 1 0 -13.6 0zM275.7 835.56a6.8 6.8 0 1 0 13.6 0a6.8 6.8 0 1 0 -13.6 0zM277.2 822a6.8 6.8 0 1 0 13.6 0a6.8 6.8 0 1 0 -13.6 0zM279.2 792a6.8 6.8 0 1 0 13.6 0a6.8 6.8 0 1 0 -13.6 0zM280.7 789.81a6.8 6.8 0 1 0 13.6 0a6.8 6.8 0 1 0 -13.6 0zM282.2 788a6.8 6.8 0 1 0 13.6 0a6.8 6.8 0 1 0 -13.6 0zM284.8 806a6.8 6.8 0 1 0 13.6 0a6.8 6.8 0 1 0 -13.6 0zM287.2 822a6.8 6.8 0 1 0 13.6 0a6.8 6.8 0 1 0 -13.6 0zM289.2 792a6.8 6.8 0 1 0 13.6 0a6.8 6.8 0 1 0 -13.6 0zM291.6 749a6.8 6.8 0 1 0 13.6 0a6.8 6.8 0 1 0 -13.6 0zM293.8 770a6.8 6.8 0 1 0 13.6 0a6.8 6.8 0 1 0 -13.6 0zM295.6 808a6.8 6.8 0 1 0 13.6 0a6.8 6.8 0 1 0 -13.6 0zM297.6 844a6.8 6.8 0 1 0 13.6 0a6.8 6.8 0 1 0 -13.6 0zM299.2 843.53a6.8 6.8 0 1 0 13.6 0a6.8 6.8 0 1 0 -13.6 0zM300.8 840a6.8 6.8 0 1 0 13.6 0a6.8 6.8 0 1 0 -13.6 0zM303.2 850a6.8 6.8 0 1 0 13.6 0a6.8 6.8 0 1 0 -13.6 0zM305.2 857a6.8 6.8 0 1 0 13.6 0a6.8 6.8 0 1 0 -13.6 0zM307.6 842a6.8 6.8 0 1 0 13.6 0a6.8 6.8 0 1 0 -13.6 0zM310.2 812a6.8 6.8 0 1 0 13.6 0a6.8 6.8 0 1 0 -13.6 0zM312.8 802a6.8 6.8 0 1 0 13.6 0a6.8 6.8 0 1 0 -13.6 0zM315.2 828a6.8 6.8 0 1 0 13.6 0a6.8 6.8 0 1 0 -13.6 0zM316.7 830.15a6.8 6.8 0 1 0 13.6 0a6.8 6.8 0 1 0 -13.6 0zM318.2 827a6.8 6.8 0 1 0 13.6 0a6.8 6.8 0 1 0 -13.6 0zM319.7 837a6.8 6.8 0 1 0 13.6 0a6.8 6.8 0 1 0 -13.6 0zM321.2 844a6.8 6.8 0 1 0 13.6 0a6.8 6.8 0 1 0 -13.6 0zM322.7 839.95a6.8 6.8 0 1 0 13.6 0a6.8 6.8 0 1 0 -13.6 0zM324.2 830a6.8 6.8 0 1 0 13.6 0a6.8 6.8 0 1 0 -13.6 0zM325.7 830.76a6.8 6.8 0 1 0 13.6 0a6.8 6.8 0 1 0 -13.6 0zM327.2 833a6.8 6.8 0 1 0 13.6 0a6.8 6.8 0 1 0 -13.6 0zM328.7 848.11a6.8 6.8 0 1 0 13.6 0a6.8 6.8 0 1 0 -13.6 0zM330.2 859a6.8 6.8 0 1 0 13.6 0a6.8 6.8 0 1 0 -13.6 0zM331.2 919a6.8 6.8 0 1 0 13.6 0a6.8 6.8 0 1 0 -13.6 0zM333.2 951a6.8 6.8 0 1 0 13.6 0a6.8 6.8 0 1 0 -13.6 0zM335 955.11a6.8 6.8 0 1 0 13.6 0a6.8 6.8 0 1 0 -13.6 0zM336.8 960a6.8 6.8 0 1 0 13.6 0a6.8 6.8 0 1 0 -13.6 0zM339.2 964a6.8 6.8 0 1 0 13.6 0a6.8 6.8 0 1 0 -13.6 0zM340.8 959.05a6.8 6.8 0 1 0 13.6 0a6.8 6.8 0 1 0 -13.6 0zM342.4 948a6.8 6.8 0 1 0 13.6 0a6.8 6.8 0 1 0 -13.6 0zM343.8 942.65a6.8 6.8 0 1 0 13.6 0a6.8 6.8 0 1 0 -13.6 0zM345.2 932a6.8 6.8 0 1 0 13.6 0a6.8 6.8 0 1 0 -13.6 0zM346.7 920.18a6.8 6.8 0 1 0 13.6 0a6.8 6.8 0 1 0 -13.6 0zM348.2 914a6.8 6.8 0 1 0 13.6 0a6.8 6.8 0 1 0 -13.6 0zM350.2 906.45a6.8 6.8 0 1 0 13.6 0a6.8 6.8 0 1 0 -13.6 0zM352.2 904a6.8 6.8 0 1 0 13.6 0a6.8 6.8 0 1 0 -13.6 0zM353.7 910.02a6.8 6.8 0 1 0 13.6 0a6.8 6.8 0 1 0 -13.6 0zM355.2 920a6.8 6.8 0 1 0 13.6 0a6.8 6.8 0 1 0 -13.6 0zM356.7 927.26a6.8 6.8 0 1 0 13.6 0a6.8 6.8 0 1 0 -13.6 0zM358.2 928a6.8 6.8 0 1 0 13.6 0a6.8 6.8 0 1 0 -13.6 0zM360.2 925.55a6.8 6.8 0 1 0 13.6 0a6.8 6.8 0 1 0 -13.6 0zM362.2 924a6.8 6.8 0 1 0 13.6 0a6.8 6.8 0 1 0 -13.6 0zM363.7 932.89a6.8 6.8 0 1 0 13.6 0a6.8 6.8 0 1 0 -13.6 0zM365.2 940a6.8 6.8 0 1 0 13.6 0a6.8 6.8 0 1 0 -13.6 0zM367.2 966a6.8 6.8 0 1 0 13.6 0a6.8 6.8 0 1 0 -13.6 0zM369.6 997a6.8 6.8 0 1 0 13.6 0a6.8 6.8 0 1 0 -13.6 0zM371.6 1015a6.8 6.8 0 1 0 13.6 0a6.8 6.8 0 1 0 -13.6 0zM373.6 1031a6.8 6.8 0 1 0 13.6 0a6.8 6.8 0 1 0 -13.6 0zM375.6 1047a6.8 6.8 0 1 0 13.6 0a6.8 6.8 0 1 0 -13.6 0zM377.2 1038.11a6.8 6.8 0 1 0 13.6 0a6.8 6.8 0 1 0 -13.6 0zM378.8 1032a6.8 6.8 0 1 0 13.6 0a6.8 6.8 0 1 0 -13.6 0zM380.2 1034.05a6.8 6.8 0 1 0 13.6 0a6.8 6.8 0 1 0 -13.6 0zM381.6 1036a6.8 6.8 0 1 0 13.6 0a6.8 6.8 0 1 0 -13.6 0zM383.2 1062a6.8 6.8 0 1 0 13.6 0a6.8 6.8 0 1 0 -13.6 0zM384.7 1067.2a6.8 6.8 0 1 0 13.6 0a6.8 6.8 0 1 0 -13.6 0zM386.2 1074a6.8 6.8 0 1 0 13.6 0a6.8 6.8 0 1 0 -13.6 0zM388.8 1080a6.8 6.8 0 1 0 13.6 0a6.8 6.8 0 1 0 -13.6 0zM391.2 1060a6.8 6.8 0 1 0 13.6 0a6.8 6.8 0 1 0 -13.6 0zM392.7 1052.96a6.8 6.8 0 1 0 13.6 0a6.8 6.8 0 1 0 -13.6 0zM394.2 1048a6.8 6.8 0 1 0 13.6 0a6.8 6.8 0 1 0 -13.6 0zM395.7 1046.6a6.8 6.8 0 1 0 13.6 0a6.8 6.8 0 1 0 -13.6 0zM397.2 1044a6.8 6.8 0 1 0 13.6 0a6.8 6.8 0 1 0 -13.6 0zM399.2 1041.59a6.8 6.8 0 1 0 13.6 0a6.8 6.8 0 1 0 -13.6 0zM401.2 1038a6.8 6.8 0 1 0 13.6 0a6.8 6.8 0 1 0 -13.6 0zM402.7 1038.83a6.8 6.8 0 1 0 13.6 0a6.8 6.8 0 1 0 -13.6 0zM404.2 1034a6.8 6.8 0 1 0 13.6 0a6.8 6.8 0 1 0 -13.6 0zM405.7 1038.27a6.8 6.8 0 1 0 13.6 0a6.8 6.8 0 1 0 -13.6 0zM407.2 1040a6.8 6.8 0 1 0 13.6 0a6.8 6.8 0 1 0 -13.6 0zM408.7 1062a6.8 6.8 0 1 0 13.6 0a6.8 6.8 0 1 0 -13.6 0zM410.2 1078a6.8 6.8 0 1 0 13.6 0a6.8 6.8 0 1 0 -13.6 0zM411.7 1089.49a6.8 6.8 0 1 0 13.6 0a6.8 6.8 0 1 0 -13.6 0zM413.2 1096a6.8 6.8 0 1 0 13.6 0a6.8 6.8 0 1 0 -13.6 0zM414.7 1091.44a6.8 6.8 0 1 0 13.6 0a6.8 6.8 0 1 0 -13.6 0zM416.2 1080a6.8 6.8 0 1 0 13.6 0a6.8 6.8 0 1 0 -13.6 0zM417.7 1066.2a6.8 6.8 0 1 0 13.6 0a6.8 6.8 0 1 0 -13.6 0zM419.2 1050a6.8 6.8 0 1 0 13.6 0a6.8 6.8 0 1 0 -13.6 0zM420.7 1056.64a6.8 6.8 0 1 0 13.6 0a6.8 6.8 0 1 0 -13.6 0zM422.2 1068a6.8 6.8 0 1 0 13.6 0a6.8 6.8 0 1 0 -13.6 0zM423.7 1077.52a6.8 6.8 0 1 0 13.6 0a6.8 6.8 0 1 0 -13.6 0zM425.2 1082a6.8 6.8 0 1 0 13.6 0a6.8 6.8 0 1 0 -13.6 0zM426.7 1080.25a6.8 6.8 0 1 0 13.6 0a6.8 6.8 0 1 0 -13.6 0zM428.2 1072a6.8 6.8 0 1 0 13.6 0a6.8 6.8 0 1 0 -13.6 0zM429.7 1070.83a6.8 6.8 0 1 0 13.6 0a6.8 6.8 0 1 0 -13.6 0zM431.2 1064a6.8 6.8 0 1 0 13.6 0a6.8 6.8 0 1 0 -13.6 0zM432.7 1070.48a6.8 6.8 0 1 0 13.6 0a6.8 6.8 0 1 0 -13.6 0zM434.2 1076a6.8 6.8 0 1 0 13.6 0a6.8 6.8 0 1 0 -13.6 0zM435.7 1086.5a6.8 6.8 0 1 0 13.6 0a6.8 6.8 0 1 0 -13.6 0zM437.2 1094a6.8 6.8 0 1 0 13.6 0a6.8 6.8 0 1 0 -13.6 0zM438.7 1084.98a6.8 6.8 0 1 0 13.6 0a6.8 6.8 0 1 0 -13.6 0zM440.2 1080a6.8 6.8 0 1 0 13.6 0a6.8 6.8 0 1 0 -13.6 0zM441.7 1072.32a6.8 6.8 0 1 0 13.6 0a6.8 6.8 0 1 0 -13.6 0zM443.2 1060a6.8 6.8 0 1 0 13.6 0a6.8 6.8 0 1 0 -13.6 0zM444.7 1066.51a6.8 6.8 0 1 0 13.6 0a6.8 6.8 0 1 0 -13.6 0zM446.2 1072a6.8 6.8 0 1 0 13.6 0a6.8 6.8 0 1 0 -13.6 0zM447.7 1074.49a6.8 6.8 0 1 0 13.6 0a6.8 6.8 0 1 0 -13.6 0zM449.2 1080a6.8 6.8 0 1 0 13.6 0a6.8 6.8 0 1 0 -13.6 0zM450.7 1079.94a6.8 6.8 0 1 0 13.6 0a6.8 6.8 0 1 0 -13.6 0zM452.2 1086a6.8 6.8 0 1 0 13.6 0a6.8 6.8 0 1 0 -13.6 0zM453.7 1090.48a6.8 6.8 0 1 0 13.6 0a6.8 6.8 0 1 0 -13.6 0zM455.2 1090a6.8 6.8 0 1 0 13.6 0a6.8 6.8 0 1 0 -13.6 0zM456.7 1089.43a6.8 6.8 0 1 0 13.6 0a6.8 6.8 0 1 0 -13.6 0zM458.2 1082a6.8 6.8 0 1 0 13.6 0a6.8 6.8 0 1 0 -13.6 0zM459.7 1082.12a6.8 6.8 0 1 0 13.6 0a6.8 6.8 0 1 0 -13.6 0zM461.2 1088a6.8 6.8 0 1 0 13.6 0a6.8 6.8 0 1 0 -13.6 0zM462.7 1082.1a6.8 6.8 0 1 0 13.6 0a6.8 6.8 0 1 0 -13.6 0zM464.2 1072a6.8 6.8 0 1 0 13.6 0a6.8 6.8 0 1 0 -13.6 0zM465.7 1061.37a6.8 6.8 0 1 0 13.6 0a6.8 6.8 0 1 0 -13.6 0zM467.2 1052a6.8 6.8 0 1 0 13.6 0a6.8 6.8 0 1 0 -13.6 0zM468.7 1042.56a6.8 6.8 0 1 0 13.6 0a6.8 6.8 0 1 0 -13.6 0zM470.2 1038a6.8 6.8 0 1 0 13.6 0a6.8 6.8 0 1 0 -13.6 0zM471.7 1040.56a6.8 6.8 0 1 0 13.6 0a6.8 6.8 0 1 0 -13.6 0zM473.2 1046a6.8 6.8 0 1 0 13.6 0a6.8 6.8 0 1 0 -13.6 0zM474.7 1064.88a6.8 6.8 0 1 0 13.6 0a6.8 6.8 0 1 0 -13.6 0zM476.2 1080a6.8 6.8 0 1 0 13.6 0a6.8 6.8 0 1 0 -13.6 0zM477.7 1077.61a6.8 6.8 0 1 0 13.6 0a6.8 6.8 0 1 0 -13.6 0zM479.2 1070a6.8 6.8 0 1 0 13.6 0a6.8 6.8 0 1 0 -13.6 0zM480.7 1073.81a6.8 6.8 0 1 0 13.6 0a6.8 6.8 0 1 0 -13.6 0zM482.2 1084a6.8 6.8 0 1 0 13.6 0a6.8 6.8 0 1 0 -13.6 0zM483.7 1083.8a6.8 6.8 0 1 0 13.6 0a6.8 6.8 0 1 0 -13.6 0zM485.2 1082a6.8 6.8 0 1 0 13.6 0a6.8 6.8 0 1 0 -13.6 0zM486.7 1071.81a6.8 6.8 0 1 0 13.6 0a6.8 6.8 0 1 0 -13.6 0zM488.2 1068a6.8 6.8 0 1 0 13.6 0a6.8 6.8 0 1 0 -13.6 0zM490.2 1061.53a6.8 6.8 0 1 0 13.6 0a6.8 6.8 0 1 0 -13.6 0zM492.2 1052a6.8 6.8 0 1 0 13.6 0a6.8 6.8 0 1 0 -13.6 0zM493.7 1055.82a6.8 6.8 0 1 0 13.6 0a6.8 6.8 0 1 0 -13.6 0zM495.2 1062a6.8 6.8 0 1 0 13.6 0a6.8 6.8 0 1 0 -13.6 0zM496.7 1073.67a6.8 6.8 0 1 0 13.6 0a6.8 6.8 0 1 0 -13.6 0zM498.2 1080a6.8 6.8 0 1 0 13.6 0a6.8 6.8 0 1 0 -13.6 0zM499.7 1089.36a6.8 6.8 0 1 0 13.6 0a6.8 6.8 0 1 0 -13.6 0zM501.2 1092a6.8 6.8 0 1 0 13.6 0a6.8 6.8 0 1 0 -13.6 0zM502.7 1091.04a6.8 6.8 0 1 0 13.6 0a6.8 6.8 0 1 0 -13.6 0zM504.2 1090a6.8 6.8 0 1 0 13.6 0a6.8 6.8 0 1 0 -13.6 0zM505.7 1087.49a6.8 6.8 0 1 0 13.6 0a6.8 6.8 0 1 0 -13.6 0zM507.2 1078a6.8 6.8 0 1 0 13.6 0a6.8 6.8 0 1 0 -13.6 0zM508.7 1063.67a6.8 6.8 0 1 0 13.6 0a6.8 6.8 0 1 0 -13.6 0zM510.2 1052a6.8 6.8 0 1 0 13.6 0a6.8 6.8 0 1 0 -13.6 0zM511.7 1045.04a6.8 6.8 0 1 0 13.6 0a6.8 6.8 0 1 0 -13.6 0zM513.2 1044a6.8 6.8 0 1 0 13.6 0a6.8 6.8 0 1 0 -13.6 0zM514.7 1045.2a6.8 6.8 0 1 0 13.6 0a6.8 6.8 0 1 0 -13.6 0zM516.2 1045a6.8 6.8 0 1 0 13.6 0a6.8 6.8 0 1 0 -13.6 0zM518.2 1016a6.8 6.8 0 1 0 13.6 0a6.8 6.8 0 1 0 -13.6 0zM520.2 990a6.8 6.8 0 1 0 13.6 0a6.8 6.8 0 1 0 -13.6 0zM521.7 976.72a6.8 6.8 0 1 0 13.6 0a6.8 6.8 0 1 0 -13.6 0zM523.2 970a6.8 6.8 0 1 0 13.6 0a6.8 6.8 0 1 0 -13.6 0zM524.7 965.88a6.8 6.8 0 1 0 13.6 0a6.8 6.8 0 1 0 -13.6 0zM526.2 966a6.8 6.8 0 1 0 13.6 0a6.8 6.8 0 1 0 -13.6 0zM527.7 975.36a6.8 6.8 0 1 0 13.6 0a6.8 6.8 0 1 0 -13.6 0zM529.2 986a6.8 6.8 0 1 0 13.6 0a6.8 6.8 0 1 0 -13.6 0zM530.7 979.77a6.8 6.8 0 1 0 13.6 0a6.8 6.8 0 1 0 -13.6 0zM532.2 972a6.8 6.8 0 1 0 13.6 0a6.8 6.8 0 1 0 -13.6 0zM533.7 951.59a6.8 6.8 0 1 0 13.6 0a6.8 6.8 0 1 0 -13.6 0zM535.2 936a6.8 6.8 0 1 0 13.6 0a6.8 6.8 0 1 0 -13.6 0zM536.7 936.8a6.8 6.8 0 1 0 13.6 0a6.8 6.8 0 1 0 -13.6 0zM538.2 944a6.8 6.8 0 1 0 13.6 0a6.8 6.8 0 1 0 -13.6 0zM539.7 954.57a6.8 6.8 0 1 0 13.6 0a6.8 6.8 0 1 0 -13.6 0zM541.2 960a6.8 6.8 0 1 0 13.6 0a6.8 6.8 0 1 0 -13.6 0zM542.7 973.7a6.8 6.8 0 1 0 13.6 0a6.8 6.8 0 1 0 -13.6 0zM544.2 990a6.8 6.8 0 1 0 13.6 0a6.8 6.8 0 1 0 -13.6 0zM545.7 988.21a6.8 6.8 0 1 0 13.6 0a6.8 6.8 0 1 0 -13.6 0zM547.2 980a6.8 6.8 0 1 0 13.6 0a6.8 6.8 0 1 0 -13.6 0zM548.7 983.78a6.8 6.8 0 1 0 13.6 0a6.8 6.8 0 1 0 -13.6 0zM550.2 982a6.8 6.8 0 1 0 13.6 0a6.8 6.8 0 1 0 -13.6 0zM552.2 918a6.8 6.8 0 1 0 13.6 0a6.8 6.8 0 1 0 -13.6 0zM553.7 911.14a6.8 6.8 0 1 0 13.6 0a6.8 6.8 0 1 0 -13.6 0zM555.2 906a6.8 6.8 0 1 0 13.6 0a6.8 6.8 0 1 0 -13.6 0zM556.7 922.72a6.8 6.8 0 1 0 13.6 0a6.8 6.8 0 1 0 -13.6 0zM558.2 940a6.8 6.8 0 1 0 13.6 0a6.8 6.8 0 1 0 -13.6 0zM560.2 913.14a6.8 6.8 0 1 0 13.6 0a6.8 6.8 0 1 0 -13.6 0zM562.2 886a6.8 6.8 0 1 0 13.6 0a6.8 6.8 0 1 0 -13.6 0zM563.7 880.01a6.8 6.8 0 1 0 13.6 0a6.8 6.8 0 1 0 -13.6 0zM565.2 872a6.8 6.8 0 1 0 13.6 0a6.8 6.8 0 1 0 -13.6 0zM566.7 876.67a6.8 6.8 0 1 0 13.6 0a6.8 6.8 0 1 0 -13.6 0zM568.2 880a6.8 6.8 0 1 0 13.6 0a6.8 6.8 0 1 0 -13.6 0zM569.7 881.41a6.8 6.8 0 1 0 13.6 0a6.8 6.8 0 1 0 -13.6 0zM571.2 882a6.8 6.8 0 1 0 13.6 0a6.8 6.8 0 1 0 -13.6 0zM573.2 871.34a6.8 6.8 0 1 0 13.6 0a6.8 6.8 0 1 0 -13.6 0zM575.2 859a6.8 6.8 0 1 0 13.6 0a6.8 6.8 0 1 0 -13.6 0zM577.2 865.58a6.8 6.8 0 1 0 13.6 0a6.8 6.8 0 1 0 -13.6 0zM579.2 866a6.8 6.8 0 1 0 13.6 0a6.8 6.8 0 1 0 -13.6 0zM580.7 871.05a6.8 6.8 0 1 0 13.6 0a6.8 6.8 0 1 0 -13.6 0zM582.2 876a6.8 6.8 0 1 0 13.6 0a6.8 6.8 0 1 0 -13.6 0zM584.2 860a6.8 6.8 0 1 0 13.6 0a6.8 6.8 0 1 0 -13.6 0zM586.2 833a6.8 6.8 0 1 0 13.6 0a6.8 6.8 0 1 0 -13.6 0zM587.7 819.02a6.8 6.8 0 1 0 13.6 0a6.8 6.8 0 1 0 -13.6 0zM589.2 806a6.8 6.8 0 1 0 13.6 0a6.8 6.8 0 1 0 -13.6 0zM591.2 812.54a6.8 6.8 0 1 0 13.6 0a6.8 6.8 0 1 0 -13.6 0zM593.2 816a6.8 6.8 0 1 0 13.6 0a6.8 6.8 0 1 0 -13.6 0zM594.7 840.16a6.8 6.8 0 1 0 13.6 0a6.8 6.8 0 1 0 -13.6 0zM596.2 868a6.8 6.8 0 1 0 13.6 0a6.8 6.8 0 1 0 -13.6 0zM597.7 858.61a6.8 6.8 0 1 0 13.6 0a6.8 6.8 0 1 0 -13.6 0zM599.2 852a6.8 6.8 0 1 0 13.6 0a6.8 6.8 0 1 0 -13.6 0zM600.7 851.34a6.8 6.8 0 1 0 13.6 0a6.8 6.8 0 1 0 -13.6 0zM602.2 844a6.8 6.8 0 1 0 13.6 0a6.8 6.8 0 1 0 -13.6 0zM603.2 796a6.8 6.8 0 1 0 13.6 0a6.8 6.8 0 1 0 -13.6 0zM604.7 787.15a6.8 6.8 0 1 0 13.6 0a6.8 6.8 0 1 0 -13.6 0zM606.2 778a6.8 6.8 0 1 0 13.6 0a6.8 6.8 0 1 0 -13.6 0zM607.7 783.34a6.8 6.8 0 1 0 13.6 0a6.8 6.8 0 1 0 -13.6 0zM609.2 788a6.8 6.8 0 1 0 13.6 0a6.8 6.8 0 1 0 -13.6 0zM610.7 776.58a6.8 6.8 0 1 0 13.6 0a6.8 6.8 0 1 0 -13.6 0zM612.2 772a6.8 6.8 0 1 0 13.6 0a6.8 6.8 0 1 0 -13.6 0zM613.7 767.41a6.8 6.8 0 1 0 13.6 0a6.8 6.8 0 1 0 -13.6 0zM615.2 764a6.8 6.8 0 1 0 13.6 0a6.8 6.8 0 1 0 -13.6 0zM617.2 762.56a6.8 6.8 0 1 0 13.6 0a6.8 6.8 0 1 0 -13.6 0zM619.2 760a6.8 6.8 0 1 0 13.6 0a6.8 6.8 0 1 0 -13.6 0zM621.2 757.64a6.8 6.8 0 1 0 13.6 0a6.8 6.8 0 1 0 -13.6 0zM623.2 762a6.8 6.8 0 1 0 13.6 0a6.8 6.8 0 1 0 -13.6 0zM624.7 776.81a6.8 6.8 0 1 0 13.6 0a6.8 6.8 0 1 0 -13.6 0zM626.2 790a6.8 6.8 0 1 0 13.6 0a6.8 6.8 0 1 0 -13.6 0zM627.7 796.93a6.8 6.8 0 1 0 13.6 0a6.8 6.8 0 1 0 -13.6 0zM629.2 802a6.8 6.8 0 1 0 13.6 0a6.8 6.8 0 1 0 -13.6 0zM630.7 781.92a6.8 6.8 0 1 0 13.6 0a6.8 6.8 0 1 0 -13.6 0zM632.2 768a6.8 6.8 0 1 0 13.6 0a6.8 6.8 0 1 0 -13.6 0zM633.7 784.89a6.8 6.8 0 1 0 13.6 0a6.8 6.8 0 1 0 -13.6 0zM635.2 800a6.8 6.8 0 1 0 13.6 0a6.8 6.8 0 1 0 -13.6 0zM636.7 798.76a6.8 6.8 0 1 0 13.6 0a6.8 6.8 0 1 0 -13.6 0zM638.2 798a6.8 6.8 0 1 0 13.6 0a6.8 6.8 0 1 0 -13.6 0zM639.7 759.25a6.8 6.8 0 1 0 13.6 0a6.8 6.8 0 1 0 -13.6 0zM641.2 718a6.8 6.8 0 1 0 13.6 0a6.8 6.8 0 1 0 -13.6 0zM642.7 714.97a6.8 6.8 0 1 0 13.6 0a6.8 6.8 0 1 0 -13.6 0zM644.2 714a6.8 6.8 0 1 0 13.6 0a6.8 6.8 0 1 0 -13.6 0zM645.7 738.45a6.8 6.8 0 1 0 13.6 0a6.8 6.8 0 1 0 -13.6 0zM647.2 760a6.8 6.8 0 1 0 13.6 0a6.8 6.8 0 1 0 -13.6 0zM648.7 770.67a6.8 6.8 0 1 0 13.6 0a6.8 6.8 0 1 0 -13.6 0zM650.2 778a6.8 6.8 0 1 0 13.6 0a6.8 6.8 0 1 0 -13.6 0zM651.7 761.66a6.8 6.8 0 1 0 13.6 0a6.8 6.8 0 1 0 -13.6 0zM653.2 752a6.8 6.8 0 1 0 13.6 0a6.8 6.8 0 1 0 -13.6 0zM655.2 740.92a6.8 6.8 0 1 0 13.6 0a6.8 6.8 0 1 0 -13.6 0zM657.2 736a6.8 6.8 0 1 0 13.6 0a6.8 6.8 0 1 0 -13.6 0zM658.7 744.23a6.8 6.8 0 1 0 13.6 0a6.8 6.8 0 1 0 -13.6 0zM660.2 750a6.8 6.8 0 1 0 13.6 0a6.8 6.8 0 1 0 -13.6 0zM661.7 758.24a6.8 6.8 0 1 0 13.6 0a6.8 6.8 0 1 0 -13.6 0zM663.2 760a6.8 6.8 0 1 0 13.6 0a6.8 6.8 0 1 0 -13.6 0zM664.7 773.26a6.8 6.8 0 1 0 13.6 0a6.8 6.8 0 1 0 -13.6 0zM666.2 790a6.8 6.8 0 1 0 13.6 0a6.8 6.8 0 1 0 -13.6 0zM667.7 778.69a6.8 6.8 0 1 0 13.6 0a6.8 6.8 0 1 0 -13.6 0zM669.2 768a6.8 6.8 0 1 0 13.6 0a6.8 6.8 0 1 0 -13.6 0zM670.7 751.65a6.8 6.8 0 1 0 13.6 0a6.8 6.8 0 1 0 -13.6 0zM672.2 734a6.8 6.8 0 1 0 13.6 0a6.8 6.8 0 1 0 -13.6 0zM673.7 759.74a6.8 6.8 0 1 0 13.6 0a6.8 6.8 0 1 0 -13.6 0zM675.2 788a6.8 6.8 0 1 0 13.6 0a6.8 6.8 0 1 0 -13.6 0zM676.7 787.05a6.8 6.8 0 1 0 13.6 0a6.8 6.8 0 1 0 -13.6 0zM678.2 788a6.8 6.8 0 1 0 13.6 0a6.8 6.8 0 1 0 -13.6 0zM679.7 768.69a6.8 6.8 0 1 0 13.6 0a6.8 6.8 0 1 0 -13.6 0zM681.2 752a6.8 6.8 0 1 0 13.6 0a6.8 6.8 0 1 0 -13.6 0zM682.7 740.08a6.8 6.8 0 1 0 13.6 0a6.8 6.8 0 1 0 -13.6 0zM684.2 730a6.8 6.8 0 1 0 13.6 0a6.8 6.8 0 1 0 -13.6 0zM686.8 711a6.8 6.8 0 1 0 13.6 0a6.8 6.8 0 1 0 -13.6 0zM688.2 719.17a6.8 6.8 0 1 0 13.6 0a6.8 6.8 0 1 0 -13.6 0zM689.6 726a6.8 6.8 0 1 0 13.6 0a6.8 6.8 0 1 0 -13.6 0zM692.2 768a6.8 6.8 0 1 0 13.6 0a6.8 6.8 0 1 0 -13.6 0zM694.8 794a6.8 6.8 0 1 0 13.6 0a6.8 6.8 0 1 0 -13.6 0zM697.2 780a6.8 6.8 0 1 0 13.6 0a6.8 6.8 0 1 0 -13.6 0zM698.7 768.6a6.8 6.8 0 1 0 13.6 0a6.8 6.8 0 1 0 -13.6 0zM700.2 760a6.8 6.8 0 1 0 13.6 0a6.8 6.8 0 1 0 -13.6 0zM701.7 755.14a6.8 6.8 0 1 0 13.6 0a6.8 6.8 0 1 0 -13.6 0zM703.2 752a6.8 6.8 0 1 0 13.6 0a6.8 6.8 0 1 0 -13.6 0zM705.2 745.91a6.8 6.8 0 1 0 13.6 0a6.8 6.8 0 1 0 -13.6 0zM707.2 736a6.8 6.8 0 1 0 13.6 0a6.8 6.8 0 1 0 -13.6 0zM709.2 726.69a6.8 6.8 0 1 0 13.6 0a6.8 6.8 0 1 0 -13.6 0zM711.2 724a6.8 6.8 0 1 0 13.6 0a6.8 6.8 0 1 0 -13.6 0zM713 715.98a6.8 6.8 0 1 0 13.6 0a6.8 6.8 0 1 0 -13.6 0zM714.8 707a6.8 6.8 0 1 0 13.6 0a6.8 6.8 0 1 0 -13.6 0zM716.2 715.15a6.8 6.8 0 1 0 13.6 0a6.8 6.8 0 1 0 -13.6 0zM717.6 720a6.8 6.8 0 1 0 13.6 0a6.8 6.8 0 1 0 -13.6 0zM720.2 756a6.8 6.8 0 1 0 13.6 0a6.8 6.8 0 1 0 -13.6 0zM721.7 761.67a6.8 6.8 0 1 0 13.6 0a6.8 6.8 0 1 0 -13.6 0zM723.2 770a6.8 6.8 0 1 0 13.6 0a6.8 6.8 0 1 0 -13.6 0zM725.2 772.06a6.8 6.8 0 1 0 13.6 0a6.8 6.8 0 1 0 -13.6 0zM727.2 778a6.8 6.8 0 1 0 13.6 0a6.8 6.8 0 1 0 -13.6 0zM728.7 775.13a6.8 6.8 0 1 0 13.6 0a6.8 6.8 0 1 0 -13.6 0zM730.2 768a6.8 6.8 0 1 0 13.6 0a6.8 6.8 0 1 0 -13.6 0zM732.2 748a6.8 6.8 0 1 0 13.6 0a6.8 6.8 0 1 0 -13.6 0zM734.2 698a6.8 6.8 0 1 0 13.6 0a6.8 6.8 0 1 0 -13.6 0zM735.7 699.17a6.8 6.8 0 1 0 13.6 0a6.8 6.8 0 1 0 -13.6 0zM737.2 704a6.8 6.8 0 1 0 13.6 0a6.8 6.8 0 1 0 -13.6 0zM738.7 709.81a6.8 6.8 0 1 0 13.6 0a6.8 6.8 0 1 0 -13.6 0zM740.2 720a6.8 6.8 0 1 0 13.6 0a6.8 6.8 0 1 0 -13.6 0zM742.2 710a6.8 6.8 0 1 0 13.6 0a6.8 6.8 0 1 0 -13.6 0zM743.7 698.05a6.8 6.8 0 1 0 13.6 0a6.8 6.8 0 1 0 -13.6 0zM745.2 687a6.8 6.8 0 1 0 13.6 0a6.8 6.8 0 1 0 -13.6 0z" fill="#2f7cc6" /></g>
<line x1="140" y1="741.4" x2="330" y2="741.4" stroke="#000" stroke-width="2.3" stroke-dasharray="17.6 12" stroke-dashoffset="3"/>
<line x1="594" y1="741.4" x2="765" y2="741.4" stroke="#000" stroke-width="2.3" stroke-dasharray="17.6 12"/>
<line x1="140" y1="1068.4" x2="765" y2="1068.4" stroke="#000" stroke-width="2.3" stroke-dasharray="17.2 12" stroke-dashoffset="27.8"/>
<path d="M140 741.4h11.3M140 872.2h11.3M140 1003h11.3M140 1133.8h11.3" stroke="#000" stroke-width="2.2" fill="none"/>
<path d="M140 676h6.5M140 806.8h6.5M140 937.6h6.5M140 1068.4h6.5" stroke="#000" stroke-width="2.2" fill="none"/>
<path d="M215.2 1145v-11.3M334.4 1145v-11.3M453.6 1145v-11.3M572.8 1145v-11.3M692 1145v-11.3" stroke="#000" stroke-width="2.2" fill="none"/>
<path d="M155.6 1145v-7.5M274.8 1145v-7.5M394 1145v-7.5M513.2 1145v-7.5M632.4 1145v-7.5M751.6 1145v-7.5" stroke="#000" stroke-width="2.2" fill="none"/>
<rect x="140" y="649" width="625" height="496" fill="none" stroke="#000" stroke-width="2.7" />
<line x1="751.7" y1="760" x2="751.7" y2="1046" stroke="#000" stroke-width="1.7" />
<polygon points="751.7,747.5 746.7,763.5 756.7,763.5" fill="#000" />
<polygon points="751.7,1058.5 746.7,1042.5 756.7,1042.5" fill="#000" />
<text font-size="34.88" x="641.93" y="928.6" >~25 Ω</text>
<text font-size="28.71" textLength="157.18" lengthAdjust="spacingAndGlyphs" x="166.36" y="1010.3" ><tspan font-style="italic">V</tspan><tspan font-size="16.08" dy="6.03">DS</tspan><tspan dy="-6.03"> = 10 mV</tspan></text>
<text font-size="28.32" textLength="113.49" lengthAdjust="spacingAndGlyphs" x="167.15" y="1050.6" ><tspan font-style="italic">T</tspan> = 1.6 K</text>
<text font-size="34.6" x="105.81" y="753" >0</text>
<text font-size="34.6" x="67.4" y="883.8" >–10</text>
<text font-size="34.6" x="67.4" y="1014.6" >–20</text>
<text font-size="34.6" x="67.4" y="1145.4" >–30</text>
<text font-size="34.6" x="174.92" y="1186.9" >–0.2</text>
<text font-size="34.6" x="294.03" y="1186.9" >–0.1</text>
<text font-size="34.6" x="429.47" y="1186.9" >0.0</text>
<text font-size="34.6" x="548.84" y="1186.9" >0.1</text>
<text font-size="34.6" x="668.13" y="1186.9" >0.2</text>
<text font-size="34.32" textLength="76.25" lengthAdjust="spacingAndGlyphs" x="415.97" y="1242" ><tspan font-style="italic">B</tspan> (T)</text>
<text font-size="33.18" textLength="102.24" lengthAdjust="spacingAndGlyphs" transform="translate(34.5 947.7) rotate(-90)" x="-1" y="0" >Δ<tspan font-style="italic">R</tspan> (Ω)</text>
<rect x="411" y="654" width="170.5" height="135.6" fill="#fff" stroke="#000" stroke-width="2.1" />
<polyline points="410.85,672.73 415.75,673.25 421,675 425.38,679.38 429.75,678.5 432.38,671.5 435.01,674.13 439.38,675 443.76,672.38 449.01,677.63 452.51,673.25 455.13,671.5 459.51,681.13 463.01,678.5 467.38,672.38 470.01,675.88 472.11,675 473.86,679.38 474.91,718.75 476.13,759.01 478.76,766.01 480.86,763.38 483.13,768.63 487.51,771.26 491.88,773.01 494.51,763.38 497.13,770.38 500.63,768.63 504.13,776.51 506.76,770.38 510.26,769.51 512.88,762.51 515.51,759.01 516.91,718.75 518.13,680.25 520.41,671.5 522.51,677.63 527.76,676.75 533.01,675.88 538.26,673.25 540.89,676.75 543.16,668.88 545.26,675.88 548.76,680.25 552.26,674.13 555.76,677.63 559.26,675.88 562.76,679.38 566.26,675.88 569.76,675 574.14,671.5" fill="none" stroke="#55b091" stroke-width="1.4" stroke-linejoin="round" />
<path d="M411 672.7h9.3M411 708.3h9.3M411 743.8h9.3M411 780h9.3" stroke="#000" stroke-width="1.9" fill="none"/>
<path d="M411 690.7h5.3M411 726.1h5.3M411 762h5.3" stroke="#000" stroke-width="1.9" fill="none"/>
<path d="M418.4 789.6v-9.6M496.3 789.6v-9.6M574.1 789.6v-9.6" stroke="#000" stroke-width="1.9" fill="none"/>
<path d="M457.4 789.6v-5.3M535.1 789.6v-5.3" stroke="#000" stroke-width="1.9" fill="none"/>
<text font-size="18.25" x="377.37" y="677.8" >0.0</text>
<text font-size="18.89" x="365.9" y="713.4" >–0.1</text>
<text font-size="19.37" x="365.9" y="749.1" >–0.2</text>
<text font-size="19.27" x="365.9" y="785.1" >–0.3</text>
<text font-size="17.95" x="398.3" y="812.5" >–0.1</text>
<text font-size="20" x="482.3" y="812.5" >0.0</text>
<text font-size="17.09" x="560.82" y="812.5" >0.1</text>
<text font-size="26.33" textLength="58.49" lengthAdjust="spacingAndGlyphs" x="467.51" y="851" ><tspan font-style="italic">B</tspan> (T)</text>
<text font-size="26.05" textLength="80.28" lengthAdjust="spacingAndGlyphs" transform="translate(352 760.8) rotate(-90)" x="-0.78" y="0" >Δ<tspan font-style="italic">R</tspan> (Ω)</text></g>
<g id="pe"><text font-size="66" textLength="35.97" lengthAdjust="spacingAndGlyphs" x="817.31" y="658.1" stroke="#000" stroke-width="0.3" stroke-linejoin="round">e</text>
<g ><polyline points="969.75,637.42 972.3,666.75 974,682.69 975.77,681.65 977.54,680.6 979.31,677.37 981.44,700.75 983.56,694.02 985.69,683.75 987.81,691.18 989.94,693.31 991.53,703.25 993.12,710.31 995.25,704.88 997.37,694.37 999.5,705 1001.62,719.87 1002.69,747.5 1004.28,746.8 1005.87,751.75 1008,750.48 1010.12,749.62 1011.72,755.47 1013.31,756 1014.9,750.52 1016.5,743.25 1018.09,753.09 1019.69,758.12 1021.81,771.93 1023.94,785.75 1025.53,793.52 1027.12,805.93 1029.25,827.18 1030.84,817.97 1032.44,809.12 1034.03,801.22 1035.62,796.37 1037.75,813.37 1040.19,853.31 1041.96,851.09 1043.73,848.8 1045.5,845.87 1047.62,840.83 1049.75,841.62 1051.52,838.51 1053.29,837.47 1055.06,837.37 1051.87,854.37 1054,862.89 1056.12,868.01 1058.25,872.44 1059.31,890.5 1060.91,896.95 1062.5,907.5 1064.09,910.34 1065.69,909.62 1067.81,897.89 1069.94,890.5 1071.53,901.83 1073.12,911.75 1074.72,919.07 1076.31,930.87 1077.9,920.44 1079.5,916 1081.09,911.32 1082.69,902.18 1084.81,921.31 1086.51,951.06 1089.06,989.31 1090.65,977.47 1092.25,969.12 1093.84,970.6 1095.44,975.5 1097.03,991.14 1098.62,1000.99 1100.22,997.92 1101.81,990.37 1103.4,986.98 1105,986.12 1107.12,985.7 1109.25,979.75 1111.05,970.95 1112.86,961.68 1115.62,992.49 1117.75,1008.43 1119.87,1022.24 1122,1028.62 1124.12,1032.87 1125.72,1026.85 1127.31,1024.37 1128.8,1042.43 1131.56,1024.37 1132.62,979.75 1134.75,984.52 1136.87,983.99 1138.47,986.2 1140.06,986.12 1141.65,982.54 1143.25,973.37 1144.84,985.29 1146.43,992.49 1148.03,992.35 1149.62,994.62 1151.22,986.35 1152.81,979.75 1154.4,978.27 1156,980.81 1157.59,968.06 1159.18,959.56 1160.78,962.79 1162.37,971.25 1163.97,976.43 1165.56,983.99 1168.32,997.81 1170.87,973.37 1172.46,972.93 1174.06,971.25 1175.65,959.77 1177.25,954.25 1178.84,956.38 1180.43,956.37 1182.56,943.62 1183.62,895.81 1185.75,877.84 1187.87,861.81 1188.5,862.24 1190.09,874.92 1191.69,889.87 1193.28,881.15 1194.87,868.62 1196.79,851.5 1198.7,834.62 1200.51,837.76 1202.31,843.12 1203.91,841.94 1205.5,840.99 1207.62,853.74 1209.22,861.35 1210.81,866.49 1212.41,872.87 1214,884.56 1216.12,886.88 1218.25,883.49 1219.84,872.13 1221.44,866.49 1223.03,867.99 1224.62,866.49 1226.22,862.72 1227.81,854.81 1229.94,833.56 1232.06,804.87 1233.65,799.32 1235.25,799.56 1236.84,818.82 1238.44,834.62 1240.03,816.82 1241.62,800.62 1243.22,788.34 1244.81,775.12 1246.4,781.74 1248,794.25 1250.12,851.62 1251.72,851.02 1253.31,855.87 1254.9,843.33 1256.5,834.62 1258.62,811.25 1260.22,825.66 1261.81,834.62 1263.94,811.25 1266.06,792.12 1267.65,779.68 1269.25,770.87 1270.84,775.59 1272.44,777.25 1274.56,773.45 1276.69,764.5 1278.81,754.3 1280.4,764.17 1282,768.75 1283.59,773.12 1285.18,779.37 1286.78,782.75 1288.37,787.87 1290.5,802.75 1292.09,799.71 1293.68,796.37 1295.81,784.68 1297.93,792.12 1300.06,820.81 1302.18,850.56 1303.78,841.59 1305.37,829.31 1307.5,827.49 1309.62,830.37 1311.39,832.57 1313.16,833.57 1314.93,832.49 1316.7,835.01 1318.48,830.42 1320.25,833.56 1322.02,837.65 1323.79,833.94 1325.56,837.81 1327.68,867.56 1329.81,875.63 1331.93,885.62 1333.53,878.85 1335.12,870.74 1336.71,870.06 1338.31,864.37 1340.43,860.12 1342.03,847.47 1343.62,836.74 1345.21,836.1 1346.81,830.37 1348.93,847.37 1350.53,863.58 1352.12,879.24 1353.71,882.37 1355.31,887.74 1357.63,890.75 1359.81,887.9 1362,887.25 1363.75,910 1364.63,927.5 1367.25,954.63 1369,949.63 1370.75,948.51 1372.5,943.35 1374.25,943.26 1376,939.4 1377.75,939.75 1379.5,947.89 1381.25,953.76 1383.35,966.88 1384.93,959.8 1386.5,946.76 1388.25,949.1 1390,955.51 1392.63,983.51 1394.38,997.51 1396.13,986.05 1397.88,980.01 1400.5,973.01 1403.13,980.01 1405.75,985.26 1407.5,989.93 1409.25,988.76 1411.88,1025.51 1414.5,1022.01 1417.13,1016.76 1419.75,994.01 1421.51,948.51 1424.13,945.01 1426.76,962.51 1429.38,971.26 1432.01,973.01 1434.63,985.26 1437.26,1001.01 1439.01,1002.08 1440.76,1002.76 1443.38,980.01 1446.01,966.01 1448.63,992.26 1451.26,1013.26 1453.36,1036.01 1455.63,1016.76 1458.26,1009.76 1460.88,994.01 1463.51,980.01 1465.26,957.26 1467.01,948.51 1468.76,934.5 1470.51,942.69 1472.26,952.01 1474.01,955.68 1475.76,962.51 1477.51,967.45 1479.26,971.26 1481.88,980.01 1483.63,990.51 1486.26,962.51 1488.88,960.76 1489.76,936.25 1492.38,945.01 1495.01,929.25 1497.63,920.5 1500.26,945.01 1502.01,945.21 1503.76,941.51 1506.38,945.01 1509.01,925.75 1510.76,902.13 1512.51,887.25 1515.13,875 1517.76,862.75 1520.39,854 1523.01,876.75 1525.64,859.25 1527.39,840 1528.54,803.36 1530.42,779.5 1532.52,777.56 1534.61,775.68 1536.7,774.47 1539.22,750.61 1541.73,736.8 1543.82,735.39 1545.91,741.81 1548.01,740.57 1549.68,740.27 1551.36,745.55 1553.03,748.1 1555.23,757.67 1557.43,763.17 1559,758.44 1560.57,758.15 1562.45,739.31 1564.33,719.22 1566.84,716.7 1568.73,714.95 1570.61,710.42 1572.5,681.54 1575.01,656.42 1576.89,661.44 1579.4,651.4 1581.92,648.89" fill="none" stroke="#2f7cc6" stroke-width="3.7" stroke-linejoin="round" /><path d="M962.75 637.42a7 7 0 1 0 14 0a7 7 0 1 0 -14 0zM965.3 666.75a7 7 0 1 0 14 0a7 7 0 1 0 -14 0zM967 682.69a7 7 0 1 0 14 0a7 7 0 1 0 -14 0zM968.77 681.65a7 7 0 1 0 14 0a7 7 0 1 0 -14 0zM970.54 680.6a7 7 0 1 0 14 0a7 7 0 1 0 -14 0zM972.31 677.37a7 7 0 1 0 14 0a7 7 0 1 0 -14 0zM974.44 700.75a7 7 0 1 0 14 0a7 7 0 1 0 -14 0zM976.56 694.02a7 7 0 1 0 14 0a7 7 0 1 0 -14 0zM978.69 683.75a7 7 0 1 0 14 0a7 7 0 1 0 -14 0zM980.81 691.18a7 7 0 1 0 14 0a7 7 0 1 0 -14 0zM982.94 693.31a7 7 0 1 0 14 0a7 7 0 1 0 -14 0zM984.53 703.25a7 7 0 1 0 14 0a7 7 0 1 0 -14 0zM986.12 710.31a7 7 0 1 0 14 0a7 7 0 1 0 -14 0zM988.25 704.88a7 7 0 1 0 14 0a7 7 0 1 0 -14 0zM990.37 694.37a7 7 0 1 0 14 0a7 7 0 1 0 -14 0zM992.5 705a7 7 0 1 0 14 0a7 7 0 1 0 -14 0zM994.62 719.87a7 7 0 1 0 14 0a7 7 0 1 0 -14 0zM995.69 747.5a7 7 0 1 0 14 0a7 7 0 1 0 -14 0zM997.28 746.8a7 7 0 1 0 14 0a7 7 0 1 0 -14 0zM998.87 751.75a7 7 0 1 0 14 0a7 7 0 1 0 -14 0zM1001 750.48a7 7 0 1 0 14 0a7 7 0 1 0 -14 0zM1003.12 749.62a7 7 0 1 0 14 0a7 7 0 1 0 -14 0zM1004.72 755.47a7 7 0 1 0 14 0a7 7 0 1 0 -14 0zM1006.31 756a7 7 0 1 0 14 0a7 7 0 1 0 -14 0zM1007.9 750.52a7 7 0 1 0 14 0a7 7 0 1 0 -14 0zM1009.5 743.25a7 7 0 1 0 14 0a7 7 0 1 0 -14 0zM1011.09 753.09a7 7 0 1 0 14 0a7 7 0 1 0 -14 0zM1012.69 758.12a7 7 0 1 0 14 0a7 7 0 1 0 -14 0zM1014.81 771.93a7 7 0 1 0 14 0a7 7 0 1 0 -14 0zM1016.94 785.75a7 7 0 1 0 14 0a7 7 0 1 0 -14 0zM1018.53 793.52a7 7 0 1 0 14 0a7 7 0 1 0 -14 0zM1020.12 805.93a7 7 0 1 0 14 0a7 7 0 1 0 -14 0zM1022.25 827.18a7 7 0 1 0 14 0a7 7 0 1 0 -14 0zM1023.84 817.97a7 7 0 1 0 14 0a7 7 0 1 0 -14 0zM1025.44 809.12a7 7 0 1 0 14 0a7 7 0 1 0 -14 0zM1027.03 801.22a7 7 0 1 0 14 0a7 7 0 1 0 -14 0zM1028.62 796.37a7 7 0 1 0 14 0a7 7 0 1 0 -14 0zM1030.75 813.37a7 7 0 1 0 14 0a7 7 0 1 0 -14 0zM1033.19 853.31a7 7 0 1 0 14 0a7 7 0 1 0 -14 0zM1034.96 851.09a7 7 0 1 0 14 0a7 7 0 1 0 -14 0zM1036.73 848.8a7 7 0 1 0 14 0a7 7 0 1 0 -14 0zM1038.5 845.87a7 7 0 1 0 14 0a7 7 0 1 0 -14 0zM1040.62 840.83a7 7 0 1 0 14 0a7 7 0 1 0 -14 0zM1042.75 841.62a7 7 0 1 0 14 0a7 7 0 1 0 -14 0zM1044.52 838.51a7 7 0 1 0 14 0a7 7 0 1 0 -14 0zM1046.29 837.47a7 7 0 1 0 14 0a7 7 0 1 0 -14 0zM1048.06 837.37a7 7 0 1 0 14 0a7 7 0 1 0 -14 0zM1044.87 854.37a7 7 0 1 0 14 0a7 7 0 1 0 -14 0zM1047 862.89a7 7 0 1 0 14 0a7 7 0 1 0 -14 0zM1049.12 868.01a7 7 0 1 0 14 0a7 7 0 1 0 -14 0zM1051.25 872.44a7 7 0 1 0 14 0a7 7 0 1 0 -14 0zM1052.31 890.5a7 7 0 1 0 14 0a7 7 0 1 0 -14 0zM1053.91 896.95a7 7 0 1 0 14 0a7 7 0 1 0 -14 0zM1055.5 907.5a7 7 0 1 0 14 0a7 7 0 1 0 -14 0zM1057.09 910.34a7 7 0 1 0 14 0a7 7 0 1 0 -14 0zM1058.69 909.62a7 7 0 1 0 14 0a7 7 0 1 0 -14 0zM1060.81 897.89a7 7 0 1 0 14 0a7 7 0 1 0 -14 0zM1062.94 890.5a7 7 0 1 0 14 0a7 7 0 1 0 -14 0zM1064.53 901.83a7 7 0 1 0 14 0a7 7 0 1 0 -14 0zM1066.12 911.75a7 7 0 1 0 14 0a7 7 0 1 0 -14 0zM1067.72 919.07a7 7 0 1 0 14 0a7 7 0 1 0 -14 0zM1069.31 930.87a7 7 0 1 0 14 0a7 7 0 1 0 -14 0zM1070.9 920.44a7 7 0 1 0 14 0a7 7 0 1 0 -14 0zM1072.5 916a7 7 0 1 0 14 0a7 7 0 1 0 -14 0zM1074.09 911.32a7 7 0 1 0 14 0a7 7 0 1 0 -14 0zM1075.69 902.18a7 7 0 1 0 14 0a7 7 0 1 0 -14 0zM1077.81 921.31a7 7 0 1 0 14 0a7 7 0 1 0 -14 0zM1079.51 951.06a7 7 0 1 0 14 0a7 7 0 1 0 -14 0zM1082.06 989.31a7 7 0 1 0 14 0a7 7 0 1 0 -14 0zM1083.65 977.47a7 7 0 1 0 14 0a7 7 0 1 0 -14 0zM1085.25 969.12a7 7 0 1 0 14 0a7 7 0 1 0 -14 0zM1086.84 970.6a7 7 0 1 0 14 0a7 7 0 1 0 -14 0zM1088.44 975.5a7 7 0 1 0 14 0a7 7 0 1 0 -14 0zM1090.03 991.14a7 7 0 1 0 14 0a7 7 0 1 0 -14 0zM1091.62 1000.99a7 7 0 1 0 14 0a7 7 0 1 0 -14 0zM1093.22 997.92a7 7 0 1 0 14 0a7 7 0 1 0 -14 0zM1094.81 990.37a7 7 0 1 0 14 0a7 7 0 1 0 -14 0zM1096.4 986.98a7 7 0 1 0 14 0a7 7 0 1 0 -14 0zM1098 986.12a7 7 0 1 0 14 0a7 7 0 1 0 -14 0zM1100.12 985.7a7 7 0 1 0 14 0a7 7 0 1 0 -14 0zM1102.25 979.75a7 7 0 1 0 14 0a7 7 0 1 0 -14 0zM1104.05 970.95a7 7 0 1 0 14 0a7 7 0 1 0 -14 0zM1105.86 961.68a7 7 0 1 0 14 0a7 7 0 1 0 -14 0zM1108.62 992.49a7 7 0 1 0 14 0a7 7 0 1 0 -14 0zM1110.75 1008.43a7 7 0 1 0 14 0a7 7 0 1 0 -14 0zM1112.87 1022.24a7 7 0 1 0 14 0a7 7 0 1 0 -14 0zM1115 1028.62a7 7 0 1 0 14 0a7 7 0 1 0 -14 0zM1117.12 1032.87a7 7 0 1 0 14 0a7 7 0 1 0 -14 0zM1118.72 1026.85a7 7 0 1 0 14 0a7 7 0 1 0 -14 0zM1120.31 1024.37a7 7 0 1 0 14 0a7 7 0 1 0 -14 0zM1121.8 1042.43a7 7 0 1 0 14 0a7 7 0 1 0 -14 0zM1124.56 1024.37a7 7 0 1 0 14 0a7 7 0 1 0 -14 0zM1125.62 979.75a7 7 0 1 0 14 0a7 7 0 1 0 -14 0zM1127.75 984.52a7 7 0 1 0 14 0a7 7 0 1 0 -14 0zM1129.87 983.99a7 7 0 1 0 14 0a7 7 0 1 0 -14 0zM1131.47 986.2a7 7 0 1 0 14 0a7 7 0 1 0 -14 0zM1133.06 986.12a7 7 0 1 0 14 0a7 7 0 1 0 -14 0zM1134.65 982.54a7 7 0 1 0 14 0a7 7 0 1 0 -14 0zM1136.25 973.37a7 7 0 1 0 14 0a7 7 0 1 0 -14 0zM1137.84 985.29a7 7 0 1 0 14 0a7 7 0 1 0 -14 0zM1139.43 992.49a7 7 0 1 0 14 0a7 7 0 1 0 -14 0zM1141.03 992.35a7 7 0 1 0 14 0a7 7 0 1 0 -14 0zM1142.62 994.62a7 7 0 1 0 14 0a7 7 0 1 0 -14 0zM1144.22 986.35a7 7 0 1 0 14 0a7 7 0 1 0 -14 0zM1145.81 979.75a7 7 0 1 0 14 0a7 7 0 1 0 -14 0zM1147.4 978.27a7 7 0 1 0 14 0a7 7 0 1 0 -14 0zM1149 980.81a7 7 0 1 0 14 0a7 7 0 1 0 -14 0zM1150.59 968.06a7 7 0 1 0 14 0a7 7 0 1 0 -14 0zM1152.18 959.56a7 7 0 1 0 14 0a7 7 0 1 0 -14 0zM1153.78 962.79a7 7 0 1 0 14 0a7 7 0 1 0 -14 0zM1155.37 971.25a7 7 0 1 0 14 0a7 7 0 1 0 -14 0zM1156.97 976.43a7 7 0 1 0 14 0a7 7 0 1 0 -14 0zM1158.56 983.99a7 7 0 1 0 14 0a7 7 0 1 0 -14 0zM1161.32 997.81a7 7 0 1 0 14 0a7 7 0 1 0 -14 0zM1163.87 973.37a7 7 0 1 0 14 0a7 7 0 1 0 -14 0zM1165.46 972.93a7 7 0 1 0 14 0a7 7 0 1 0 -14 0zM1167.06 971.25a7 7 0 1 0 14 0a7 7 0 1 0 -14 0zM1168.65 959.77a7 7 0 1 0 14 0a7 7 0 1 0 -14 0zM1170.25 954.25a7 7 0 1 0 14 0a7 7 0 1 0 -14 0zM1171.84 956.38a7 7 0 1 0 14 0a7 7 0 1 0 -14 0zM1173.43 956.37a7 7 0 1 0 14 0a7 7 0 1 0 -14 0zM1175.56 943.62a7 7 0 1 0 14 0a7 7 0 1 0 -14 0zM1176.62 895.81a7 7 0 1 0 14 0a7 7 0 1 0 -14 0zM1178.75 877.84a7 7 0 1 0 14 0a7 7 0 1 0 -14 0zM1180.87 861.81a7 7 0 1 0 14 0a7 7 0 1 0 -14 0zM1181.5 862.24a7 7 0 1 0 14 0a7 7 0 1 0 -14 0zM1183.09 874.92a7 7 0 1 0 14 0a7 7 0 1 0 -14 0zM1184.69 889.87a7 7 0 1 0 14 0a7 7 0 1 0 -14 0zM1186.28 881.15a7 7 0 1 0 14 0a7 7 0 1 0 -14 0zM1187.87 868.62a7 7 0 1 0 14 0a7 7 0 1 0 -14 0zM1189.79 851.5a7 7 0 1 0 14 0a7 7 0 1 0 -14 0zM1191.7 834.62a7 7 0 1 0 14 0a7 7 0 1 0 -14 0zM1193.51 837.76a7 7 0 1 0 14 0a7 7 0 1 0 -14 0zM1195.31 843.12a7 7 0 1 0 14 0a7 7 0 1 0 -14 0zM1196.91 841.94a7 7 0 1 0 14 0a7 7 0 1 0 -14 0zM1198.5 840.99a7 7 0 1 0 14 0a7 7 0 1 0 -14 0zM1200.62 853.74a7 7 0 1 0 14 0a7 7 0 1 0 -14 0zM1202.22 861.35a7 7 0 1 0 14 0a7 7 0 1 0 -14 0zM1203.81 866.49a7 7 0 1 0 14 0a7 7 0 1 0 -14 0zM1205.41 872.87a7 7 0 1 0 14 0a7 7 0 1 0 -14 0zM1207 884.56a7 7 0 1 0 14 0a7 7 0 1 0 -14 0zM1209.12 886.88a7 7 0 1 0 14 0a7 7 0 1 0 -14 0zM1211.25 883.49a7 7 0 1 0 14 0a7 7 0 1 0 -14 0zM1212.84 872.13a7 7 0 1 0 14 0a7 7 0 1 0 -14 0zM1214.44 866.49a7 7 0 1 0 14 0a7 7 0 1 0 -14 0zM1216.03 867.99a7 7 0 1 0 14 0a7 7 0 1 0 -14 0zM1217.62 866.49a7 7 0 1 0 14 0a7 7 0 1 0 -14 0zM1219.22 862.72a7 7 0 1 0 14 0a7 7 0 1 0 -14 0zM1220.81 854.81a7 7 0 1 0 14 0a7 7 0 1 0 -14 0zM1222.94 833.56a7 7 0 1 0 14 0a7 7 0 1 0 -14 0zM1225.06 804.87a7 7 0 1 0 14 0a7 7 0 1 0 -14 0zM1226.65 799.32a7 7 0 1 0 14 0a7 7 0 1 0 -14 0zM1228.25 799.56a7 7 0 1 0 14 0a7 7 0 1 0 -14 0zM1229.84 818.82a7 7 0 1 0 14 0a7 7 0 1 0 -14 0zM1231.44 834.62a7 7 0 1 0 14 0a7 7 0 1 0 -14 0zM1233.03 816.82a7 7 0 1 0 14 0a7 7 0 1 0 -14 0zM1234.62 800.62a7 7 0 1 0 14 0a7 7 0 1 0 -14 0zM1236.22 788.34a7 7 0 1 0 14 0a7 7 0 1 0 -14 0zM1237.81 775.12a7 7 0 1 0 14 0a7 7 0 1 0 -14 0zM1239.4 781.74a7 7 0 1 0 14 0a7 7 0 1 0 -14 0zM1241 794.25a7 7 0 1 0 14 0a7 7 0 1 0 -14 0zM1243.12 851.62a7 7 0 1 0 14 0a7 7 0 1 0 -14 0zM1244.72 851.02a7 7 0 1 0 14 0a7 7 0 1 0 -14 0zM1246.31 855.87a7 7 0 1 0 14 0a7 7 0 1 0 -14 0zM1247.9 843.33a7 7 0 1 0 14 0a7 7 0 1 0 -14 0zM1249.5 834.62a7 7 0 1 0 14 0a7 7 0 1 0 -14 0zM1251.62 811.25a7 7 0 1 0 14 0a7 7 0 1 0 -14 0zM1253.22 825.66a7 7 0 1 0 14 0a7 7 0 1 0 -14 0zM1254.81 834.62a7 7 0 1 0 14 0a7 7 0 1 0 -14 0zM1256.94 811.25a7 7 0 1 0 14 0a7 7 0 1 0 -14 0zM1259.06 792.12a7 7 0 1 0 14 0a7 7 0 1 0 -14 0zM1260.65 779.68a7 7 0 1 0 14 0a7 7 0 1 0 -14 0zM1262.25 770.87a7 7 0 1 0 14 0a7 7 0 1 0 -14 0zM1263.84 775.59a7 7 0 1 0 14 0a7 7 0 1 0 -14 0zM1265.44 777.25a7 7 0 1 0 14 0a7 7 0 1 0 -14 0zM1267.56 773.45a7 7 0 1 0 14 0a7 7 0 1 0 -14 0zM1269.69 764.5a7 7 0 1 0 14 0a7 7 0 1 0 -14 0zM1271.81 754.3a7 7 0 1 0 14 0a7 7 0 1 0 -14 0zM1273.4 764.17a7 7 0 1 0 14 0a7 7 0 1 0 -14 0zM1275 768.75a7 7 0 1 0 14 0a7 7 0 1 0 -14 0zM1276.59 773.12a7 7 0 1 0 14 0a7 7 0 1 0 -14 0zM1278.18 779.37a7 7 0 1 0 14 0a7 7 0 1 0 -14 0zM1279.78 782.75a7 7 0 1 0 14 0a7 7 0 1 0 -14 0zM1281.37 787.87a7 7 0 1 0 14 0a7 7 0 1 0 -14 0zM1283.5 802.75a7 7 0 1 0 14 0a7 7 0 1 0 -14 0zM1285.09 799.71a7 7 0 1 0 14 0a7 7 0 1 0 -14 0zM1286.68 796.37a7 7 0 1 0 14 0a7 7 0 1 0 -14 0zM1288.81 784.68a7 7 0 1 0 14 0a7 7 0 1 0 -14 0zM1290.93 792.12a7 7 0 1 0 14 0a7 7 0 1 0 -14 0zM1293.06 820.81a7 7 0 1 0 14 0a7 7 0 1 0 -14 0zM1295.18 850.56a7 7 0 1 0 14 0a7 7 0 1 0 -14 0zM1296.78 841.59a7 7 0 1 0 14 0a7 7 0 1 0 -14 0zM1298.37 829.31a7 7 0 1 0 14 0a7 7 0 1 0 -14 0zM1300.5 827.49a7 7 0 1 0 14 0a7 7 0 1 0 -14 0zM1302.62 830.37a7 7 0 1 0 14 0a7 7 0 1 0 -14 0zM1304.39 832.57a7 7 0 1 0 14 0a7 7 0 1 0 -14 0zM1306.16 833.57a7 7 0 1 0 14 0a7 7 0 1 0 -14 0zM1307.93 832.49a7 7 0 1 0 14 0a7 7 0 1 0 -14 0zM1309.7 835.01a7 7 0 1 0 14 0a7 7 0 1 0 -14 0zM1311.48 830.42a7 7 0 1 0 14 0a7 7 0 1 0 -14 0zM1313.25 833.56a7 7 0 1 0 14 0a7 7 0 1 0 -14 0zM1315.02 837.65a7 7 0 1 0 14 0a7 7 0 1 0 -14 0zM1316.79 833.94a7 7 0 1 0 14 0a7 7 0 1 0 -14 0zM1318.56 837.81a7 7 0 1 0 14 0a7 7 0 1 0 -14 0zM1320.68 867.56a7 7 0 1 0 14 0a7 7 0 1 0 -14 0zM1322.81 875.63a7 7 0 1 0 14 0a7 7 0 1 0 -14 0zM1324.93 885.62a7 7 0 1 0 14 0a7 7 0 1 0 -14 0zM1326.53 878.85a7 7 0 1 0 14 0a7 7 0 1 0 -14 0zM1328.12 870.74a7 7 0 1 0 14 0a7 7 0 1 0 -14 0zM1329.71 870.06a7 7 0 1 0 14 0a7 7 0 1 0 -14 0zM1331.31 864.37a7 7 0 1 0 14 0a7 7 0 1 0 -14 0zM1333.43 860.12a7 7 0 1 0 14 0a7 7 0 1 0 -14 0zM1335.03 847.47a7 7 0 1 0 14 0a7 7 0 1 0 -14 0zM1336.62 836.74a7 7 0 1 0 14 0a7 7 0 1 0 -14 0zM1338.21 836.1a7 7 0 1 0 14 0a7 7 0 1 0 -14 0zM1339.81 830.37a7 7 0 1 0 14 0a7 7 0 1 0 -14 0zM1341.93 847.37a7 7 0 1 0 14 0a7 7 0 1 0 -14 0zM1343.53 863.58a7 7 0 1 0 14 0a7 7 0 1 0 -14 0zM1345.12 879.24a7 7 0 1 0 14 0a7 7 0 1 0 -14 0zM1346.71 882.37a7 7 0 1 0 14 0a7 7 0 1 0 -14 0zM1348.31 887.74a7 7 0 1 0 14 0a7 7 0 1 0 -14 0zM1350.63 890.75a7 7 0 1 0 14 0a7 7 0 1 0 -14 0zM1352.81 887.9a7 7 0 1 0 14 0a7 7 0 1 0 -14 0zM1355 887.25a7 7 0 1 0 14 0a7 7 0 1 0 -14 0zM1356.75 910a7 7 0 1 0 14 0a7 7 0 1 0 -14 0zM1357.63 927.5a7 7 0 1 0 14 0a7 7 0 1 0 -14 0zM1360.25 954.63a7 7 0 1 0 14 0a7 7 0 1 0 -14 0zM1362 949.63a7 7 0 1 0 14 0a7 7 0 1 0 -14 0zM1363.75 948.51a7 7 0 1 0 14 0a7 7 0 1 0 -14 0zM1365.5 943.35a7 7 0 1 0 14 0a7 7 0 1 0 -14 0zM1367.25 943.26a7 7 0 1 0 14 0a7 7 0 1 0 -14 0zM1369 939.4a7 7 0 1 0 14 0a7 7 0 1 0 -14 0zM1370.75 939.75a7 7 0 1 0 14 0a7 7 0 1 0 -14 0zM1372.5 947.89a7 7 0 1 0 14 0a7 7 0 1 0 -14 0zM1374.25 953.76a7 7 0 1 0 14 0a7 7 0 1 0 -14 0zM1376.35 966.88a7 7 0 1 0 14 0a7 7 0 1 0 -14 0zM1377.93 959.8a7 7 0 1 0 14 0a7 7 0 1 0 -14 0zM1379.5 946.76a7 7 0 1 0 14 0a7 7 0 1 0 -14 0zM1381.25 949.1a7 7 0 1 0 14 0a7 7 0 1 0 -14 0zM1383 955.51a7 7 0 1 0 14 0a7 7 0 1 0 -14 0zM1385.63 983.51a7 7 0 1 0 14 0a7 7 0 1 0 -14 0zM1387.38 997.51a7 7 0 1 0 14 0a7 7 0 1 0 -14 0zM1389.13 986.05a7 7 0 1 0 14 0a7 7 0 1 0 -14 0zM1390.88 980.01a7 7 0 1 0 14 0a7 7 0 1 0 -14 0zM1393.5 973.01a7 7 0 1 0 14 0a7 7 0 1 0 -14 0zM1396.13 980.01a7 7 0 1 0 14 0a7 7 0 1 0 -14 0zM1398.75 985.26a7 7 0 1 0 14 0a7 7 0 1 0 -14 0zM1400.5 989.93a7 7 0 1 0 14 0a7 7 0 1 0 -14 0zM1402.25 988.76a7 7 0 1 0 14 0a7 7 0 1 0 -14 0zM1404.88 1025.51a7 7 0 1 0 14 0a7 7 0 1 0 -14 0zM1407.5 1022.01a7 7 0 1 0 14 0a7 7 0 1 0 -14 0zM1410.13 1016.76a7 7 0 1 0 14 0a7 7 0 1 0 -14 0zM1412.75 994.01a7 7 0 1 0 14 0a7 7 0 1 0 -14 0zM1414.51 948.51a7 7 0 1 0 14 0a7 7 0 1 0 -14 0zM1417.13 945.01a7 7 0 1 0 14 0a7 7 0 1 0 -14 0zM1419.76 962.51a7 7 0 1 0 14 0a7 7 0 1 0 -14 0zM1422.38 971.26a7 7 0 1 0 14 0a7 7 0 1 0 -14 0zM1425.01 973.01a7 7 0 1 0 14 0a7 7 0 1 0 -14 0zM1427.63 985.26a7 7 0 1 0 14 0a7 7 0 1 0 -14 0zM1430.26 1001.01a7 7 0 1 0 14 0a7 7 0 1 0 -14 0zM1432.01 1002.08a7 7 0 1 0 14 0a7 7 0 1 0 -14 0zM1433.76 1002.76a7 7 0 1 0 14 0a7 7 0 1 0 -14 0zM1436.38 980.01a7 7 0 1 0 14 0a7 7 0 1 0 -14 0zM1439.01 966.01a7 7 0 1 0 14 0a7 7 0 1 0 -14 0zM1441.63 992.26a7 7 0 1 0 14 0a7 7 0 1 0 -14 0zM1444.26 1013.26a7 7 0 1 0 14 0a7 7 0 1 0 -14 0zM1446.36 1036.01a7 7 0 1 0 14 0a7 7 0 1 0 -14 0zM1448.63 1016.76a7 7 0 1 0 14 0a7 7 0 1 0 -14 0zM1451.26 1009.76a7 7 0 1 0 14 0a7 7 0 1 0 -14 0zM1453.88 994.01a7 7 0 1 0 14 0a7 7 0 1 0 -14 0zM1456.51 980.01a7 7 0 1 0 14 0a7 7 0 1 0 -14 0zM1458.26 957.26a7 7 0 1 0 14 0a7 7 0 1 0 -14 0zM1460.01 948.51a7 7 0 1 0 14 0a7 7 0 1 0 -14 0zM1461.76 934.5a7 7 0 1 0 14 0a7 7 0 1 0 -14 0zM1463.51 942.69a7 7 0 1 0 14 0a7 7 0 1 0 -14 0zM1465.26 952.01a7 7 0 1 0 14 0a7 7 0 1 0 -14 0zM1467.01 955.68a7 7 0 1 0 14 0a7 7 0 1 0 -14 0zM1468.76 962.51a7 7 0 1 0 14 0a7 7 0 1 0 -14 0zM1470.51 967.45a7 7 0 1 0 14 0a7 7 0 1 0 -14 0zM1472.26 971.26a7 7 0 1 0 14 0a7 7 0 1 0 -14 0zM1474.88 980.01a7 7 0 1 0 14 0a7 7 0 1 0 -14 0zM1476.63 990.51a7 7 0 1 0 14 0a7 7 0 1 0 -14 0zM1479.26 962.51a7 7 0 1 0 14 0a7 7 0 1 0 -14 0zM1481.88 960.76a7 7 0 1 0 14 0a7 7 0 1 0 -14 0zM1482.76 936.25a7 7 0 1 0 14 0a7 7 0 1 0 -14 0zM1485.38 945.01a7 7 0 1 0 14 0a7 7 0 1 0 -14 0zM1488.01 929.25a7 7 0 1 0 14 0a7 7 0 1 0 -14 0zM1490.63 920.5a7 7 0 1 0 14 0a7 7 0 1 0 -14 0zM1493.26 945.01a7 7 0 1 0 14 0a7 7 0 1 0 -14 0zM1495.01 945.21a7 7 0 1 0 14 0a7 7 0 1 0 -14 0zM1496.76 941.51a7 7 0 1 0 14 0a7 7 0 1 0 -14 0zM1499.38 945.01a7 7 0 1 0 14 0a7 7 0 1 0 -14 0zM1502.01 925.75a7 7 0 1 0 14 0a7 7 0 1 0 -14 0zM1503.76 902.13a7 7 0 1 0 14 0a7 7 0 1 0 -14 0zM1505.51 887.25a7 7 0 1 0 14 0a7 7 0 1 0 -14 0zM1508.13 875a7 7 0 1 0 14 0a7 7 0 1 0 -14 0zM1510.76 862.75a7 7 0 1 0 14 0a7 7 0 1 0 -14 0zM1513.39 854a7 7 0 1 0 14 0a7 7 0 1 0 -14 0zM1516.01 876.75a7 7 0 1 0 14 0a7 7 0 1 0 -14 0zM1518.64 859.25a7 7 0 1 0 14 0a7 7 0 1 0 -14 0zM1520.39 840a7 7 0 1 0 14 0a7 7 0 1 0 -14 0zM1521.54 803.36a7 7 0 1 0 14 0a7 7 0 1 0 -14 0zM1523.42 779.5a7 7 0 1 0 14 0a7 7 0 1 0 -14 0zM1525.52 777.56a7 7 0 1 0 14 0a7 7 0 1 0 -14 0zM1527.61 775.68a7 7 0 1 0 14 0a7 7 0 1 0 -14 0zM1529.7 774.47a7 7 0 1 0 14 0a7 7 0 1 0 -14 0zM1532.22 750.61a7 7 0 1 0 14 0a7 7 0 1 0 -14 0zM1534.73 736.8a7 7 0 1 0 14 0a7 7 0 1 0 -14 0zM1536.82 735.39a7 7 0 1 0 14 0a7 7 0 1 0 -14 0zM1538.91 741.81a7 7 0 1 0 14 0a7 7 0 1 0 -14 0zM1541.01 740.57a7 7 0 1 0 14 0a7 7 0 1 0 -14 0zM1542.68 740.27a7 7 0 1 0 14 0a7 7 0 1 0 -14 0zM1544.36 745.55a7 7 0 1 0 14 0a7 7 0 1 0 -14 0zM1546.03 748.1a7 7 0 1 0 14 0a7 7 0 1 0 -14 0zM1548.23 757.67a7 7 0 1 0 14 0a7 7 0 1 0 -14 0zM1550.43 763.17a7 7 0 1 0 14 0a7 7 0 1 0 -14 0zM1552 758.44a7 7 0 1 0 14 0a7 7 0 1 0 -14 0zM1553.57 758.15a7 7 0 1 0 14 0a7 7 0 1 0 -14 0zM1555.45 739.31a7 7 0 1 0 14 0a7 7 0 1 0 -14 0zM1557.33 719.22a7 7 0 1 0 14 0a7 7 0 1 0 -14 0zM1559.84 716.7a7 7 0 1 0 14 0a7 7 0 1 0 -14 0zM1561.73 714.95a7 7 0 1 0 14 0a7 7 0 1 0 -14 0zM1563.61 710.42a7 7 0 1 0 14 0a7 7 0 1 0 -14 0zM1565.5 681.54a7 7 0 1 0 14 0a7 7 0 1 0 -14 0zM1568.01 656.42a7 7 0 1 0 14 0a7 7 0 1 0 -14 0zM1569.89 661.44a7 7 0 1 0 14 0a7 7 0 1 0 -14 0zM1572.4 651.4a7 7 0 1 0 14 0a7 7 0 1 0 -14 0zM1574.92 648.89a7 7 0 1 0 14 0a7 7 0 1 0 -14 0z" fill="#2f7cc6" /></g>
<line x1="1581.9" y1="648.9" x2="1581.9" y2="636.5" stroke="#2f7cc6" stroke-width="3.4" />
<path d="M946.2 1069h10.8M946.2 926.2h10.8M946.2 783.4h10.8M946.2 640.6h10.8" stroke="#4a4a4a" stroke-width="1.3" fill="none"/>
<path d="M946.2 997.6h5.8M946.2 854.8h5.8M946.2 712h5.8" stroke="#4a4a4a" stroke-width="1.3" fill="none"/>
<path d="M1010.4 1141v-10.6M1140.6 1141v-10.6M1270.8 1141v-10.6M1401 1141v-10.6M1531.2 1141v-10.6" stroke="#4a4a4a" stroke-width="1.3" fill="none"/>
<path d="M1075.5 1141v-5.8M1205.7 1141v-5.8M1335.9 1141v-5.8M1466.1 1141v-5.8" stroke="#4a4a4a" stroke-width="1.3" fill="none"/>
<rect x="946.2" y="626.3" width="650" height="514.7" fill="none" stroke="#666666" stroke-width="1.5" />
<text font-size="24.6" x="875.43" y="1077.9" >6180</text>
<text font-size="24.6" x="875.43" y="935.1" >6190</text>
<text font-size="24.6" x="875.43" y="792.3" >6200</text>
<text font-size="24.6" x="875.43" y="649.5" >6210</text>
<text font-size="24.6" x="982.09" y="1172.3" >–0.2</text>
<text font-size="24.6" x="1112.23" y="1172.3" >–0.1</text>
<text font-size="24.6" x="1253.64" y="1172.3" >0.0</text>
<text font-size="24.6" x="1385.46" y="1172.3" >0.1</text>
<text font-size="24.6" x="1515.73" y="1172.3" >0.2</text>
<text font-size="25.86" textLength="57.45" lengthAdjust="spacingAndGlyphs" x="1232.22" y="1220" ><tspan font-style="italic">B</tspan> (T)</text>
<text font-size="26.48" textLength="63.92" lengthAdjust="spacingAndGlyphs" transform="translate(836.6 896.4) rotate(-90)" x="-0.79" y="0" ><tspan font-style="italic">R</tspan> (Ω)</text>
<text font-size="22.03" textLength="89.99" lengthAdjust="spacingAndGlyphs" x="1496.92" y="1072.3" ><tspan font-style="italic">T</tspan> = 1.6 K</text>
<text font-size="22.46" x="1354.4" y="1101.8" >Pristine graphene (1–2)</text></g>
<g id="pf"><text font-size="68" textLength="21.28" lengthAdjust="spacingAndGlyphs" x="10.15" y="1326.4" stroke="#000" stroke-width="0.3" stroke-linejoin="round">f</text>
<g ><polyline points="121.25,1409.43 123.37,1409.44 125.5,1409.46 127.62,1412.62 130.6,1401.31 133.57,1388.19 135.38,1414.84 137.19,1446.62 140.37,1463.62 143.56,1474.25 146.01,1453.74 148.45,1432.81 150.25,1452.19 152.06,1473.18 154.82,1497.62 156.63,1496.03 158.44,1499.75 161.09,1491.29 163.75,1482.75 165.66,1500.16 167.57,1523.12 169.38,1509.97 171.19,1497.62 174.37,1462.56 177.56,1427.5 179.69,1423.85 181.81,1425.37 185,1427.5 188.19,1442.37 191.37,1438.12 194.56,1440.25 197.75,1433.87 200.93,1442.37 204.12,1449.81 207.31,1427.5 209.75,1413.89 212.2,1405.18 214,1420.14 215.81,1436 217.62,1445.93 219.42,1451.93 221.33,1436.4 223.25,1425.37 225.37,1426.9 227.5,1431.75 230.68,1472.12 233.34,1473.42 236,1473.18 239.18,1472.12 240.67,1516.74 243.12,1527.4 245.56,1532.68 248.75,1495.5 250.87,1493.3 253,1490.18 256.18,1495.5 259.37,1478.5 261.71,1474.16 264.05,1471.06 265.96,1498.88 267.87,1520.99 269.87,1528.4 271.87,1541.25 275.06,1554 278.25,1571 280.37,1588.02 282.5,1600.75 284.62,1585.14 286.75,1572.06 288.87,1572.05 291,1576.31 294.19,1598.62 296.31,1610.14 298.44,1626.25 300.56,1616.6 302.69,1609.25 304.81,1649.62 307.25,1662.14 309.7,1670.87 312.25,1715.5 314.37,1716.77 316.5,1721.87 318.41,1744.67 320.32,1766.49 322.13,1750.33 323.94,1732.49 326.06,1729.6 328.19,1728.24 330.31,1731.72 332.44,1734.62 334.56,1772.87 337.22,1767.06 339.87,1766.49 342,1777.12 344.65,1776.07 347.31,1780.31 349.43,1748.43 351.88,1726.48 354.32,1708.06 356.13,1718.17 357.93,1726.12 361.12,1745.24 364.31,1755.87 367.5,1772.87 370.15,1780.4 372.81,1788.81 376,1749.49 378.12,1751.57 380.25,1755.87 382.37,1758.51 384.5,1760.12 386.62,1764.09 388.75,1768.62 391.3,1734.62 393.21,1749.36 395.12,1766.49 397.25,1766.14 399.37,1762.24 401.92,1730.37 404.58,1711.38 407.23,1690 410,1715.5 412.12,1717.15 414.25,1721.87 416.37,1720.19 418.5,1717.62 420.62,1720.96 422.75,1723.99 425.3,1742.06 427.21,1733.15 429.12,1719.75 432.31,1715.5 434.11,1713.15 435.92,1708.06 437.83,1720.6 439.75,1735.68 442.93,1745.24 445.06,1760.34 447.18,1769.68 450.37,1732.49 452.49,1721.7 454.62,1715.5 456.74,1718.19 458.87,1721.87 460.99,1722.35 463.12,1719.75 465.03,1705.44 466.94,1695.31 469.28,1709.59 471.62,1723.99 473.74,1785.62 476.4,1782.85 479.06,1785.62 482.24,1749.49 484.37,1749.97 486.49,1748.43 489.68,1754.81 491.81,1723.99 494.46,1728.77 497.12,1730.37 500.31,1715.5 502.43,1713.81 504.56,1711.25 506.36,1702.87 508.17,1690 510.08,1697.38 511.99,1707 514.12,1707.1 516.24,1704.87 519.43,1700.62 521.56,1707.56 523.68,1713.37 526.87,1754.81 529.35,1756.35 531.83,1756.67 534.31,1757.99 537.49,1732.49 540.68,1695.31 542.8,1676.1 544.93,1652.81 548.12,1681.5 550.24,1676.73 552.37,1666.62 555.55,1636.87 557.68,1626.09 559.8,1615.62 562.99,1632.62 565.12,1628.83 567.24,1623.06 570.43,1594.37 573.87,1578.37 576,1572.54 578.12,1573.2 580.25,1569.69 582.37,1565.62 584.5,1555.3 586.62,1539.06 589.28,1542.58 591.93,1542.24 594.06,1548.62 596.18,1482.75 598.84,1479.33 601.5,1478.5 603.62,1501.87 605.75,1514.62 608.93,1501.87 611.06,1463.62 613.71,1460.81 616.37,1459.37 619.56,1463.62 621.68,1436 624.87,1431.75 628.06,1459.37 631.25,1438.12 633.37,1457.25 635.5,1453 638.68,1417.93 641.87,1438.12 645.06,1442.37 648.24,1463.62 651.43,1461.5 654.62,1480.62 657.81,1482.75 659.93,1411.56 662.06,1407.79 664.18,1402 667.37,1440.25 669.49,1459.69 671.62,1484.87 673.74,1446.62 676.93,1444.5 680.12,1442.37 683.31,1461.5 685.43,1464.45 687.56,1467.87 690.74,1423.25 693.93,1425.37 697.12,1467.87 699.77,1469.07 702.43,1474.25 705.62,1465.75 707.74,1464.51 709.87,1467.87 711.99,1464.16 714.12,1465.75 716.67,1426.43 718.58,1437.07 720.49,1444.5 722.62,1442.27 724.74,1444.5 726.87,1439.79 728.99,1438.12 730.91,1415.69 732.82,1394.56 734.62,1418.57 736.43,1438.12 739.62,1442.37 742.8,1448.75 745.99,1458.31 749.18,1459.37" fill="none" stroke="#df5322" stroke-width="3.6" stroke-linejoin="round" /><path d="M114.25 1409.43a7 7 0 1 0 14 0a7 7 0 1 0 -14 0zM116.37 1409.44a7 7 0 1 0 14 0a7 7 0 1 0 -14 0zM118.5 1409.46a7 7 0 1 0 14 0a7 7 0 1 0 -14 0zM120.62 1412.62a7 7 0 1 0 14 0a7 7 0 1 0 -14 0zM123.6 1401.31a7 7 0 1 0 14 0a7 7 0 1 0 -14 0zM126.57 1388.19a7 7 0 1 0 14 0a7 7 0 1 0 -14 0zM128.38 1414.84a7 7 0 1 0 14 0a7 7 0 1 0 -14 0zM130.19 1446.62a7 7 0 1 0 14 0a7 7 0 1 0 -14 0zM133.37 1463.62a7 7 0 1 0 14 0a7 7 0 1 0 -14 0zM136.56 1474.25a7 7 0 1 0 14 0a7 7 0 1 0 -14 0zM139.01 1453.74a7 7 0 1 0 14 0a7 7 0 1 0 -14 0zM141.45 1432.81a7 7 0 1 0 14 0a7 7 0 1 0 -14 0zM143.25 1452.19a7 7 0 1 0 14 0a7 7 0 1 0 -14 0zM145.06 1473.18a7 7 0 1 0 14 0a7 7 0 1 0 -14 0zM147.82 1497.62a7 7 0 1 0 14 0a7 7 0 1 0 -14 0zM149.63 1496.03a7 7 0 1 0 14 0a7 7 0 1 0 -14 0zM151.44 1499.75a7 7 0 1 0 14 0a7 7 0 1 0 -14 0zM154.09 1491.29a7 7 0 1 0 14 0a7 7 0 1 0 -14 0zM156.75 1482.75a7 7 0 1 0 14 0a7 7 0 1 0 -14 0zM158.66 1500.16a7 7 0 1 0 14 0a7 7 0 1 0 -14 0zM160.57 1523.12a7 7 0 1 0 14 0a7 7 0 1 0 -14 0zM162.38 1509.97a7 7 0 1 0 14 0a7 7 0 1 0 -14 0zM164.19 1497.62a7 7 0 1 0 14 0a7 7 0 1 0 -14 0zM167.37 1462.56a7 7 0 1 0 14 0a7 7 0 1 0 -14 0zM170.56 1427.5a7 7 0 1 0 14 0a7 7 0 1 0 -14 0zM172.69 1423.85a7 7 0 1 0 14 0a7 7 0 1 0 -14 0zM174.81 1425.37a7 7 0 1 0 14 0a7 7 0 1 0 -14 0zM178 1427.5a7 7 0 1 0 14 0a7 7 0 1 0 -14 0zM181.19 1442.37a7 7 0 1 0 14 0a7 7 0 1 0 -14 0zM184.37 1438.12a7 7 0 1 0 14 0a7 7 0 1 0 -14 0zM187.56 1440.25a7 7 0 1 0 14 0a7 7 0 1 0 -14 0zM190.75 1433.87a7 7 0 1 0 14 0a7 7 0 1 0 -14 0zM193.93 1442.37a7 7 0 1 0 14 0a7 7 0 1 0 -14 0zM197.12 1449.81a7 7 0 1 0 14 0a7 7 0 1 0 -14 0zM200.31 1427.5a7 7 0 1 0 14 0a7 7 0 1 0 -14 0zM202.75 1413.89a7 7 0 1 0 14 0a7 7 0 1 0 -14 0zM205.2 1405.18a7 7 0 1 0 14 0a7 7 0 1 0 -14 0zM207 1420.14a7 7 0 1 0 14 0a7 7 0 1 0 -14 0zM208.81 1436a7 7 0 1 0 14 0a7 7 0 1 0 -14 0zM210.62 1445.93a7 7 0 1 0 14 0a7 7 0 1 0 -14 0zM212.42 1451.93a7 7 0 1 0 14 0a7 7 0 1 0 -14 0zM214.33 1436.4a7 7 0 1 0 14 0a7 7 0 1 0 -14 0zM216.25 1425.37a7 7 0 1 0 14 0a7 7 0 1 0 -14 0zM218.37 1426.9a7 7 0 1 0 14 0a7 7 0 1 0 -14 0zM220.5 1431.75a7 7 0 1 0 14 0a7 7 0 1 0 -14 0zM223.68 1472.12a7 7 0 1 0 14 0a7 7 0 1 0 -14 0zM226.34 1473.42a7 7 0 1 0 14 0a7 7 0 1 0 -14 0zM229 1473.18a7 7 0 1 0 14 0a7 7 0 1 0 -14 0zM232.18 1472.12a7 7 0 1 0 14 0a7 7 0 1 0 -14 0zM233.67 1516.74a7 7 0 1 0 14 0a7 7 0 1 0 -14 0zM236.12 1527.4a7 7 0 1 0 14 0a7 7 0 1 0 -14 0zM238.56 1532.68a7 7 0 1 0 14 0a7 7 0 1 0 -14 0zM241.75 1495.5a7 7 0 1 0 14 0a7 7 0 1 0 -14 0zM243.87 1493.3a7 7 0 1 0 14 0a7 7 0 1 0 -14 0zM246 1490.18a7 7 0 1 0 14 0a7 7 0 1 0 -14 0zM249.18 1495.5a7 7 0 1 0 14 0a7 7 0 1 0 -14 0zM252.37 1478.5a7 7 0 1 0 14 0a7 7 0 1 0 -14 0zM254.71 1474.16a7 7 0 1 0 14 0a7 7 0 1 0 -14 0zM257.05 1471.06a7 7 0 1 0 14 0a7 7 0 1 0 -14 0zM258.96 1498.88a7 7 0 1 0 14 0a7 7 0 1 0 -14 0zM260.87 1520.99a7 7 0 1 0 14 0a7 7 0 1 0 -14 0zM262.87 1528.4a7 7 0 1 0 14 0a7 7 0 1 0 -14 0zM264.87 1541.25a7 7 0 1 0 14 0a7 7 0 1 0 -14 0zM268.06 1554a7 7 0 1 0 14 0a7 7 0 1 0 -14 0zM271.25 1571a7 7 0 1 0 14 0a7 7 0 1 0 -14 0zM273.37 1588.02a7 7 0 1 0 14 0a7 7 0 1 0 -14 0zM275.5 1600.75a7 7 0 1 0 14 0a7 7 0 1 0 -14 0zM277.62 1585.14a7 7 0 1 0 14 0a7 7 0 1 0 -14 0zM279.75 1572.06a7 7 0 1 0 14 0a7 7 0 1 0 -14 0zM281.87 1572.05a7 7 0 1 0 14 0a7 7 0 1 0 -14 0zM284 1576.31a7 7 0 1 0 14 0a7 7 0 1 0 -14 0zM287.19 1598.62a7 7 0 1 0 14 0a7 7 0 1 0 -14 0zM289.31 1610.14a7 7 0 1 0 14 0a7 7 0 1 0 -14 0zM291.44 1626.25a7 7 0 1 0 14 0a7 7 0 1 0 -14 0zM293.56 1616.6a7 7 0 1 0 14 0a7 7 0 1 0 -14 0zM295.69 1609.25a7 7 0 1 0 14 0a7 7 0 1 0 -14 0zM297.81 1649.62a7 7 0 1 0 14 0a7 7 0 1 0 -14 0zM300.25 1662.14a7 7 0 1 0 14 0a7 7 0 1 0 -14 0zM302.7 1670.87a7 7 0 1 0 14 0a7 7 0 1 0 -14 0zM305.25 1715.5a7 7 0 1 0 14 0a7 7 0 1 0 -14 0zM307.37 1716.77a7 7 0 1 0 14 0a7 7 0 1 0 -14 0zM309.5 1721.87a7 7 0 1 0 14 0a7 7 0 1 0 -14 0zM311.41 1744.67a7 7 0 1 0 14 0a7 7 0 1 0 -14 0zM313.32 1766.49a7 7 0 1 0 14 0a7 7 0 1 0 -14 0zM315.13 1750.33a7 7 0 1 0 14 0a7 7 0 1 0 -14 0zM316.94 1732.49a7 7 0 1 0 14 0a7 7 0 1 0 -14 0zM319.06 1729.6a7 7 0 1 0 14 0a7 7 0 1 0 -14 0zM321.19 1728.24a7 7 0 1 0 14 0a7 7 0 1 0 -14 0zM323.31 1731.72a7 7 0 1 0 14 0a7 7 0 1 0 -14 0zM325.44 1734.62a7 7 0 1 0 14 0a7 7 0 1 0 -14 0zM327.56 1772.87a7 7 0 1 0 14 0a7 7 0 1 0 -14 0zM330.22 1767.06a7 7 0 1 0 14 0a7 7 0 1 0 -14 0zM332.87 1766.49a7 7 0 1 0 14 0a7 7 0 1 0 -14 0zM335 1777.12a7 7 0 1 0 14 0a7 7 0 1 0 -14 0zM337.65 1776.07a7 7 0 1 0 14 0a7 7 0 1 0 -14 0zM340.31 1780.31a7 7 0 1 0 14 0a7 7 0 1 0 -14 0zM342.43 1748.43a7 7 0 1 0 14 0a7 7 0 1 0 -14 0zM344.88 1726.48a7 7 0 1 0 14 0a7 7 0 1 0 -14 0zM347.32 1708.06a7 7 0 1 0 14 0a7 7 0 1 0 -14 0zM349.13 1718.17a7 7 0 1 0 14 0a7 7 0 1 0 -14 0zM350.93 1726.12a7 7 0 1 0 14 0a7 7 0 1 0 -14 0zM354.12 1745.24a7 7 0 1 0 14 0a7 7 0 1 0 -14 0zM357.31 1755.87a7 7 0 1 0 14 0a7 7 0 1 0 -14 0zM360.5 1772.87a7 7 0 1 0 14 0a7 7 0 1 0 -14 0zM363.15 1780.4a7 7 0 1 0 14 0a7 7 0 1 0 -14 0zM365.81 1788.81a7 7 0 1 0 14 0a7 7 0 1 0 -14 0zM369 1749.49a7 7 0 1 0 14 0a7 7 0 1 0 -14 0zM371.12 1751.57a7 7 0 1 0 14 0a7 7 0 1 0 -14 0zM373.25 1755.87a7 7 0 1 0 14 0a7 7 0 1 0 -14 0zM375.37 1758.51a7 7 0 1 0 14 0a7 7 0 1 0 -14 0zM377.5 1760.12a7 7 0 1 0 14 0a7 7 0 1 0 -14 0zM379.62 1764.09a7 7 0 1 0 14 0a7 7 0 1 0 -14 0zM381.75 1768.62a7 7 0 1 0 14 0a7 7 0 1 0 -14 0zM384.3 1734.62a7 7 0 1 0 14 0a7 7 0 1 0 -14 0zM386.21 1749.36a7 7 0 1 0 14 0a7 7 0 1 0 -14 0zM388.12 1766.49a7 7 0 1 0 14 0a7 7 0 1 0 -14 0zM390.25 1766.14a7 7 0 1 0 14 0a7 7 0 1 0 -14 0zM392.37 1762.24a7 7 0 1 0 14 0a7 7 0 1 0 -14 0zM394.92 1730.37a7 7 0 1 0 14 0a7 7 0 1 0 -14 0zM397.58 1711.38a7 7 0 1 0 14 0a7 7 0 1 0 -14 0zM400.23 1690a7 7 0 1 0 14 0a7 7 0 1 0 -14 0zM403 1715.5a7 7 0 1 0 14 0a7 7 0 1 0 -14 0zM405.12 1717.15a7 7 0 1 0 14 0a7 7 0 1 0 -14 0zM407.25 1721.87a7 7 0 1 0 14 0a7 7 0 1 0 -14 0zM409.37 1720.19a7 7 0 1 0 14 0a7 7 0 1 0 -14 0zM411.5 1717.62a7 7 0 1 0 14 0a7 7 0 1 0 -14 0zM413.62 1720.96a7 7 0 1 0 14 0a7 7 0 1 0 -14 0zM415.75 1723.99a7 7 0 1 0 14 0a7 7 0 1 0 -14 0zM418.3 1742.06a7 7 0 1 0 14 0a7 7 0 1 0 -14 0zM420.21 1733.15a7 7 0 1 0 14 0a7 7 0 1 0 -14 0zM422.12 1719.75a7 7 0 1 0 14 0a7 7 0 1 0 -14 0zM425.31 1715.5a7 7 0 1 0 14 0a7 7 0 1 0 -14 0zM427.11 1713.15a7 7 0 1 0 14 0a7 7 0 1 0 -14 0zM428.92 1708.06a7 7 0 1 0 14 0a7 7 0 1 0 -14 0zM430.83 1720.6a7 7 0 1 0 14 0a7 7 0 1 0 -14 0zM432.75 1735.68a7 7 0 1 0 14 0a7 7 0 1 0 -14 0zM435.93 1745.24a7 7 0 1 0 14 0a7 7 0 1 0 -14 0zM438.06 1760.34a7 7 0 1 0 14 0a7 7 0 1 0 -14 0zM440.18 1769.68a7 7 0 1 0 14 0a7 7 0 1 0 -14 0zM443.37 1732.49a7 7 0 1 0 14 0a7 7 0 1 0 -14 0zM445.49 1721.7a7 7 0 1 0 14 0a7 7 0 1 0 -14 0zM447.62 1715.5a7 7 0 1 0 14 0a7 7 0 1 0 -14 0zM449.74 1718.19a7 7 0 1 0 14 0a7 7 0 1 0 -14 0zM451.87 1721.87a7 7 0 1 0 14 0a7 7 0 1 0 -14 0zM453.99 1722.35a7 7 0 1 0 14 0a7 7 0 1 0 -14 0zM456.12 1719.75a7 7 0 1 0 14 0a7 7 0 1 0 -14 0zM458.03 1705.44a7 7 0 1 0 14 0a7 7 0 1 0 -14 0zM459.94 1695.31a7 7 0 1 0 14 0a7 7 0 1 0 -14 0zM462.28 1709.59a7 7 0 1 0 14 0a7 7 0 1 0 -14 0zM464.62 1723.99a7 7 0 1 0 14 0a7 7 0 1 0 -14 0zM466.74 1785.62a7 7 0 1 0 14 0a7 7 0 1 0 -14 0zM469.4 1782.85a7 7 0 1 0 14 0a7 7 0 1 0 -14 0zM472.06 1785.62a7 7 0 1 0 14 0a7 7 0 1 0 -14 0zM475.24 1749.49a7 7 0 1 0 14 0a7 7 0 1 0 -14 0zM477.37 1749.97a7 7 0 1 0 14 0a7 7 0 1 0 -14 0zM479.49 1748.43a7 7 0 1 0 14 0a7 7 0 1 0 -14 0zM482.68 1754.81a7 7 0 1 0 14 0a7 7 0 1 0 -14 0zM484.81 1723.99a7 7 0 1 0 14 0a7 7 0 1 0 -14 0zM487.46 1728.77a7 7 0 1 0 14 0a7 7 0 1 0 -14 0zM490.12 1730.37a7 7 0 1 0 14 0a7 7 0 1 0 -14 0zM493.31 1715.5a7 7 0 1 0 14 0a7 7 0 1 0 -14 0zM495.43 1713.81a7 7 0 1 0 14 0a7 7 0 1 0 -14 0zM497.56 1711.25a7 7 0 1 0 14 0a7 7 0 1 0 -14 0zM499.36 1702.87a7 7 0 1 0 14 0a7 7 0 1 0 -14 0zM501.17 1690a7 7 0 1 0 14 0a7 7 0 1 0 -14 0zM503.08 1697.38a7 7 0 1 0 14 0a7 7 0 1 0 -14 0zM504.99 1707a7 7 0 1 0 14 0a7 7 0 1 0 -14 0zM507.12 1707.1a7 7 0 1 0 14 0a7 7 0 1 0 -14 0zM509.24 1704.87a7 7 0 1 0 14 0a7 7 0 1 0 -14 0zM512.43 1700.62a7 7 0 1 0 14 0a7 7 0 1 0 -14 0zM514.56 1707.56a7 7 0 1 0 14 0a7 7 0 1 0 -14 0zM516.68 1713.37a7 7 0 1 0 14 0a7 7 0 1 0 -14 0zM519.87 1754.81a7 7 0 1 0 14 0a7 7 0 1 0 -14 0zM522.35 1756.35a7 7 0 1 0 14 0a7 7 0 1 0 -14 0zM524.83 1756.67a7 7 0 1 0 14 0a7 7 0 1 0 -14 0zM527.31 1757.99a7 7 0 1 0 14 0a7 7 0 1 0 -14 0zM530.49 1732.49a7 7 0 1 0 14 0a7 7 0 1 0 -14 0zM533.68 1695.31a7 7 0 1 0 14 0a7 7 0 1 0 -14 0zM535.8 1676.1a7 7 0 1 0 14 0a7 7 0 1 0 -14 0zM537.93 1652.81a7 7 0 1 0 14 0a7 7 0 1 0 -14 0zM541.12 1681.5a7 7 0 1 0 14 0a7 7 0 1 0 -14 0zM543.24 1676.73a7 7 0 1 0 14 0a7 7 0 1 0 -14 0zM545.37 1666.62a7 7 0 1 0 14 0a7 7 0 1 0 -14 0zM548.55 1636.87a7 7 0 1 0 14 0a7 7 0 1 0 -14 0zM550.68 1626.09a7 7 0 1 0 14 0a7 7 0 1 0 -14 0zM552.8 1615.62a7 7 0 1 0 14 0a7 7 0 1 0 -14 0zM555.99 1632.62a7 7 0 1 0 14 0a7 7 0 1 0 -14 0zM558.12 1628.83a7 7 0 1 0 14 0a7 7 0 1 0 -14 0zM560.24 1623.06a7 7 0 1 0 14 0a7 7 0 1 0 -14 0zM563.43 1594.37a7 7 0 1 0 14 0a7 7 0 1 0 -14 0zM566.87 1578.37a7 7 0 1 0 14 0a7 7 0 1 0 -14 0zM569 1572.54a7 7 0 1 0 14 0a7 7 0 1 0 -14 0zM571.12 1573.2a7 7 0 1 0 14 0a7 7 0 1 0 -14 0zM573.25 1569.69a7 7 0 1 0 14 0a7 7 0 1 0 -14 0zM575.37 1565.62a7 7 0 1 0 14 0a7 7 0 1 0 -14 0zM577.5 1555.3a7 7 0 1 0 14 0a7 7 0 1 0 -14 0zM579.62 1539.06a7 7 0 1 0 14 0a7 7 0 1 0 -14 0zM582.28 1542.58a7 7 0 1 0 14 0a7 7 0 1 0 -14 0zM584.93 1542.24a7 7 0 1 0 14 0a7 7 0 1 0 -14 0zM587.06 1548.62a7 7 0 1 0 14 0a7 7 0 1 0 -14 0zM589.18 1482.75a7 7 0 1 0 14 0a7 7 0 1 0 -14 0zM591.84 1479.33a7 7 0 1 0 14 0a7 7 0 1 0 -14 0zM594.5 1478.5a7 7 0 1 0 14 0a7 7 0 1 0 -14 0zM596.62 1501.87a7 7 0 1 0 14 0a7 7 0 1 0 -14 0zM598.75 1514.62a7 7 0 1 0 14 0a7 7 0 1 0 -14 0zM601.93 1501.87a7 7 0 1 0 14 0a7 7 0 1 0 -14 0zM604.06 1463.62a7 7 0 1 0 14 0a7 7 0 1 0 -14 0zM606.71 1460.81a7 7 0 1 0 14 0a7 7 0 1 0 -14 0zM609.37 1459.37a7 7 0 1 0 14 0a7 7 0 1 0 -14 0zM612.56 1463.62a7 7 0 1 0 14 0a7 7 0 1 0 -14 0zM614.68 1436a7 7 0 1 0 14 0a7 7 0 1 0 -14 0zM617.87 1431.75a7 7 0 1 0 14 0a7 7 0 1 0 -14 0zM621.06 1459.37a7 7 0 1 0 14 0a7 7 0 1 0 -14 0zM624.25 1438.12a7 7 0 1 0 14 0a7 7 0 1 0 -14 0zM626.37 1457.25a7 7 0 1 0 14 0a7 7 0 1 0 -14 0zM628.5 1453a7 7 0 1 0 14 0a7 7 0 1 0 -14 0zM631.68 1417.93a7 7 0 1 0 14 0a7 7 0 1 0 -14 0zM634.87 1438.12a7 7 0 1 0 14 0a7 7 0 1 0 -14 0zM638.06 1442.37a7 7 0 1 0 14 0a7 7 0 1 0 -14 0zM641.24 1463.62a7 7 0 1 0 14 0a7 7 0 1 0 -14 0zM644.43 1461.5a7 7 0 1 0 14 0a7 7 0 1 0 -14 0zM647.62 1480.62a7 7 0 1 0 14 0a7 7 0 1 0 -14 0zM650.81 1482.75a7 7 0 1 0 14 0a7 7 0 1 0 -14 0zM652.93 1411.56a7 7 0 1 0 14 0a7 7 0 1 0 -14 0zM655.06 1407.79a7 7 0 1 0 14 0a7 7 0 1 0 -14 0zM657.18 1402a7 7 0 1 0 14 0a7 7 0 1 0 -14 0zM660.37 1440.25a7 7 0 1 0 14 0a7 7 0 1 0 -14 0zM662.49 1459.69a7 7 0 1 0 14 0a7 7 0 1 0 -14 0zM664.62 1484.87a7 7 0 1 0 14 0a7 7 0 1 0 -14 0zM666.74 1446.62a7 7 0 1 0 14 0a7 7 0 1 0 -14 0zM669.93 1444.5a7 7 0 1 0 14 0a7 7 0 1 0 -14 0zM673.12 1442.37a7 7 0 1 0 14 0a7 7 0 1 0 -14 0zM676.31 1461.5a7 7 0 1 0 14 0a7 7 0 1 0 -14 0zM678.43 1464.45a7 7 0 1 0 14 0a7 7 0 1 0 -14 0zM680.56 1467.87a7 7 0 1 0 14 0a7 7 0 1 0 -14 0zM683.74 1423.25a7 7 0 1 0 14 0a7 7 0 1 0 -14 0zM686.93 1425.37a7 7 0 1 0 14 0a7 7 0 1 0 -14 0zM690.12 1467.87a7 7 0 1 0 14 0a7 7 0 1 0 -14 0zM692.77 1469.07a7 7 0 1 0 14 0a7 7 0 1 0 -14 0zM695.43 1474.25a7 7 0 1 0 14 0a7 7 0 1 0 -14 0zM698.62 1465.75a7 7 0 1 0 14 0a7 7 0 1 0 -14 0zM700.74 1464.51a7 7 0 1 0 14 0a7 7 0 1 0 -14 0zM702.87 1467.87a7 7 0 1 0 14 0a7 7 0 1 0 -14 0zM704.99 1464.16a7 7 0 1 0 14 0a7 7 0 1 0 -14 0zM707.12 1465.75a7 7 0 1 0 14 0a7 7 0 1 0 -14 0zM709.67 1426.43a7 7 0 1 0 14 0a7 7 0 1 0 -14 0zM711.58 1437.07a7 7 0 1 0 14 0a7 7 0 1 0 -14 0zM713.49 1444.5a7 7 0 1 0 14 0a7 7 0 1 0 -14 0zM715.62 1442.27a7 7 0 1 0 14 0a7 7 0 1 0 -14 0zM717.74 1444.5a7 7 0 1 0 14 0a7 7 0 1 0 -14 0zM719.87 1439.79a7 7 0 1 0 14 0a7 7 0 1 0 -14 0zM721.99 1438.12a7 7 0 1 0 14 0a7 7 0 1 0 -14 0zM723.91 1415.69a7 7 0 1 0 14 0a7 7 0 1 0 -14 0zM725.82 1394.56a7 7 0 1 0 14 0a7 7 0 1 0 -14 0zM727.62 1418.57a7 7 0 1 0 14 0a7 7 0 1 0 -14 0zM729.43 1438.12a7 7 0 1 0 14 0a7 7 0 1 0 -14 0zM732.62 1442.37a7 7 0 1 0 14 0a7 7 0 1 0 -14 0zM735.8 1448.75a7 7 0 1 0 14 0a7 7 0 1 0 -14 0zM738.99 1458.31a7 7 0 1 0 14 0a7 7 0 1 0 -14 0zM742.18 1459.37a7 7 0 1 0 14 0a7 7 0 1 0 -14 0z" fill="#df5322" /></g>
<path d="M109.7 1447.1h12M109.7 1582.6h12M109.7 1718.1h12" stroke="#4a4a4a" stroke-width="1.3" fill="none"/>
<path d="M109.7 1379.35h5.8M109.7 1514.85h5.8M109.7 1650.35h5.8M109.7 1785.85h5.8" stroke="#4a4a4a" stroke-width="1.3" fill="none"/>
<path d="M185.4 1826.2v-10.3M310.2 1826.2v-10.3M435 1826.2v-10.3M559.8 1826.2v-10.3M684.6 1826.2v-10.3" stroke="#4a4a4a" stroke-width="1.3" fill="none"/>
<path d="M123 1826.2v-5.3M247.8 1826.2v-5.3M372.6 1826.2v-5.3M497.4 1826.2v-5.3M622.2 1826.2v-5.3M747 1826.2v-5.3" stroke="#4a4a4a" stroke-width="1.3" fill="none"/>
<rect x="109.7" y="1311.5" width="650.3" height="514.7" fill="none" stroke="#666666" stroke-width="1.5" />
<text font-size="25.2" x="63.54" y="1321" >25</text>
<text font-size="23.12" x="78.98" y="1455.5" >0</text>
<text font-size="24.31" x="51.5" y="1591.6" >–25</text>
<text font-size="24.23" x="51.5" y="1726.8" >–50</text>
<text font-size="25.07" x="153.75" y="1861.3" >–0.2</text>
<text font-size="23.95" x="282" y="1861.3" >–0.1</text>
<text font-size="25.32" x="416.99" y="1861.3" >0.0</text>
<text font-size="24.06" x="544.94" y="1861.3" >0.1</text>
<text font-size="25.69" x="667.17" y="1861.3" >0.2</text>
<text font-size="25.62" textLength="56.93" lengthAdjust="spacingAndGlyphs" x="407.23" y="1902" ><tspan font-style="italic">B</tspan> (T)</text>
<text font-size="26.05" textLength="80.28" lengthAdjust="spacingAndGlyphs" transform="translate(23.5 1607.9) rotate(-90)" x="-0.78" y="0" >Δ<tspan font-style="italic">R</tspan> (Ω)</text>
<text font-size="22.04" textLength="198.96" lengthAdjust="spacingAndGlyphs" x="538.3" y="1798.5" >Graphene - 1L PtSe<tspan font-size="12.79" dy="4.85">2</tspan></text>
<rect x="313.5" y="1322.8" width="250.9" height="180.2" fill="#fff" />
<clipPath id="pfic"><rect x="313.5" y="1322.8" width="250.9" height="180.2"/></clipPath>
<g fill="none" stroke="#3b52b4" stroke-width="1.1" clip-path="url(#pfic)"><circle cx="324.07" cy="1350.32" r="3.8"/><circle cx="328.75" cy="1345.63" r="3.8"/><circle cx="334.38" cy="1353.13" r="3.8"/><circle cx="340" cy="1347.5" r="3.8"/><circle cx="344.69" cy="1350.32" r="3.8"/><circle cx="349.38" cy="1353.13" r="3.8"/><circle cx="341.88" cy="1341.88" r="3.8"/><circle cx="326.88" cy="1355" r="3.8"/><circle cx="356.88" cy="1366.25" r="3.8"/><circle cx="362.51" cy="1368.13" r="3.8"/><circle cx="370.01" cy="1416.88" r="3.8"/><circle cx="377.51" cy="1430.01" r="3.8"/><circle cx="382.19" cy="1441.26" r="3.8"/><circle cx="385.01" cy="1460.01" r="3.8"/><circle cx="387.82" cy="1469.38" r="3.8"/><circle cx="388.76" cy="1480.64" r="3.8"/><circle cx="392.51" cy="1465.63" r="3.8"/><circle cx="395.32" cy="1473.14" r="3.8"/><circle cx="397.19" cy="1482.51" r="3.8"/><circle cx="400.01" cy="1486.26" r="3.8"/><circle cx="403.76" cy="1476.89" r="3.8"/><circle cx="407.51" cy="1482.51" r="3.8"/><circle cx="411.26" cy="1490.01" r="3.8"/><circle cx="415.01" cy="1478.76" r="3.8"/><circle cx="418.76" cy="1484.39" r="3.8"/><circle cx="422.51" cy="1480.64" r="3.8"/><circle cx="401.88" cy="1460.01" r="3.8"/><circle cx="390.63" cy="1475.01" r="3.8"/><circle cx="426.26" cy="1448.76" r="3.8"/><circle cx="433.76" cy="1478.76" r="3.8"/><circle cx="441.26" cy="1484.39" r="3.8"/><circle cx="448.76" cy="1450.63" r="3.8"/><circle cx="454.39" cy="1486.26" r="3.8"/><circle cx="458.14" cy="1478.76" r="3.8"/><circle cx="445.01" cy="1456.26" r="3.8"/><circle cx="476.89" cy="1460.01" r="3.8"/><circle cx="480.64" cy="1469.38" r="3.8"/><circle cx="480.64" cy="1476.89" r="3.8"/><circle cx="484.39" cy="1465.63" r="3.8"/><circle cx="475.01" cy="1467.51" r="3.8"/><circle cx="486.26" cy="1456.26" r="3.8"/><circle cx="491.89" cy="1441.26" r="3.8"/><circle cx="499.39" cy="1424.38" r="3.8"/><circle cx="516.26" cy="1353.13" r="3.8"/><circle cx="520.02" cy="1349.38" r="3.8"/><circle cx="523.77" cy="1356.88" r="3.8"/><circle cx="538.77" cy="1340" r="3.8"/><circle cx="542.52" cy="1345.63" r="3.8"/><circle cx="535.02" cy="1343.75" r="3.8"/><circle cx="546.27" cy="1351.25" r="3.8"/><circle cx="529.39" cy="1353.13" r="3.8"/><circle cx="550.02" cy="1347.5" r="3.8"/><circle cx="561.27" cy="1345.63" r="3.8"/><circle cx="473.56" cy="1423.31" r="3.8"/><circle cx="383.02" cy="1392.11" r="3.8"/><circle cx="497.67" cy="1406.7" r="3.8"/><circle cx="536.35" cy="1348.37" r="3.8"/><circle cx="419.52" cy="1447.99" r="3.8"/><circle cx="369.01" cy="1387.93" r="3.8"/><circle cx="321.28" cy="1363.41" r="3.8"/><circle cx="476.16" cy="1432.74" r="3.8"/><circle cx="369.46" cy="1390.56" r="3.8"/><circle cx="515.8" cy="1353.31" r="3.8"/><circle cx="514.9" cy="1374.56" r="3.8"/><circle cx="399.23" cy="1417.66" r="3.8"/><circle cx="552.51" cy="1357.91" r="3.8"/><circle cx="337.73" cy="1358.96" r="3.8"/><circle cx="525.25" cy="1365.12" r="3.8"/><circle cx="515.22" cy="1374.8" r="3.8"/><circle cx="447.92" cy="1479.28" r="3.8"/><circle cx="408.74" cy="1454.36" r="3.8"/><circle cx="520.76" cy="1367.34" r="3.8"/><circle cx="528.78" cy="1363.68" r="3.8"/><circle cx="489.74" cy="1400.41" r="3.8"/><circle cx="371.31" cy="1383.24" r="3.8"/><circle cx="334.51" cy="1362.84" r="3.8"/><circle cx="339.78" cy="1364.46" r="3.8"/><circle cx="472.63" cy="1434.73" r="3.8"/><circle cx="406.66" cy="1441.96" r="3.8"/><circle cx="381.02" cy="1410.18" r="3.8"/><circle cx="475.7" cy="1435.46" r="3.8"/><circle cx="357.21" cy="1388.58" r="3.8"/><circle cx="355.29" cy="1377.98" r="3.8"/><circle cx="560.54" cy="1366.44" r="3.8"/><circle cx="453.07" cy="1469.97" r="3.8"/><circle cx="524.1" cy="1370.2" r="3.8"/><circle cx="371.6" cy="1376.17" r="3.8"/><circle cx="393.06" cy="1413.86" r="3.8"/><circle cx="367.11" cy="1399.1" r="3.8"/><circle cx="532.43" cy="1355.56" r="3.8"/><circle cx="477.54" cy="1426.29" r="3.8"/><circle cx="541.91" cy="1357.72" r="3.8"/><circle cx="380.5" cy="1390.25" r="3.8"/><circle cx="454.16" cy="1457.88" r="3.8"/><circle cx="459.93" cy="1473.51" r="3.8"/><circle cx="413.92" cy="1449.96" r="3.8"/><circle cx="562.53" cy="1362.77" r="3.8"/><circle cx="337.28" cy="1357.47" r="3.8"/><circle cx="341.93" cy="1374.72" r="3.8"/><circle cx="511.48" cy="1373.63" r="3.8"/><circle cx="330.47" cy="1367.83" r="3.8"/><circle cx="562.18" cy="1363.32" r="3.8"/><circle cx="555.96" cy="1372.65" r="3.8"/><circle cx="317.54" cy="1378.09" r="3.8"/><circle cx="484.06" cy="1422.44" r="3.8"/><circle cx="380.98" cy="1401.82" r="3.8"/><circle cx="342.41" cy="1369.4" r="3.8"/><circle cx="427.42" cy="1478.72" r="3.8"/><circle cx="532.3" cy="1354.14" r="3.8"/><circle cx="439.06" cy="1460.28" r="3.8"/><circle cx="541.43" cy="1369.39" r="3.8"/><circle cx="388.84" cy="1419.02" r="3.8"/><circle cx="465.99" cy="1447.71" r="3.8"/><circle cx="504.14" cy="1396.36" r="3.8"/><circle cx="508.14" cy="1385.85" r="3.8"/><circle cx="314.83" cy="1366.93" r="3.8"/><circle cx="319.53" cy="1383.95" r="3.8"/><circle cx="533.01" cy="1369.98" r="3.8"/><circle cx="391.09" cy="1405.49" r="3.8"/><circle cx="532.83" cy="1373.26" r="3.8"/><circle cx="335.97" cy="1369.67" r="3.8"/><circle cx="331.89" cy="1378.21" r="3.8"/><circle cx="504.96" cy="1383.98" r="3.8"/><circle cx="432.78" cy="1469.46" r="3.8"/><circle cx="380.54" cy="1407.89" r="3.8"/><circle cx="419.82" cy="1453.29" r="3.8"/><circle cx="448.68" cy="1472.13" r="3.8"/><circle cx="364.67" cy="1379.88" r="3.8"/><circle cx="561.94" cy="1366.72" r="3.8"/><circle cx="423.54" cy="1464.12" r="3.8"/><circle cx="344.75" cy="1363.96" r="3.8"/><circle cx="398.69" cy="1429.3" r="3.8"/><circle cx="371.86" cy="1381.62" r="3.8"/><circle cx="332.33" cy="1374.48" r="3.8"/><circle cx="371.57" cy="1400.72" r="3.8"/><circle cx="528.27" cy="1349.53" r="3.8"/><circle cx="373.82" cy="1395.45" r="3.8"/><circle cx="367.92" cy="1376.79" r="3.8"/><circle cx="547.12" cy="1362.59" r="3.8"/><circle cx="432.13" cy="1475.94" r="3.8"/><circle cx="515.31" cy="1359.45" r="3.8"/><circle cx="338.77" cy="1368.57" r="3.8"/><circle cx="419.93" cy="1460.53" r="3.8"/><circle cx="495.83" cy="1408.44" r="3.8"/><circle cx="559.21" cy="1351.21" r="3.8"/><circle cx="414.72" cy="1453.82" r="3.8"/><circle cx="528.77" cy="1354.43" r="3.8"/><circle cx="361.95" cy="1382.59" r="3.8"/><circle cx="419.51" cy="1454.98" r="3.8"/><circle cx="376.75" cy="1405.53" r="3.8"/><circle cx="424.79" cy="1474.54" r="3.8"/><circle cx="451.42" cy="1452.46" r="3.8"/><circle cx="562.96" cy="1371.95" r="3.8"/><circle cx="555.44" cy="1374.5" r="3.8"/><circle cx="525.55" cy="1352.76" r="3.8"/><circle cx="435.35" cy="1460.53" r="3.8"/><circle cx="414.33" cy="1445.69" r="3.8"/><circle cx="408.85" cy="1466.69" r="3.8"/><circle cx="380.58" cy="1405.44" r="3.8"/><circle cx="427.74" cy="1463.98" r="3.8"/><circle cx="552.54" cy="1376.44" r="3.8"/><circle cx="452.77" cy="1470.98" r="3.8"/><circle cx="353.15" cy="1373.68" r="3.8"/></g>
<g fill="none" stroke="#aa2029" stroke-width="1.1" clip-path="url(#pfic)"><circle cx="556.25" cy="1364.52" r="3.8"/><circle cx="449.48" cy="1471.81" r="3.8"/><circle cx="328.06" cy="1373.79" r="3.8"/><circle cx="439.63" cy="1478.28" r="3.8"/><circle cx="353.16" cy="1391.16" r="3.8"/><circle cx="333.81" cy="1362.48" r="3.8"/><circle cx="462.71" cy="1464.57" r="3.8"/><circle cx="372.63" cy="1380.26" r="3.8"/><circle cx="536.62" cy="1353.46" r="3.8"/><circle cx="462.58" cy="1463.25" r="3.8"/><circle cx="418.7" cy="1462.86" r="3.8"/><circle cx="444.62" cy="1478.38" r="3.8"/><circle cx="364.88" cy="1390.82" r="3.8"/><circle cx="373.5" cy="1387.82" r="3.8"/><circle cx="481.9" cy="1418.9" r="3.8"/><circle cx="392.9" cy="1426.61" r="3.8"/><circle cx="331.91" cy="1369.81" r="3.8"/><circle cx="563.69" cy="1375.15" r="3.8"/><circle cx="332.09" cy="1363.52" r="3.8"/><circle cx="380.14" cy="1408.06" r="3.8"/><circle cx="534.26" cy="1370.08" r="3.8"/><circle cx="406.26" cy="1440.86" r="3.8"/><circle cx="522.46" cy="1368.35" r="3.8"/><circle cx="466.87" cy="1469.2" r="3.8"/><circle cx="477.46" cy="1416.77" r="3.8"/><circle cx="518.3" cy="1360.12" r="3.8"/><circle cx="479.82" cy="1437.69" r="3.8"/><circle cx="347.37" cy="1363.81" r="3.8"/><circle cx="340.55" cy="1372.22" r="3.8"/><circle cx="381.93" cy="1401.48" r="3.8"/><circle cx="493.39" cy="1399.79" r="3.8"/><circle cx="472.52" cy="1432.72" r="3.8"/><circle cx="436.05" cy="1479.05" r="3.8"/><circle cx="525.56" cy="1351.75" r="3.8"/><circle cx="419.79" cy="1455.68" r="3.8"/><circle cx="314.64" cy="1369.42" r="3.8"/><circle cx="473.24" cy="1431.23" r="3.8"/><circle cx="499.3" cy="1401.41" r="3.8"/><circle cx="420.81" cy="1449.49" r="3.8"/><circle cx="332.59" cy="1380.51" r="3.8"/><circle cx="540.03" cy="1360.41" r="3.8"/><circle cx="522.67" cy="1365.15" r="3.8"/><circle cx="350.82" cy="1367.57" r="3.8"/><circle cx="390.92" cy="1427.88" r="3.8"/><circle cx="513.04" cy="1381.89" r="3.8"/><circle cx="538.78" cy="1352.11" r="3.8"/><circle cx="376.22" cy="1382.96" r="3.8"/><circle cx="509.04" cy="1392.11" r="3.8"/><circle cx="415.48" cy="1461.87" r="3.8"/><circle cx="352.44" cy="1389.65" r="3.8"/><circle cx="530.19" cy="1373.36" r="3.8"/><circle cx="516.71" cy="1375.76" r="3.8"/><circle cx="319.96" cy="1377.91" r="3.8"/><circle cx="396.91" cy="1436.02" r="3.8"/><circle cx="514.57" cy="1378.92" r="3.8"/><circle cx="516.71" cy="1360.09" r="3.8"/><circle cx="510.85" cy="1367.08" r="3.8"/><circle cx="532.08" cy="1369.99" r="3.8"/><circle cx="369.43" cy="1396.11" r="3.8"/><circle cx="428.98" cy="1461.92" r="3.8"/><circle cx="512.85" cy="1366.14" r="3.8"/><circle cx="319.68" cy="1364.05" r="3.8"/><circle cx="395.93" cy="1433.26" r="3.8"/><circle cx="555.79" cy="1356.87" r="3.8"/><circle cx="474.33" cy="1432.56" r="3.8"/><circle cx="559.36" cy="1363.43" r="3.8"/><circle cx="548.87" cy="1351.48" r="3.8"/><circle cx="556.67" cy="1354.31" r="3.8"/><circle cx="554.7" cy="1356.52" r="3.8"/><circle cx="340.89" cy="1369.26" r="3.8"/><circle cx="496.13" cy="1398.52" r="3.8"/><circle cx="465.5" cy="1458.16" r="3.8"/><circle cx="410.18" cy="1456.77" r="3.8"/><circle cx="377.52" cy="1399.71" r="3.8"/><circle cx="314.18" cy="1373.36" r="3.8"/><circle cx="448.54" cy="1471.32" r="3.8"/><circle cx="499.48" cy="1404.26" r="3.8"/><circle cx="404.93" cy="1434.26" r="3.8"/><circle cx="480.03" cy="1421.91" r="3.8"/><circle cx="392.33" cy="1428.35" r="3.8"/><circle cx="493.93" cy="1401.4" r="3.8"/><circle cx="391.17" cy="1415.69" r="3.8"/><circle cx="414.48" cy="1452.98" r="3.8"/><circle cx="345.62" cy="1369.85" r="3.8"/><circle cx="549.15" cy="1365.93" r="3.8"/><circle cx="539.75" cy="1362.25" r="3.8"/><circle cx="389.09" cy="1416.64" r="3.8"/><circle cx="313.85" cy="1357.07" r="3.8"/><circle cx="421.37" cy="1464.36" r="3.8"/><circle cx="477.64" cy="1428.21" r="3.8"/><circle cx="424.44" cy="1456.87" r="3.8"/><circle cx="432.2" cy="1478.18" r="3.8"/><circle cx="513.02" cy="1364.32" r="3.8"/><circle cx="334.98" cy="1370.65" r="3.8"/><circle cx="472.2" cy="1435.19" r="3.8"/><circle cx="518.63" cy="1371.48" r="3.8"/><circle cx="482.17" cy="1416.64" r="3.8"/><circle cx="363.6" cy="1372.56" r="3.8"/><circle cx="375.04" cy="1391.28" r="3.8"/><circle cx="526.47" cy="1351.07" r="3.8"/><circle cx="417.5" cy="1463.31" r="3.8"/><circle cx="362.42" cy="1389.23" r="3.8"/><circle cx="437.51" cy="1462.48" r="3.8"/><circle cx="477.98" cy="1416.08" r="3.8"/><circle cx="501.74" cy="1404.54" r="3.8"/><circle cx="340.43" cy="1368.93" r="3.8"/><circle cx="357.78" cy="1394.04" r="3.8"/><circle cx="443.41" cy="1456.3" r="3.8"/><circle cx="376.13" cy="1401.89" r="3.8"/><circle cx="428.02" cy="1474" r="3.8"/><circle cx="480.87" cy="1437.68" r="3.8"/><circle cx="462.81" cy="1471.5" r="3.8"/><circle cx="536.9" cy="1362.75" r="3.8"/><circle cx="493.81" cy="1406.81" r="3.8"/><circle cx="521.67" cy="1364.77" r="3.8"/><circle cx="538.35" cy="1365.8" r="3.8"/><circle cx="432.58" cy="1461.88" r="3.8"/><circle cx="375.64" cy="1396.03" r="3.8"/><circle cx="505.46" cy="1393.6" r="3.8"/><circle cx="470.64" cy="1437.98" r="3.8"/><circle cx="333.15" cy="1365.16" r="3.8"/><circle cx="381.77" cy="1394.05" r="3.8"/><circle cx="448.97" cy="1456.37" r="3.8"/><circle cx="371.64" cy="1394.31" r="3.8"/><circle cx="490.59" cy="1400.72" r="3.8"/><circle cx="415.79" cy="1460.06" r="3.8"/><circle cx="417.83" cy="1452.73" r="3.8"/><circle cx="418.93" cy="1471.18" r="3.8"/><circle cx="459.96" cy="1467.28" r="3.8"/><circle cx="528.22" cy="1368.39" r="3.8"/><circle cx="408.97" cy="1440.61" r="3.8"/><circle cx="401.81" cy="1436.4" r="3.8"/><circle cx="527.39" cy="1373.34" r="3.8"/><circle cx="418.64" cy="1467" r="3.8"/><circle cx="450.46" cy="1467.93" r="3.8"/><circle cx="368.96" cy="1380.6" r="3.8"/><circle cx="422.85" cy="1451.21" r="3.8"/><circle cx="397.89" cy="1430.59" r="3.8"/><circle cx="414.96" cy="1449.94" r="3.8"/><circle cx="430.75" cy="1458.16" r="3.8"/><circle cx="469.52" cy="1436.16" r="3.8"/><circle cx="412.39" cy="1458.58" r="3.8"/><circle cx="320.54" cy="1375.52" r="3.8"/><circle cx="347.72" cy="1372.99" r="3.8"/><circle cx="326.34" cy="1368.8" r="3.8"/><circle cx="366.74" cy="1382" r="3.8"/><circle cx="504.31" cy="1392" r="3.8"/><circle cx="502" cy="1405.86" r="3.8"/><circle cx="376.9" cy="1383.11" r="3.8"/><circle cx="318.6" cy="1372.88" r="3.8"/><circle cx="564.06" cy="1358.68" r="3.8"/><circle cx="476.5" cy="1437.95" r="3.8"/><circle cx="476.9" cy="1436.47" r="3.8"/><circle cx="551.47" cy="1354.67" r="3.8"/><circle cx="318.85" cy="1363.01" r="3.8"/><circle cx="345.35" cy="1376.14" r="3.8"/><circle cx="454.93" cy="1457.21" r="3.8"/><circle cx="488.85" cy="1421.43" r="3.8"/><circle cx="355.75" cy="1384.29" r="3.8"/><circle cx="500.98" cy="1388.59" r="3.8"/><circle cx="518.85" cy="1376.81" r="3.8"/><circle cx="340.81" cy="1358.82" r="3.8"/><circle cx="391.84" cy="1423.39" r="3.8"/><circle cx="553.61" cy="1359.87" r="3.8"/><circle cx="492.74" cy="1397.58" r="3.8"/><circle cx="486.63" cy="1421.41" r="3.8"/><circle cx="339.26" cy="1377.55" r="3.8"/><circle cx="526.6" cy="1364.5" r="3.8"/><circle cx="344.06" cy="1383.9" r="3.8"/><circle cx="509.67" cy="1376.52" r="3.8"/><circle cx="420.99" cy="1458.8" r="3.8"/><circle cx="440.41" cy="1464.93" r="3.8"/><circle cx="526.42" cy="1370.19" r="3.8"/><circle cx="340.17" cy="1382.54" r="3.8"/><circle cx="472.86" cy="1446.45" r="3.8"/><circle cx="490.81" cy="1409.83" r="3.8"/><circle cx="497.44" cy="1413.82" r="3.8"/><circle cx="381.36" cy="1406.1" r="3.8"/><circle cx="448.47" cy="1465.33" r="3.8"/><circle cx="422.79" cy="1469.07" r="3.8"/><circle cx="380.94" cy="1406.78" r="3.8"/><circle cx="521.71" cy="1352.99" r="3.8"/><circle cx="534.45" cy="1353.83" r="3.8"/><circle cx="430.08" cy="1470.34" r="3.8"/><circle cx="408.62" cy="1440.73" r="3.8"/><circle cx="526.77" cy="1353.79" r="3.8"/><circle cx="366.85" cy="1394.08" r="3.8"/><circle cx="398.95" cy="1436.77" r="3.8"/><circle cx="489.28" cy="1408.23" r="3.8"/><circle cx="316.29" cy="1383.31" r="3.8"/><circle cx="335.18" cy="1375.83" r="3.8"/><circle cx="436.06" cy="1475.3" r="3.8"/><circle cx="486.63" cy="1421.89" r="3.8"/><circle cx="436.62" cy="1476.3" r="3.8"/><circle cx="337.05" cy="1363.06" r="3.8"/><circle cx="486.93" cy="1412.75" r="3.8"/><circle cx="459.33" cy="1462.12" r="3.8"/><circle cx="446.66" cy="1464.58" r="3.8"/><circle cx="500.48" cy="1394.6" r="3.8"/><circle cx="489.7" cy="1407.42" r="3.8"/><circle cx="376.69" cy="1383.89" r="3.8"/><circle cx="361.96" cy="1374.34" r="3.8"/><circle cx="447.89" cy="1472.67" r="3.8"/><circle cx="360.1" cy="1376.06" r="3.8"/><circle cx="434.96" cy="1474.23" r="3.8"/><circle cx="558.22" cy="1363.13" r="3.8"/><circle cx="384.59" cy="1393.72" r="3.8"/><circle cx="362.35" cy="1377.24" r="3.8"/><circle cx="358.67" cy="1370.33" r="3.8"/><circle cx="447.46" cy="1460.4" r="3.8"/><circle cx="557.65" cy="1363.86" r="3.8"/><circle cx="488.34" cy="1405.91" r="3.8"/><circle cx="531.15" cy="1360.79" r="3.8"/><circle cx="532.22" cy="1362.7" r="3.8"/><circle cx="431.26" cy="1466.24" r="3.8"/><circle cx="359.9" cy="1371.77" r="3.8"/><circle cx="549.33" cy="1360.91" r="3.8"/><circle cx="519.55" cy="1362.08" r="3.8"/><circle cx="332.3" cy="1374.1" r="3.8"/><circle cx="327.17" cy="1362.87" r="3.8"/><circle cx="454.65" cy="1459.45" r="3.8"/><circle cx="562.56" cy="1352.77" r="3.8"/><circle cx="505.11" cy="1396.79" r="3.8"/><circle cx="511.7" cy="1368.39" r="3.8"/><circle cx="444.57" cy="1466.05" r="3.8"/><circle cx="424.58" cy="1473.44" r="3.8"/><circle cx="561.58" cy="1357.54" r="3.8"/><circle cx="469.21" cy="1452.25" r="3.8"/><circle cx="499.02" cy="1411.79" r="3.8"/><circle cx="365.77" cy="1378.47" r="3.8"/><circle cx="479.08" cy="1418.64" r="3.8"/><circle cx="357.26" cy="1371.32" r="3.8"/><circle cx="314.42" cy="1361.24" r="3.8"/><circle cx="462.4" cy="1455.03" r="3.8"/><circle cx="371.7" cy="1394.67" r="3.8"/><circle cx="489.73" cy="1412.04" r="3.8"/><circle cx="485.82" cy="1430.09" r="3.8"/><circle cx="510.97" cy="1380.04" r="3.8"/><circle cx="479.26" cy="1438.21" r="3.8"/><circle cx="420.18" cy="1462.75" r="3.8"/><circle cx="475.87" cy="1442.45" r="3.8"/><circle cx="520.68" cy="1353.12" r="3.8"/><circle cx="355.29" cy="1376.46" r="3.8"/><circle cx="501.24" cy="1399.92" r="3.8"/><circle cx="386" cy="1398.07" r="3.8"/><circle cx="486.15" cy="1423.99" r="3.8"/><circle cx="549.73" cy="1361.65" r="3.8"/><circle cx="437.36" cy="1458.28" r="3.8"/><circle cx="323.73" cy="1370.15" r="3.8"/><circle cx="394.44" cy="1415.74" r="3.8"/><circle cx="336.61" cy="1381.86" r="3.8"/><circle cx="523.02" cy="1364.8" r="3.8"/><circle cx="551.76" cy="1375.19" r="3.8"/><circle cx="482.04" cy="1417.94" r="3.8"/><circle cx="323.82" cy="1378.41" r="3.8"/><circle cx="431.53" cy="1471.68" r="3.8"/><circle cx="543.07" cy="1350.85" r="3.8"/><circle cx="460.28" cy="1465.48" r="3.8"/><circle cx="436.84" cy="1458.45" r="3.8"/><circle cx="400.86" cy="1424.73" r="3.8"/><circle cx="481.51" cy="1433.59" r="3.8"/><circle cx="396.31" cy="1429.38" r="3.8"/><circle cx="385.9" cy="1418.74" r="3.8"/><circle cx="517.41" cy="1366.96" r="3.8"/><circle cx="427.61" cy="1461.34" r="3.8"/><circle cx="394.68" cy="1434.4" r="3.8"/><circle cx="414.93" cy="1458.83" r="3.8"/><circle cx="561.11" cy="1366.52" r="3.8"/><circle cx="449.58" cy="1463.26" r="3.8"/><circle cx="360.71" cy="1380.01" r="3.8"/><circle cx="503.11" cy="1399.48" r="3.8"/><circle cx="504" cy="1387.84" r="3.8"/><circle cx="451.24" cy="1476.05" r="3.8"/><circle cx="423.42" cy="1468.61" r="3.8"/><circle cx="344.15" cy="1383.65" r="3.8"/><circle cx="466.17" cy="1450.68" r="3.8"/><circle cx="353.4" cy="1380.94" r="3.8"/><circle cx="452" cy="1454.61" r="3.8"/><circle cx="562.14" cy="1373.03" r="3.8"/><circle cx="429.27" cy="1457.31" r="3.8"/><circle cx="522.06" cy="1363.31" r="3.8"/><circle cx="493.14" cy="1407.98" r="3.8"/><circle cx="382.2" cy="1407.61" r="3.8"/><circle cx="559.13" cy="1355.97" r="3.8"/><circle cx="451.75" cy="1462.07" r="3.8"/><circle cx="544.52" cy="1359.77" r="3.8"/><circle cx="533.87" cy="1369.77" r="3.8"/><circle cx="382.9" cy="1407.17" r="3.8"/><circle cx="417.62" cy="1471.15" r="3.8"/><circle cx="440.85" cy="1476.97" r="3.8"/><circle cx="384.55" cy="1398.66" r="3.8"/><circle cx="460.68" cy="1474.45" r="3.8"/><circle cx="436.32" cy="1459.81" r="3.8"/><circle cx="448.57" cy="1461.76" r="3.8"/><circle cx="451.91" cy="1466.11" r="3.8"/><circle cx="427.74" cy="1461.6" r="3.8"/><circle cx="360.98" cy="1388.68" r="3.8"/><circle cx="456.89" cy="1457.21" r="3.8"/><circle cx="507.89" cy="1374.11" r="3.8"/><circle cx="500.17" cy="1404.46" r="3.8"/></g>
<path d="M329.7 1503v-10M438.1 1503v-10M546.8 1503v-10" stroke="#000" stroke-width="2" fill="none"/>
<path d="M383.9 1503v-5.5M492.4 1503v-5.5" stroke="#000" stroke-width="2" fill="none"/>
<rect x="313.5" y="1322.8" width="250.9" height="180.2" fill="none" stroke="#000" stroke-width="2.3" />
<text font-size="23.14" x="307.96" y="1531.4" >-0.2</text>
<text font-size="21.44" x="422.54" y="1531.4" >0.0</text>
<text font-size="23.08" x="529.38" y="1531.4" >0.2</text>
<text font-size="22.94" textLength="50.97" lengthAdjust="spacingAndGlyphs" x="414.31" y="1561.5" ><tspan font-style="italic">B</tspan> (T)</text>
<text font-size="23.13" textLength="77.13" lengthAdjust="spacingAndGlyphs" transform="translate(294.6 1449) rotate(-90)" x="-0.69" y="0" ><tspan font-style="italic">R</tspan> (a.u.)</text></g>
<g id="pg"><text font-size="66" textLength="38.93" lengthAdjust="spacingAndGlyphs" x="815.6" y="1326.2" stroke="#000" stroke-width="0.3" stroke-linejoin="round">g</text>
<clipPath id="pgc"><rect x="946.2" y="1311.9" width="650" height="514.1"/></clipPath>
<g clip-path="url(#pgc)"><polyline points="940,1448.75 944.25,1446.62 948.5,1431.75 952.75,1419 957,1416.87 961.25,1440.25 965.5,1427.5 970.17,1377.56 974,1411.56 978.25,1442.37 981.44,1502.93 985.69,1470 991,1446.62 994.19,1461.5 997.37,1476.37 1001.62,1453 1004.81,1485.93 1008.42,1500.81 1012.25,1470 1016.92,1421.12 1021.81,1429.62 1025,1470 1027.12,1507.18 1031.37,1514.62 1035.62,1509.31 1039.87,1516.74 1045.18,1501.87 1046.25,1465.75 1050.5,1436 1055.81,1427.5 1060.06,1425.37 1065.37,1427.5 1069.62,1425.37 1074.3,1394.56 1078.12,1412.62 1082.37,1412.62 1086.62,1448.75 1088.75,1507.18 1093,1494.43 1096.18,1459.37 1099.37,1476.37 1102.56,1482.75 1105.75,1503.99 1110,1514.62 1114.25,1489.12 1118.5,1491.25 1121.68,1470 1124.87,1429.62 1129.12,1472.12 1133.37,1527.37 1136.56,1470 1140.81,1470 1143.99,1491.25 1148.24,1495.5 1152.49,1510.37 1157.81,1481.68 1160.99,1533.74 1164.18,1540.12 1169.49,1520.99 1172.68,1525.24 1176.93,1546.49 1180.56,1597.19 1183.75,1639.69 1189.06,1647.12 1193.31,1664.12 1197.56,1665.18 1200.75,1671.56 1203.94,1708.75 1208.19,1728.93 1210.95,1762.93 1215.62,1756.56 1218.81,1776.74 1223.06,1742.75 1226.25,1761.87 1228.8,1770.37 1230.5,1806.49 1235.81,1808.62 1239.42,1790.56 1242.18,1740.62 1247.5,1734.25 1251.75,1736.37 1254.93,1747 1260.25,1679 1265.56,1716.18 1269.81,1750.18 1273,1723.62 1276.18,1725.75 1279.37,1708.75 1283.62,1669.43 1288.93,1650.31 1292.12,1632.25 1296.37,1625.87 1300.62,1623.75 1305.93,1628 1309.12,1616.31 1313.37,1578.06 1316.31,1522.06 1321.2,1493.37 1324.81,1505.06 1328,1546.49 1333.31,1547.56 1336.5,1564.56 1340.75,1561.37 1343.94,1528.43 1347.55,1456.18 1352.44,1454.06 1355.62,1501.87 1359.87,1516.74 1364.12,1505.06 1368.37,1512.49 1373.68,1473.18 1379,1449.81 1382.18,1482.75 1386.43,1480.62 1390.68,1476.37 1394.93,1465.75 1399.18,1472.12 1403.43,1483.81 1406.62,1508.24 1409.81,1454.06 1414.06,1410.5 1418.31,1396.69 1421.92,1444.5 1425.75,1440.25 1430,1412.62 1434.25,1427.5 1438.5,1440.25 1442.75,1399.87 1448.06,1389.25 1453.37,1405.18 1457.62,1436 1461.87,1457.25 1467.18,1446.62 1470.37,1442.37 1474.62,1465.75 1477.81,1482.75 1482.06,1489.12 1485.24,1436 1488.43,1431.75 1492.68,1403.06 1496.93,1423.25 1501.18,1448.75 1504.37,1463.62 1507.56,1405.18 1511.81,1395.62 1516.06,1389.25 1519.24,1423.25 1523.49,1429.62 1527.74,1440.25 1531.99,1431.75 1536.24,1427.5 1540.49,1436 1544.74,1425.37 1550.06,1419 1555.37,1416.87 1559.62,1453 1561.74,1472.12 1565.99,1463.62 1568.12,1411.56 1573.43,1459.37 1577.68,1489.12 1580.87,1527.37 1585.12,1535.87 1589.37,1523.12 1593.62,1520.99 1597.87,1484.87 1600,1461.5" fill="none" stroke="#e8301f" stroke-width="3.2" stroke-linejoin="round" /><path d="M933.7 1448.75a6.3 6.3 0 1 0 12.6 0a6.3 6.3 0 1 0 -12.6 0zM937.95 1446.62a6.3 6.3 0 1 0 12.6 0a6.3 6.3 0 1 0 -12.6 0zM942.2 1431.75a6.3 6.3 0 1 0 12.6 0a6.3 6.3 0 1 0 -12.6 0zM946.45 1419a6.3 6.3 0 1 0 12.6 0a6.3 6.3 0 1 0 -12.6 0zM950.7 1416.87a6.3 6.3 0 1 0 12.6 0a6.3 6.3 0 1 0 -12.6 0zM954.95 1440.25a6.3 6.3 0 1 0 12.6 0a6.3 6.3 0 1 0 -12.6 0zM959.2 1427.5a6.3 6.3 0 1 0 12.6 0a6.3 6.3 0 1 0 -12.6 0zM963.87 1377.56a6.3 6.3 0 1 0 12.6 0a6.3 6.3 0 1 0 -12.6 0zM967.7 1411.56a6.3 6.3 0 1 0 12.6 0a6.3 6.3 0 1 0 -12.6 0zM971.95 1442.37a6.3 6.3 0 1 0 12.6 0a6.3 6.3 0 1 0 -12.6 0zM975.14 1502.93a6.3 6.3 0 1 0 12.6 0a6.3 6.3 0 1 0 -12.6 0zM979.39 1470a6.3 6.3 0 1 0 12.6 0a6.3 6.3 0 1 0 -12.6 0zM984.7 1446.62a6.3 6.3 0 1 0 12.6 0a6.3 6.3 0 1 0 -12.6 0zM987.89 1461.5a6.3 6.3 0 1 0 12.6 0a6.3 6.3 0 1 0 -12.6 0zM991.07 1476.37a6.3 6.3 0 1 0 12.6 0a6.3 6.3 0 1 0 -12.6 0zM995.32 1453a6.3 6.3 0 1 0 12.6 0a6.3 6.3 0 1 0 -12.6 0zM998.51 1485.93a6.3 6.3 0 1 0 12.6 0a6.3 6.3 0 1 0 -12.6 0zM1002.12 1500.81a6.3 6.3 0 1 0 12.6 0a6.3 6.3 0 1 0 -12.6 0zM1005.95 1470a6.3 6.3 0 1 0 12.6 0a6.3 6.3 0 1 0 -12.6 0zM1010.62 1421.12a6.3 6.3 0 1 0 12.6 0a6.3 6.3 0 1 0 -12.6 0zM1015.51 1429.62a6.3 6.3 0 1 0 12.6 0a6.3 6.3 0 1 0 -12.6 0zM1018.7 1470a6.3 6.3 0 1 0 12.6 0a6.3 6.3 0 1 0 -12.6 0zM1020.82 1507.18a6.3 6.3 0 1 0 12.6 0a6.3 6.3 0 1 0 -12.6 0zM1025.07 1514.62a6.3 6.3 0 1 0 12.6 0a6.3 6.3 0 1 0 -12.6 0zM1029.32 1509.31a6.3 6.3 0 1 0 12.6 0a6.3 6.3 0 1 0 -12.6 0zM1033.57 1516.74a6.3 6.3 0 1 0 12.6 0a6.3 6.3 0 1 0 -12.6 0zM1038.88 1501.87a6.3 6.3 0 1 0 12.6 0a6.3 6.3 0 1 0 -12.6 0zM1039.95 1465.75a6.3 6.3 0 1 0 12.6 0a6.3 6.3 0 1 0 -12.6 0zM1044.2 1436a6.3 6.3 0 1 0 12.6 0a6.3 6.3 0 1 0 -12.6 0zM1049.51 1427.5a6.3 6.3 0 1 0 12.6 0a6.3 6.3 0 1 0 -12.6 0zM1053.76 1425.37a6.3 6.3 0 1 0 12.6 0a6.3 6.3 0 1 0 -12.6 0zM1059.07 1427.5a6.3 6.3 0 1 0 12.6 0a6.3 6.3 0 1 0 -12.6 0zM1063.32 1425.37a6.3 6.3 0 1 0 12.6 0a6.3 6.3 0 1 0 -12.6 0zM1068 1394.56a6.3 6.3 0 1 0 12.6 0a6.3 6.3 0 1 0 -12.6 0zM1071.82 1412.62a6.3 6.3 0 1 0 12.6 0a6.3 6.3 0 1 0 -12.6 0zM1076.07 1412.62a6.3 6.3 0 1 0 12.6 0a6.3 6.3 0 1 0 -12.6 0zM1080.32 1448.75a6.3 6.3 0 1 0 12.6 0a6.3 6.3 0 1 0 -12.6 0zM1082.45 1507.18a6.3 6.3 0 1 0 12.6 0a6.3 6.3 0 1 0 -12.6 0zM1086.7 1494.43a6.3 6.3 0 1 0 12.6 0a6.3 6.3 0 1 0 -12.6 0zM1089.88 1459.37a6.3 6.3 0 1 0 12.6 0a6.3 6.3 0 1 0 -12.6 0zM1093.07 1476.37a6.3 6.3 0 1 0 12.6 0a6.3 6.3 0 1 0 -12.6 0zM1096.26 1482.75a6.3 6.3 0 1 0 12.6 0a6.3 6.3 0 1 0 -12.6 0zM1099.45 1503.99a6.3 6.3 0 1 0 12.6 0a6.3 6.3 0 1 0 -12.6 0zM1103.7 1514.62a6.3 6.3 0 1 0 12.6 0a6.3 6.3 0 1 0 -12.6 0zM1107.95 1489.12a6.3 6.3 0 1 0 12.6 0a6.3 6.3 0 1 0 -12.6 0zM1112.2 1491.25a6.3 6.3 0 1 0 12.6 0a6.3 6.3 0 1 0 -12.6 0zM1115.38 1470a6.3 6.3 0 1 0 12.6 0a6.3 6.3 0 1 0 -12.6 0zM1118.57 1429.62a6.3 6.3 0 1 0 12.6 0a6.3 6.3 0 1 0 -12.6 0zM1122.82 1472.12a6.3 6.3 0 1 0 12.6 0a6.3 6.3 0 1 0 -12.6 0zM1127.07 1527.37a6.3 6.3 0 1 0 12.6 0a6.3 6.3 0 1 0 -12.6 0zM1130.26 1470a6.3 6.3 0 1 0 12.6 0a6.3 6.3 0 1 0 -12.6 0zM1134.51 1470a6.3 6.3 0 1 0 12.6 0a6.3 6.3 0 1 0 -12.6 0zM1137.69 1491.25a6.3 6.3 0 1 0 12.6 0a6.3 6.3 0 1 0 -12.6 0zM1141.94 1495.5a6.3 6.3 0 1 0 12.6 0a6.3 6.3 0 1 0 -12.6 0zM1146.19 1510.37a6.3 6.3 0 1 0 12.6 0a6.3 6.3 0 1 0 -12.6 0zM1151.51 1481.68a6.3 6.3 0 1 0 12.6 0a6.3 6.3 0 1 0 -12.6 0zM1154.69 1533.74a6.3 6.3 0 1 0 12.6 0a6.3 6.3 0 1 0 -12.6 0zM1157.88 1540.12a6.3 6.3 0 1 0 12.6 0a6.3 6.3 0 1 0 -12.6 0zM1163.19 1520.99a6.3 6.3 0 1 0 12.6 0a6.3 6.3 0 1 0 -12.6 0zM1166.38 1525.24a6.3 6.3 0 1 0 12.6 0a6.3 6.3 0 1 0 -12.6 0zM1170.63 1546.49a6.3 6.3 0 1 0 12.6 0a6.3 6.3 0 1 0 -12.6 0zM1174.26 1597.19a6.3 6.3 0 1 0 12.6 0a6.3 6.3 0 1 0 -12.6 0zM1177.45 1639.69a6.3 6.3 0 1 0 12.6 0a6.3 6.3 0 1 0 -12.6 0zM1182.76 1647.12a6.3 6.3 0 1 0 12.6 0a6.3 6.3 0 1 0 -12.6 0zM1187.01 1664.12a6.3 6.3 0 1 0 12.6 0a6.3 6.3 0 1 0 -12.6 0zM1191.26 1665.18a6.3 6.3 0 1 0 12.6 0a6.3 6.3 0 1 0 -12.6 0zM1194.45 1671.56a6.3 6.3 0 1 0 12.6 0a6.3 6.3 0 1 0 -12.6 0zM1197.64 1708.75a6.3 6.3 0 1 0 12.6 0a6.3 6.3 0 1 0 -12.6 0zM1201.89 1728.93a6.3 6.3 0 1 0 12.6 0a6.3 6.3 0 1 0 -12.6 0zM1204.65 1762.93a6.3 6.3 0 1 0 12.6 0a6.3 6.3 0 1 0 -12.6 0zM1209.32 1756.56a6.3 6.3 0 1 0 12.6 0a6.3 6.3 0 1 0 -12.6 0zM1212.51 1776.74a6.3 6.3 0 1 0 12.6 0a6.3 6.3 0 1 0 -12.6 0zM1216.76 1742.75a6.3 6.3 0 1 0 12.6 0a6.3 6.3 0 1 0 -12.6 0zM1219.95 1761.87a6.3 6.3 0 1 0 12.6 0a6.3 6.3 0 1 0 -12.6 0zM1222.5 1770.37a6.3 6.3 0 1 0 12.6 0a6.3 6.3 0 1 0 -12.6 0zM1224.2 1806.49a6.3 6.3 0 1 0 12.6 0a6.3 6.3 0 1 0 -12.6 0zM1229.51 1808.62a6.3 6.3 0 1 0 12.6 0a6.3 6.3 0 1 0 -12.6 0zM1233.12 1790.56a6.3 6.3 0 1 0 12.6 0a6.3 6.3 0 1 0 -12.6 0zM1235.88 1740.62a6.3 6.3 0 1 0 12.6 0a6.3 6.3 0 1 0 -12.6 0zM1241.2 1734.25a6.3 6.3 0 1 0 12.6 0a6.3 6.3 0 1 0 -12.6 0zM1245.45 1736.37a6.3 6.3 0 1 0 12.6 0a6.3 6.3 0 1 0 -12.6 0zM1248.63 1747a6.3 6.3 0 1 0 12.6 0a6.3 6.3 0 1 0 -12.6 0zM1253.95 1679a6.3 6.3 0 1 0 12.6 0a6.3 6.3 0 1 0 -12.6 0zM1259.26 1716.18a6.3 6.3 0 1 0 12.6 0a6.3 6.3 0 1 0 -12.6 0zM1263.51 1750.18a6.3 6.3 0 1 0 12.6 0a6.3 6.3 0 1 0 -12.6 0zM1266.7 1723.62a6.3 6.3 0 1 0 12.6 0a6.3 6.3 0 1 0 -12.6 0zM1269.88 1725.75a6.3 6.3 0 1 0 12.6 0a6.3 6.3 0 1 0 -12.6 0zM1273.07 1708.75a6.3 6.3 0 1 0 12.6 0a6.3 6.3 0 1 0 -12.6 0zM1277.32 1669.43a6.3 6.3 0 1 0 12.6 0a6.3 6.3 0 1 0 -12.6 0zM1282.63 1650.31a6.3 6.3 0 1 0 12.6 0a6.3 6.3 0 1 0 -12.6 0zM1285.82 1632.25a6.3 6.3 0 1 0 12.6 0a6.3 6.3 0 1 0 -12.6 0zM1290.07 1625.87a6.3 6.3 0 1 0 12.6 0a6.3 6.3 0 1 0 -12.6 0zM1294.32 1623.75a6.3 6.3 0 1 0 12.6 0a6.3 6.3 0 1 0 -12.6 0zM1299.63 1628a6.3 6.3 0 1 0 12.6 0a6.3 6.3 0 1 0 -12.6 0zM1302.82 1616.31a6.3 6.3 0 1 0 12.6 0a6.3 6.3 0 1 0 -12.6 0zM1307.07 1578.06a6.3 6.3 0 1 0 12.6 0a6.3 6.3 0 1 0 -12.6 0zM1310.01 1522.06a6.3 6.3 0 1 0 12.6 0a6.3 6.3 0 1 0 -12.6 0zM1314.9 1493.37a6.3 6.3 0 1 0 12.6 0a6.3 6.3 0 1 0 -12.6 0zM1318.51 1505.06a6.3 6.3 0 1 0 12.6 0a6.3 6.3 0 1 0 -12.6 0zM1321.7 1546.49a6.3 6.3 0 1 0 12.6 0a6.3 6.3 0 1 0 -12.6 0zM1327.01 1547.56a6.3 6.3 0 1 0 12.6 0a6.3 6.3 0 1 0 -12.6 0zM1330.2 1564.56a6.3 6.3 0 1 0 12.6 0a6.3 6.3 0 1 0 -12.6 0zM1334.45 1561.37a6.3 6.3 0 1 0 12.6 0a6.3 6.3 0 1 0 -12.6 0zM1337.64 1528.43a6.3 6.3 0 1 0 12.6 0a6.3 6.3 0 1 0 -12.6 0zM1341.25 1456.18a6.3 6.3 0 1 0 12.6 0a6.3 6.3 0 1 0 -12.6 0zM1346.14 1454.06a6.3 6.3 0 1 0 12.6 0a6.3 6.3 0 1 0 -12.6 0zM1349.32 1501.87a6.3 6.3 0 1 0 12.6 0a6.3 6.3 0 1 0 -12.6 0zM1353.57 1516.74a6.3 6.3 0 1 0 12.6 0a6.3 6.3 0 1 0 -12.6 0zM1357.82 1505.06a6.3 6.3 0 1 0 12.6 0a6.3 6.3 0 1 0 -12.6 0zM1362.07 1512.49a6.3 6.3 0 1 0 12.6 0a6.3 6.3 0 1 0 -12.6 0zM1367.38 1473.18a6.3 6.3 0 1 0 12.6 0a6.3 6.3 0 1 0 -12.6 0zM1372.7 1449.81a6.3 6.3 0 1 0 12.6 0a6.3 6.3 0 1 0 -12.6 0zM1375.88 1482.75a6.3 6.3 0 1 0 12.6 0a6.3 6.3 0 1 0 -12.6 0zM1380.13 1480.62a6.3 6.3 0 1 0 12.6 0a6.3 6.3 0 1 0 -12.6 0zM1384.38 1476.37a6.3 6.3 0 1 0 12.6 0a6.3 6.3 0 1 0 -12.6 0zM1388.63 1465.75a6.3 6.3 0 1 0 12.6 0a6.3 6.3 0 1 0 -12.6 0zM1392.88 1472.12a6.3 6.3 0 1 0 12.6 0a6.3 6.3 0 1 0 -12.6 0zM1397.13 1483.81a6.3 6.3 0 1 0 12.6 0a6.3 6.3 0 1 0 -12.6 0zM1400.32 1508.24a6.3 6.3 0 1 0 12.6 0a6.3 6.3 0 1 0 -12.6 0zM1403.51 1454.06a6.3 6.3 0 1 0 12.6 0a6.3 6.3 0 1 0 -12.6 0zM1407.76 1410.5a6.3 6.3 0 1 0 12.6 0a6.3 6.3 0 1 0 -12.6 0zM1412.01 1396.69a6.3 6.3 0 1 0 12.6 0a6.3 6.3 0 1 0 -12.6 0zM1415.62 1444.5a6.3 6.3 0 1 0 12.6 0a6.3 6.3 0 1 0 -12.6 0zM1419.45 1440.25a6.3 6.3 0 1 0 12.6 0a6.3 6.3 0 1 0 -12.6 0zM1423.7 1412.62a6.3 6.3 0 1 0 12.6 0a6.3 6.3 0 1 0 -12.6 0zM1427.95 1427.5a6.3 6.3 0 1 0 12.6 0a6.3 6.3 0 1 0 -12.6 0zM1432.2 1440.25a6.3 6.3 0 1 0 12.6 0a6.3 6.3 0 1 0 -12.6 0zM1436.45 1399.87a6.3 6.3 0 1 0 12.6 0a6.3 6.3 0 1 0 -12.6 0zM1441.76 1389.25a6.3 6.3 0 1 0 12.6 0a6.3 6.3 0 1 0 -12.6 0zM1447.07 1405.18a6.3 6.3 0 1 0 12.6 0a6.3 6.3 0 1 0 -12.6 0zM1451.32 1436a6.3 6.3 0 1 0 12.6 0a6.3 6.3 0 1 0 -12.6 0zM1455.57 1457.25a6.3 6.3 0 1 0 12.6 0a6.3 6.3 0 1 0 -12.6 0zM1460.88 1446.62a6.3 6.3 0 1 0 12.6 0a6.3 6.3 0 1 0 -12.6 0zM1464.07 1442.37a6.3 6.3 0 1 0 12.6 0a6.3 6.3 0 1 0 -12.6 0zM1468.32 1465.75a6.3 6.3 0 1 0 12.6 0a6.3 6.3 0 1 0 -12.6 0zM1471.51 1482.75a6.3 6.3 0 1 0 12.6 0a6.3 6.3 0 1 0 -12.6 0zM1475.76 1489.12a6.3 6.3 0 1 0 12.6 0a6.3 6.3 0 1 0 -12.6 0zM1478.94 1436a6.3 6.3 0 1 0 12.6 0a6.3 6.3 0 1 0 -12.6 0zM1482.13 1431.75a6.3 6.3 0 1 0 12.6 0a6.3 6.3 0 1 0 -12.6 0zM1486.38 1403.06a6.3 6.3 0 1 0 12.6 0a6.3 6.3 0 1 0 -12.6 0zM1490.63 1423.25a6.3 6.3 0 1 0 12.6 0a6.3 6.3 0 1 0 -12.6 0zM1494.88 1448.75a6.3 6.3 0 1 0 12.6 0a6.3 6.3 0 1 0 -12.6 0zM1498.07 1463.62a6.3 6.3 0 1 0 12.6 0a6.3 6.3 0 1 0 -12.6 0zM1501.26 1405.18a6.3 6.3 0 1 0 12.6 0a6.3 6.3 0 1 0 -12.6 0zM1505.51 1395.62a6.3 6.3 0 1 0 12.6 0a6.3 6.3 0 1 0 -12.6 0zM1509.76 1389.25a6.3 6.3 0 1 0 12.6 0a6.3 6.3 0 1 0 -12.6 0zM1512.94 1423.25a6.3 6.3 0 1 0 12.6 0a6.3 6.3 0 1 0 -12.6 0zM1517.19 1429.62a6.3 6.3 0 1 0 12.6 0a6.3 6.3 0 1 0 -12.6 0zM1521.44 1440.25a6.3 6.3 0 1 0 12.6 0a6.3 6.3 0 1 0 -12.6 0zM1525.69 1431.75a6.3 6.3 0 1 0 12.6 0a6.3 6.3 0 1 0 -12.6 0zM1529.94 1427.5a6.3 6.3 0 1 0 12.6 0a6.3 6.3 0 1 0 -12.6 0zM1534.19 1436a6.3 6.3 0 1 0 12.6 0a6.3 6.3 0 1 0 -12.6 0zM1538.44 1425.37a6.3 6.3 0 1 0 12.6 0a6.3 6.3 0 1 0 -12.6 0zM1543.76 1419a6.3 6.3 0 1 0 12.6 0a6.3 6.3 0 1 0 -12.6 0zM1549.07 1416.87a6.3 6.3 0 1 0 12.6 0a6.3 6.3 0 1 0 -12.6 0zM1553.32 1453a6.3 6.3 0 1 0 12.6 0a6.3 6.3 0 1 0 -12.6 0zM1555.44 1472.12a6.3 6.3 0 1 0 12.6 0a6.3 6.3 0 1 0 -12.6 0zM1559.69 1463.62a6.3 6.3 0 1 0 12.6 0a6.3 6.3 0 1 0 -12.6 0zM1561.82 1411.56a6.3 6.3 0 1 0 12.6 0a6.3 6.3 0 1 0 -12.6 0zM1567.13 1459.37a6.3 6.3 0 1 0 12.6 0a6.3 6.3 0 1 0 -12.6 0zM1571.38 1489.12a6.3 6.3 0 1 0 12.6 0a6.3 6.3 0 1 0 -12.6 0zM1574.57 1527.37a6.3 6.3 0 1 0 12.6 0a6.3 6.3 0 1 0 -12.6 0zM1578.82 1535.87a6.3 6.3 0 1 0 12.6 0a6.3 6.3 0 1 0 -12.6 0zM1583.07 1523.12a6.3 6.3 0 1 0 12.6 0a6.3 6.3 0 1 0 -12.6 0zM1587.32 1520.99a6.3 6.3 0 1 0 12.6 0a6.3 6.3 0 1 0 -12.6 0zM1591.57 1484.87a6.3 6.3 0 1 0 12.6 0a6.3 6.3 0 1 0 -12.6 0zM1593.7 1461.5a6.3 6.3 0 1 0 12.6 0a6.3 6.3 0 1 0 -12.6 0z" fill="#e8301f" /></g>
<g clip-path="url(#pgc)"><polyline points="944,1399.87 948.5,1406.25 951.69,1414.75 954.87,1430.68 958.06,1474.25 962.31,1493.37 966.56,1444.5 970.81,1422.18 975.06,1427.5 977.19,1473.18 981.44,1470 984.62,1476.37 988.87,1461.5 993.12,1467.87 996.95,1425.37 1000.56,1467.87 1004.81,1480.62 1009.06,1488.06 1013.31,1440.25 1017.56,1453 1020.75,1471.06 1024.57,1531.62 1028.82,1512.49 1032.44,1494.43 1035.62,1499.75 1039.87,1522.06 1044.12,1482.75 1047.95,1440.25 1051.56,1448.75 1055.81,1467.87 1060.06,1434.93 1063.25,1442.37 1067.5,1461.5 1071.32,1500.81 1076,1487 1079.18,1449.81 1083.43,1417.93 1086.62,1436 1089.81,1475.31 1094.06,1470 1098.31,1465.75 1101.5,1446.62 1105.75,1433.87 1110,1450.87 1114.25,1457.25 1118.5,1455.12 1122.75,1448.75 1125.93,1446.62 1129.12,1426.43 1133.37,1440.25 1137.62,1453 1141.87,1458.31 1145.06,1506.12 1149.31,1518.87 1153.56,1507.18 1156.74,1456.18 1160.99,1422.18 1165.24,1409.43 1169.49,1423.25 1172.68,1499.75 1175.87,1512.49 1180.12,1514.62 1184.37,1475.31 1188.62,1484.87 1191.81,1482.75 1196.06,1493.37 1199.24,1516.74 1203.49,1503.99 1207.74,1495.5 1210.93,1503.99 1215.18,1516.74 1218.37,1506.12 1222.62,1518.87 1227.29,1528.43 1231.54,1560.31 1235.17,1640.75 1239.42,1724.68 1243.25,1710.87 1246.86,1659.87 1250.68,1671.56 1253.87,1681.12 1258.12,1671.56 1262.37,1636.5 1266.62,1689.62 1270.87,1696 1275.12,1704.5 1279.37,1691.75 1283.2,1727.87 1287.87,1727.87 1291.06,1713 1295.31,1735.31 1299.56,1760.81 1301.68,1807.56 1307,1802.24 1310.18,1777.81 1313.8,1736.37 1317.62,1763.99 1321.87,1758.68 1326.12,1740.62 1329.31,1723.62 1334.62,1747 1337.81,1713 1342.06,1721.5 1346.31,1723.62 1349.92,1705.56 1353.74,1652.44 1357.57,1608.87 1362,1552.87 1366.25,1551.81 1369.43,1526.31 1371.56,1516.74 1376.87,1499.75 1380.7,1540.12 1384.31,1512.49 1388.56,1523.12 1392.81,1501.87 1397.06,1498.68 1400.25,1512.49 1404.5,1525.24 1407.68,1519.93 1411.93,1501.87 1416.18,1482.75 1419.8,1476.37 1424.05,1510.37 1428.93,1517.81 1432.12,1520.99 1435.31,1545.43 1439.56,1561.37 1443.17,1511.43 1446.57,1461.5 1451.25,1441.31 1455.5,1451.93 1458.68,1467.87 1462.93,1480.62 1467.18,1465.75 1470.37,1448.75 1474.62,1446.62 1478.87,1448.75 1483.12,1441.31 1486.31,1471.06 1489.49,1509.31 1494.81,1512.49 1497.99,1480.62 1501.18,1444.5 1505.43,1433.87 1509.68,1448.75 1513.93,1461.5 1517.54,1510.37 1521.37,1489.12 1525.19,1471.06 1528.81,1451.93 1533.06,1476.37 1536.24,1433.87 1540.49,1417.93 1545.81,1416.87 1548.99,1446.62 1552.18,1429.62 1556.43,1444.5 1560.68,1482.75 1564.93,1492.31 1568.12,1441.31 1572.37,1404.12 1576.62,1414.75 1580.87,1414.75 1584.05,1451.93 1588.3,1461.5 1592.55,1470 1595.74,1484.87 1599.99,1491.25" fill="none" stroke="#0a0a0a" stroke-width="3.2" stroke-linejoin="round" /><path d="M937.7 1399.87a6.3 6.3 0 1 0 12.6 0a6.3 6.3 0 1 0 -12.6 0zM942.2 1406.25a6.3 6.3 0 1 0 12.6 0a6.3 6.3 0 1 0 -12.6 0zM945.39 1414.75a6.3 6.3 0 1 0 12.6 0a6.3 6.3 0 1 0 -12.6 0zM948.57 1430.68a6.3 6.3 0 1 0 12.6 0a6.3 6.3 0 1 0 -12.6 0zM951.76 1474.25a6.3 6.3 0 1 0 12.6 0a6.3 6.3 0 1 0 -12.6 0zM956.01 1493.37a6.3 6.3 0 1 0 12.6 0a6.3 6.3 0 1 0 -12.6 0zM960.26 1444.5a6.3 6.3 0 1 0 12.6 0a6.3 6.3 0 1 0 -12.6 0zM964.51 1422.18a6.3 6.3 0 1 0 12.6 0a6.3 6.3 0 1 0 -12.6 0zM968.76 1427.5a6.3 6.3 0 1 0 12.6 0a6.3 6.3 0 1 0 -12.6 0zM970.89 1473.18a6.3 6.3 0 1 0 12.6 0a6.3 6.3 0 1 0 -12.6 0zM975.14 1470a6.3 6.3 0 1 0 12.6 0a6.3 6.3 0 1 0 -12.6 0zM978.32 1476.37a6.3 6.3 0 1 0 12.6 0a6.3 6.3 0 1 0 -12.6 0zM982.57 1461.5a6.3 6.3 0 1 0 12.6 0a6.3 6.3 0 1 0 -12.6 0zM986.82 1467.87a6.3 6.3 0 1 0 12.6 0a6.3 6.3 0 1 0 -12.6 0zM990.65 1425.37a6.3 6.3 0 1 0 12.6 0a6.3 6.3 0 1 0 -12.6 0zM994.26 1467.87a6.3 6.3 0 1 0 12.6 0a6.3 6.3 0 1 0 -12.6 0zM998.51 1480.62a6.3 6.3 0 1 0 12.6 0a6.3 6.3 0 1 0 -12.6 0zM1002.76 1488.06a6.3 6.3 0 1 0 12.6 0a6.3 6.3 0 1 0 -12.6 0zM1007.01 1440.25a6.3 6.3 0 1 0 12.6 0a6.3 6.3 0 1 0 -12.6 0zM1011.26 1453a6.3 6.3 0 1 0 12.6 0a6.3 6.3 0 1 0 -12.6 0zM1014.45 1471.06a6.3 6.3 0 1 0 12.6 0a6.3 6.3 0 1 0 -12.6 0zM1018.27 1531.62a6.3 6.3 0 1 0 12.6 0a6.3 6.3 0 1 0 -12.6 0zM1022.52 1512.49a6.3 6.3 0 1 0 12.6 0a6.3 6.3 0 1 0 -12.6 0zM1026.14 1494.43a6.3 6.3 0 1 0 12.6 0a6.3 6.3 0 1 0 -12.6 0zM1029.32 1499.75a6.3 6.3 0 1 0 12.6 0a6.3 6.3 0 1 0 -12.6 0zM1033.57 1522.06a6.3 6.3 0 1 0 12.6 0a6.3 6.3 0 1 0 -12.6 0zM1037.82 1482.75a6.3 6.3 0 1 0 12.6 0a6.3 6.3 0 1 0 -12.6 0zM1041.65 1440.25a6.3 6.3 0 1 0 12.6 0a6.3 6.3 0 1 0 -12.6 0zM1045.26 1448.75a6.3 6.3 0 1 0 12.6 0a6.3 6.3 0 1 0 -12.6 0zM1049.51 1467.87a6.3 6.3 0 1 0 12.6 0a6.3 6.3 0 1 0 -12.6 0zM1053.76 1434.93a6.3 6.3 0 1 0 12.6 0a6.3 6.3 0 1 0 -12.6 0zM1056.95 1442.37a6.3 6.3 0 1 0 12.6 0a6.3 6.3 0 1 0 -12.6 0zM1061.2 1461.5a6.3 6.3 0 1 0 12.6 0a6.3 6.3 0 1 0 -12.6 0zM1065.02 1500.81a6.3 6.3 0 1 0 12.6 0a6.3 6.3 0 1 0 -12.6 0zM1069.7 1487a6.3 6.3 0 1 0 12.6 0a6.3 6.3 0 1 0 -12.6 0zM1072.88 1449.81a6.3 6.3 0 1 0 12.6 0a6.3 6.3 0 1 0 -12.6 0zM1077.13 1417.93a6.3 6.3 0 1 0 12.6 0a6.3 6.3 0 1 0 -12.6 0zM1080.32 1436a6.3 6.3 0 1 0 12.6 0a6.3 6.3 0 1 0 -12.6 0zM1083.51 1475.31a6.3 6.3 0 1 0 12.6 0a6.3 6.3 0 1 0 -12.6 0zM1087.76 1470a6.3 6.3 0 1 0 12.6 0a6.3 6.3 0 1 0 -12.6 0zM1092.01 1465.75a6.3 6.3 0 1 0 12.6 0a6.3 6.3 0 1 0 -12.6 0zM1095.2 1446.62a6.3 6.3 0 1 0 12.6 0a6.3 6.3 0 1 0 -12.6 0zM1099.45 1433.87a6.3 6.3 0 1 0 12.6 0a6.3 6.3 0 1 0 -12.6 0zM1103.7 1450.87a6.3 6.3 0 1 0 12.6 0a6.3 6.3 0 1 0 -12.6 0zM1107.95 1457.25a6.3 6.3 0 1 0 12.6 0a6.3 6.3 0 1 0 -12.6 0zM1112.2 1455.12a6.3 6.3 0 1 0 12.6 0a6.3 6.3 0 1 0 -12.6 0zM1116.45 1448.75a6.3 6.3 0 1 0 12.6 0a6.3 6.3 0 1 0 -12.6 0zM1119.63 1446.62a6.3 6.3 0 1 0 12.6 0a6.3 6.3 0 1 0 -12.6 0zM1122.82 1426.43a6.3 6.3 0 1 0 12.6 0a6.3 6.3 0 1 0 -12.6 0zM1127.07 1440.25a6.3 6.3 0 1 0 12.6 0a6.3 6.3 0 1 0 -12.6 0zM1131.32 1453a6.3 6.3 0 1 0 12.6 0a6.3 6.3 0 1 0 -12.6 0zM1135.57 1458.31a6.3 6.3 0 1 0 12.6 0a6.3 6.3 0 1 0 -12.6 0zM1138.76 1506.12a6.3 6.3 0 1 0 12.6 0a6.3 6.3 0 1 0 -12.6 0zM1143.01 1518.87a6.3 6.3 0 1 0 12.6 0a6.3 6.3 0 1 0 -12.6 0zM1147.26 1507.18a6.3 6.3 0 1 0 12.6 0a6.3 6.3 0 1 0 -12.6 0zM1150.44 1456.18a6.3 6.3 0 1 0 12.6 0a6.3 6.3 0 1 0 -12.6 0zM1154.69 1422.18a6.3 6.3 0 1 0 12.6 0a6.3 6.3 0 1 0 -12.6 0zM1158.94 1409.43a6.3 6.3 0 1 0 12.6 0a6.3 6.3 0 1 0 -12.6 0zM1163.19 1423.25a6.3 6.3 0 1 0 12.6 0a6.3 6.3 0 1 0 -12.6 0zM1166.38 1499.75a6.3 6.3 0 1 0 12.6 0a6.3 6.3 0 1 0 -12.6 0zM1169.57 1512.49a6.3 6.3 0 1 0 12.6 0a6.3 6.3 0 1 0 -12.6 0zM1173.82 1514.62a6.3 6.3 0 1 0 12.6 0a6.3 6.3 0 1 0 -12.6 0zM1178.07 1475.31a6.3 6.3 0 1 0 12.6 0a6.3 6.3 0 1 0 -12.6 0zM1182.32 1484.87a6.3 6.3 0 1 0 12.6 0a6.3 6.3 0 1 0 -12.6 0zM1185.51 1482.75a6.3 6.3 0 1 0 12.6 0a6.3 6.3 0 1 0 -12.6 0zM1189.76 1493.37a6.3 6.3 0 1 0 12.6 0a6.3 6.3 0 1 0 -12.6 0zM1192.94 1516.74a6.3 6.3 0 1 0 12.6 0a6.3 6.3 0 1 0 -12.6 0zM1197.19 1503.99a6.3 6.3 0 1 0 12.6 0a6.3 6.3 0 1 0 -12.6 0zM1201.44 1495.5a6.3 6.3 0 1 0 12.6 0a6.3 6.3 0 1 0 -12.6 0zM1204.63 1503.99a6.3 6.3 0 1 0 12.6 0a6.3 6.3 0 1 0 -12.6 0zM1208.88 1516.74a6.3 6.3 0 1 0 12.6 0a6.3 6.3 0 1 0 -12.6 0zM1212.07 1506.12a6.3 6.3 0 1 0 12.6 0a6.3 6.3 0 1 0 -12.6 0zM1216.32 1518.87a6.3 6.3 0 1 0 12.6 0a6.3 6.3 0 1 0 -12.6 0zM1220.99 1528.43a6.3 6.3 0 1 0 12.6 0a6.3 6.3 0 1 0 -12.6 0zM1225.24 1560.31a6.3 6.3 0 1 0 12.6 0a6.3 6.3 0 1 0 -12.6 0zM1228.87 1640.75a6.3 6.3 0 1 0 12.6 0a6.3 6.3 0 1 0 -12.6 0zM1233.12 1724.68a6.3 6.3 0 1 0 12.6 0a6.3 6.3 0 1 0 -12.6 0zM1236.95 1710.87a6.3 6.3 0 1 0 12.6 0a6.3 6.3 0 1 0 -12.6 0zM1240.56 1659.87a6.3 6.3 0 1 0 12.6 0a6.3 6.3 0 1 0 -12.6 0zM1244.38 1671.56a6.3 6.3 0 1 0 12.6 0a6.3 6.3 0 1 0 -12.6 0zM1247.57 1681.12a6.3 6.3 0 1 0 12.6 0a6.3 6.3 0 1 0 -12.6 0zM1251.82 1671.56a6.3 6.3 0 1 0 12.6 0a6.3 6.3 0 1 0 -12.6 0zM1256.07 1636.5a6.3 6.3 0 1 0 12.6 0a6.3 6.3 0 1 0 -12.6 0zM1260.32 1689.62a6.3 6.3 0 1 0 12.6 0a6.3 6.3 0 1 0 -12.6 0zM1264.57 1696a6.3 6.3 0 1 0 12.6 0a6.3 6.3 0 1 0 -12.6 0zM1268.82 1704.5a6.3 6.3 0 1 0 12.6 0a6.3 6.3 0 1 0 -12.6 0zM1273.07 1691.75a6.3 6.3 0 1 0 12.6 0a6.3 6.3 0 1 0 -12.6 0zM1276.9 1727.87a6.3 6.3 0 1 0 12.6 0a6.3 6.3 0 1 0 -12.6 0zM1281.57 1727.87a6.3 6.3 0 1 0 12.6 0a6.3 6.3 0 1 0 -12.6 0zM1284.76 1713a6.3 6.3 0 1 0 12.6 0a6.3 6.3 0 1 0 -12.6 0zM1289.01 1735.31a6.3 6.3 0 1 0 12.6 0a6.3 6.3 0 1 0 -12.6 0zM1293.26 1760.81a6.3 6.3 0 1 0 12.6 0a6.3 6.3 0 1 0 -12.6 0zM1295.38 1807.56a6.3 6.3 0 1 0 12.6 0a6.3 6.3 0 1 0 -12.6 0zM1300.7 1802.24a6.3 6.3 0 1 0 12.6 0a6.3 6.3 0 1 0 -12.6 0zM1303.88 1777.81a6.3 6.3 0 1 0 12.6 0a6.3 6.3 0 1 0 -12.6 0zM1307.5 1736.37a6.3 6.3 0 1 0 12.6 0a6.3 6.3 0 1 0 -12.6 0zM1311.32 1763.99a6.3 6.3 0 1 0 12.6 0a6.3 6.3 0 1 0 -12.6 0zM1315.57 1758.68a6.3 6.3 0 1 0 12.6 0a6.3 6.3 0 1 0 -12.6 0zM1319.82 1740.62a6.3 6.3 0 1 0 12.6 0a6.3 6.3 0 1 0 -12.6 0zM1323.01 1723.62a6.3 6.3 0 1 0 12.6 0a6.3 6.3 0 1 0 -12.6 0zM1328.32 1747a6.3 6.3 0 1 0 12.6 0a6.3 6.3 0 1 0 -12.6 0zM1331.51 1713a6.3 6.3 0 1 0 12.6 0a6.3 6.3 0 1 0 -12.6 0zM1335.76 1721.5a6.3 6.3 0 1 0 12.6 0a6.3 6.3 0 1 0 -12.6 0zM1340.01 1723.62a6.3 6.3 0 1 0 12.6 0a6.3 6.3 0 1 0 -12.6 0zM1343.62 1705.56a6.3 6.3 0 1 0 12.6 0a6.3 6.3 0 1 0 -12.6 0zM1347.44 1652.44a6.3 6.3 0 1 0 12.6 0a6.3 6.3 0 1 0 -12.6 0zM1351.27 1608.87a6.3 6.3 0 1 0 12.6 0a6.3 6.3 0 1 0 -12.6 0zM1355.7 1552.87a6.3 6.3 0 1 0 12.6 0a6.3 6.3 0 1 0 -12.6 0zM1359.95 1551.81a6.3 6.3 0 1 0 12.6 0a6.3 6.3 0 1 0 -12.6 0zM1363.13 1526.31a6.3 6.3 0 1 0 12.6 0a6.3 6.3 0 1 0 -12.6 0zM1365.26 1516.74a6.3 6.3 0 1 0 12.6 0a6.3 6.3 0 1 0 -12.6 0zM1370.57 1499.75a6.3 6.3 0 1 0 12.6 0a6.3 6.3 0 1 0 -12.6 0zM1374.4 1540.12a6.3 6.3 0 1 0 12.6 0a6.3 6.3 0 1 0 -12.6 0zM1378.01 1512.49a6.3 6.3 0 1 0 12.6 0a6.3 6.3 0 1 0 -12.6 0zM1382.26 1523.12a6.3 6.3 0 1 0 12.6 0a6.3 6.3 0 1 0 -12.6 0zM1386.51 1501.87a6.3 6.3 0 1 0 12.6 0a6.3 6.3 0 1 0 -12.6 0zM1390.76 1498.68a6.3 6.3 0 1 0 12.6 0a6.3 6.3 0 1 0 -12.6 0zM1393.95 1512.49a6.3 6.3 0 1 0 12.6 0a6.3 6.3 0 1 0 -12.6 0zM1398.2 1525.24a6.3 6.3 0 1 0 12.6 0a6.3 6.3 0 1 0 -12.6 0zM1401.38 1519.93a6.3 6.3 0 1 0 12.6 0a6.3 6.3 0 1 0 -12.6 0zM1405.63 1501.87a6.3 6.3 0 1 0 12.6 0a6.3 6.3 0 1 0 -12.6 0zM1409.88 1482.75a6.3 6.3 0 1 0 12.6 0a6.3 6.3 0 1 0 -12.6 0zM1413.5 1476.37a6.3 6.3 0 1 0 12.6 0a6.3 6.3 0 1 0 -12.6 0zM1417.75 1510.37a6.3 6.3 0 1 0 12.6 0a6.3 6.3 0 1 0 -12.6 0zM1422.63 1517.81a6.3 6.3 0 1 0 12.6 0a6.3 6.3 0 1 0 -12.6 0zM1425.82 1520.99a6.3 6.3 0 1 0 12.6 0a6.3 6.3 0 1 0 -12.6 0zM1429.01 1545.43a6.3 6.3 0 1 0 12.6 0a6.3 6.3 0 1 0 -12.6 0zM1433.26 1561.37a6.3 6.3 0 1 0 12.6 0a6.3 6.3 0 1 0 -12.6 0zM1436.87 1511.43a6.3 6.3 0 1 0 12.6 0a6.3 6.3 0 1 0 -12.6 0zM1440.27 1461.5a6.3 6.3 0 1 0 12.6 0a6.3 6.3 0 1 0 -12.6 0zM1444.95 1441.31a6.3 6.3 0 1 0 12.6 0a6.3 6.3 0 1 0 -12.6 0zM1449.2 1451.93a6.3 6.3 0 1 0 12.6 0a6.3 6.3 0 1 0 -12.6 0zM1452.38 1467.87a6.3 6.3 0 1 0 12.6 0a6.3 6.3 0 1 0 -12.6 0zM1456.63 1480.62a6.3 6.3 0 1 0 12.6 0a6.3 6.3 0 1 0 -12.6 0zM1460.88 1465.75a6.3 6.3 0 1 0 12.6 0a6.3 6.3 0 1 0 -12.6 0zM1464.07 1448.75a6.3 6.3 0 1 0 12.6 0a6.3 6.3 0 1 0 -12.6 0zM1468.32 1446.62a6.3 6.3 0 1 0 12.6 0a6.3 6.3 0 1 0 -12.6 0zM1472.57 1448.75a6.3 6.3 0 1 0 12.6 0a6.3 6.3 0 1 0 -12.6 0zM1476.82 1441.31a6.3 6.3 0 1 0 12.6 0a6.3 6.3 0 1 0 -12.6 0zM1480.01 1471.06a6.3 6.3 0 1 0 12.6 0a6.3 6.3 0 1 0 -12.6 0zM1483.19 1509.31a6.3 6.3 0 1 0 12.6 0a6.3 6.3 0 1 0 -12.6 0zM1488.51 1512.49a6.3 6.3 0 1 0 12.6 0a6.3 6.3 0 1 0 -12.6 0zM1491.69 1480.62a6.3 6.3 0 1 0 12.6 0a6.3 6.3 0 1 0 -12.6 0zM1494.88 1444.5a6.3 6.3 0 1 0 12.6 0a6.3 6.3 0 1 0 -12.6 0zM1499.13 1433.87a6.3 6.3 0 1 0 12.6 0a6.3 6.3 0 1 0 -12.6 0zM1503.38 1448.75a6.3 6.3 0 1 0 12.6 0a6.3 6.3 0 1 0 -12.6 0zM1507.63 1461.5a6.3 6.3 0 1 0 12.6 0a6.3 6.3 0 1 0 -12.6 0zM1511.24 1510.37a6.3 6.3 0 1 0 12.6 0a6.3 6.3 0 1 0 -12.6 0zM1515.07 1489.12a6.3 6.3 0 1 0 12.6 0a6.3 6.3 0 1 0 -12.6 0zM1518.89 1471.06a6.3 6.3 0 1 0 12.6 0a6.3 6.3 0 1 0 -12.6 0zM1522.51 1451.93a6.3 6.3 0 1 0 12.6 0a6.3 6.3 0 1 0 -12.6 0zM1526.76 1476.37a6.3 6.3 0 1 0 12.6 0a6.3 6.3 0 1 0 -12.6 0zM1529.94 1433.87a6.3 6.3 0 1 0 12.6 0a6.3 6.3 0 1 0 -12.6 0zM1534.19 1417.93a6.3 6.3 0 1 0 12.6 0a6.3 6.3 0 1 0 -12.6 0zM1539.51 1416.87a6.3 6.3 0 1 0 12.6 0a6.3 6.3 0 1 0 -12.6 0zM1542.69 1446.62a6.3 6.3 0 1 0 12.6 0a6.3 6.3 0 1 0 -12.6 0zM1545.88 1429.62a6.3 6.3 0 1 0 12.6 0a6.3 6.3 0 1 0 -12.6 0zM1550.13 1444.5a6.3 6.3 0 1 0 12.6 0a6.3 6.3 0 1 0 -12.6 0zM1554.38 1482.75a6.3 6.3 0 1 0 12.6 0a6.3 6.3 0 1 0 -12.6 0zM1558.63 1492.31a6.3 6.3 0 1 0 12.6 0a6.3 6.3 0 1 0 -12.6 0zM1561.82 1441.31a6.3 6.3 0 1 0 12.6 0a6.3 6.3 0 1 0 -12.6 0zM1566.07 1404.12a6.3 6.3 0 1 0 12.6 0a6.3 6.3 0 1 0 -12.6 0zM1570.32 1414.75a6.3 6.3 0 1 0 12.6 0a6.3 6.3 0 1 0 -12.6 0zM1574.57 1414.75a6.3 6.3 0 1 0 12.6 0a6.3 6.3 0 1 0 -12.6 0zM1577.75 1451.93a6.3 6.3 0 1 0 12.6 0a6.3 6.3 0 1 0 -12.6 0zM1582 1461.5a6.3 6.3 0 1 0 12.6 0a6.3 6.3 0 1 0 -12.6 0zM1586.25 1470a6.3 6.3 0 1 0 12.6 0a6.3 6.3 0 1 0 -12.6 0zM1589.44 1484.87a6.3 6.3 0 1 0 12.6 0a6.3 6.3 0 1 0 -12.6 0zM1593.69 1491.25a6.3 6.3 0 1 0 12.6 0a6.3 6.3 0 1 0 -12.6 0z" fill="#0a0a0a" /></g>
<path d="M946.2 1465.9h10.6M946.2 1646.3h10.6" stroke="#4a4a4a" stroke-width="1.3" fill="none"/>
<path d="M946.2 1375.7h6.5M946.2 1556.1h6.5M946.2 1736.5h6.5" stroke="#4a4a4a" stroke-width="1.3" fill="none"/>
<path d="M1596.2 1465.9h-10.2M1596.2 1646.3h-10.2" stroke="#4a4a4a" stroke-width="1.3" fill="none"/>
<path d="M1596.2 1375.7h-5.6M1596.2 1556.1h-5.6M1596.2 1736.5h-5.6" stroke="#4a4a4a" stroke-width="1.3" fill="none"/>
<path d="M1010.9 1826v-10.2M1270.9 1826v-10.2M1530.9 1826v-10.2" stroke="#4a4a4a" stroke-width="1.3" fill="none"/>
<path d="M1140.9 1826v-5.5M1400.9 1826v-5.5" stroke="#4a4a4a" stroke-width="1.3" fill="none"/>
<rect x="946.2" y="1311.9" width="650" height="514.1" fill="none" stroke="#666666" stroke-width="1.5" />
<text font-size="25.21" x="914.49" y="1474.7" >0</text>
<text font-size="23.98" x="901.7" y="1654.9" >–4</text>
<text font-size="24.21" x="901.3" y="1836.2" >–8</text>
<text font-size="23.42" x="985.5" y="1855" >–0.1</text>
<text font-size="24.71" x="1254.01" y="1855" >0.0</text>
<text font-size="23.37" x="1516.07" y="1855" >0.1</text>
<text font-size="25.86" textLength="57.45" lengthAdjust="spacingAndGlyphs" x="1241.72" y="1896.3" ><tspan font-style="italic">B</tspan> (T)</text>
<text font-size="26.02" textLength="80.18" lengthAdjust="spacingAndGlyphs" transform="translate(875.9 1609.1) rotate(-90)" x="-0.78" y="0" >Δ<tspan font-style="italic">R</tspan> (Ω)</text>
<text font-size="21.91" textLength="197.75" lengthAdjust="spacingAndGlyphs" x="963.4" y="1798" >Graphene - 2L PtSe<tspan font-size="12.71" dy="4.82">2</tspan></text>
<line x1="1543.3" y1="1662.4" x2="1456.2" y2="1662.4" stroke="#e8382c" stroke-width="1.3" /><polygon points="1442.6,1662.4 1459.6,1658.15 1459.6,1666.65" fill="#e8382c" />
<line x1="1439.7" y1="1686.1" x2="1533.9" y2="1686.1" stroke="#1a1a1a" stroke-width="1.7" /><polygon points="1547.5,1686.1 1530.5,1681.85 1530.5,1690.35" fill="#1a1a1a" />
<text font-size="25.04" textLength="122.84" lengthAdjust="spacingAndGlyphs" x="1438.97" y="1728.7" ><tspan font-style="italic">V</tspan><tspan font-size="13.77" dy="9.01">DS</tspan><tspan dy="-9.01"> = 1.1 V</tspan></text>
<text font-size="25.1" textLength="102.97" lengthAdjust="spacingAndGlyphs" x="1438.97" y="1765.5" ><tspan font-style="italic">V</tspan><tspan font-size="13.81" dy="9.04">BG</tspan><tspan dy="-9.04"> = 0 V</tspan></text>
<text font-size="24.74" textLength="101.06" lengthAdjust="spacingAndGlyphs" x="1439.57" y="1802.8" ><tspan font-style="italic">T</tspan> = 1.6 K</text></g>
</svg>
</body></html>
